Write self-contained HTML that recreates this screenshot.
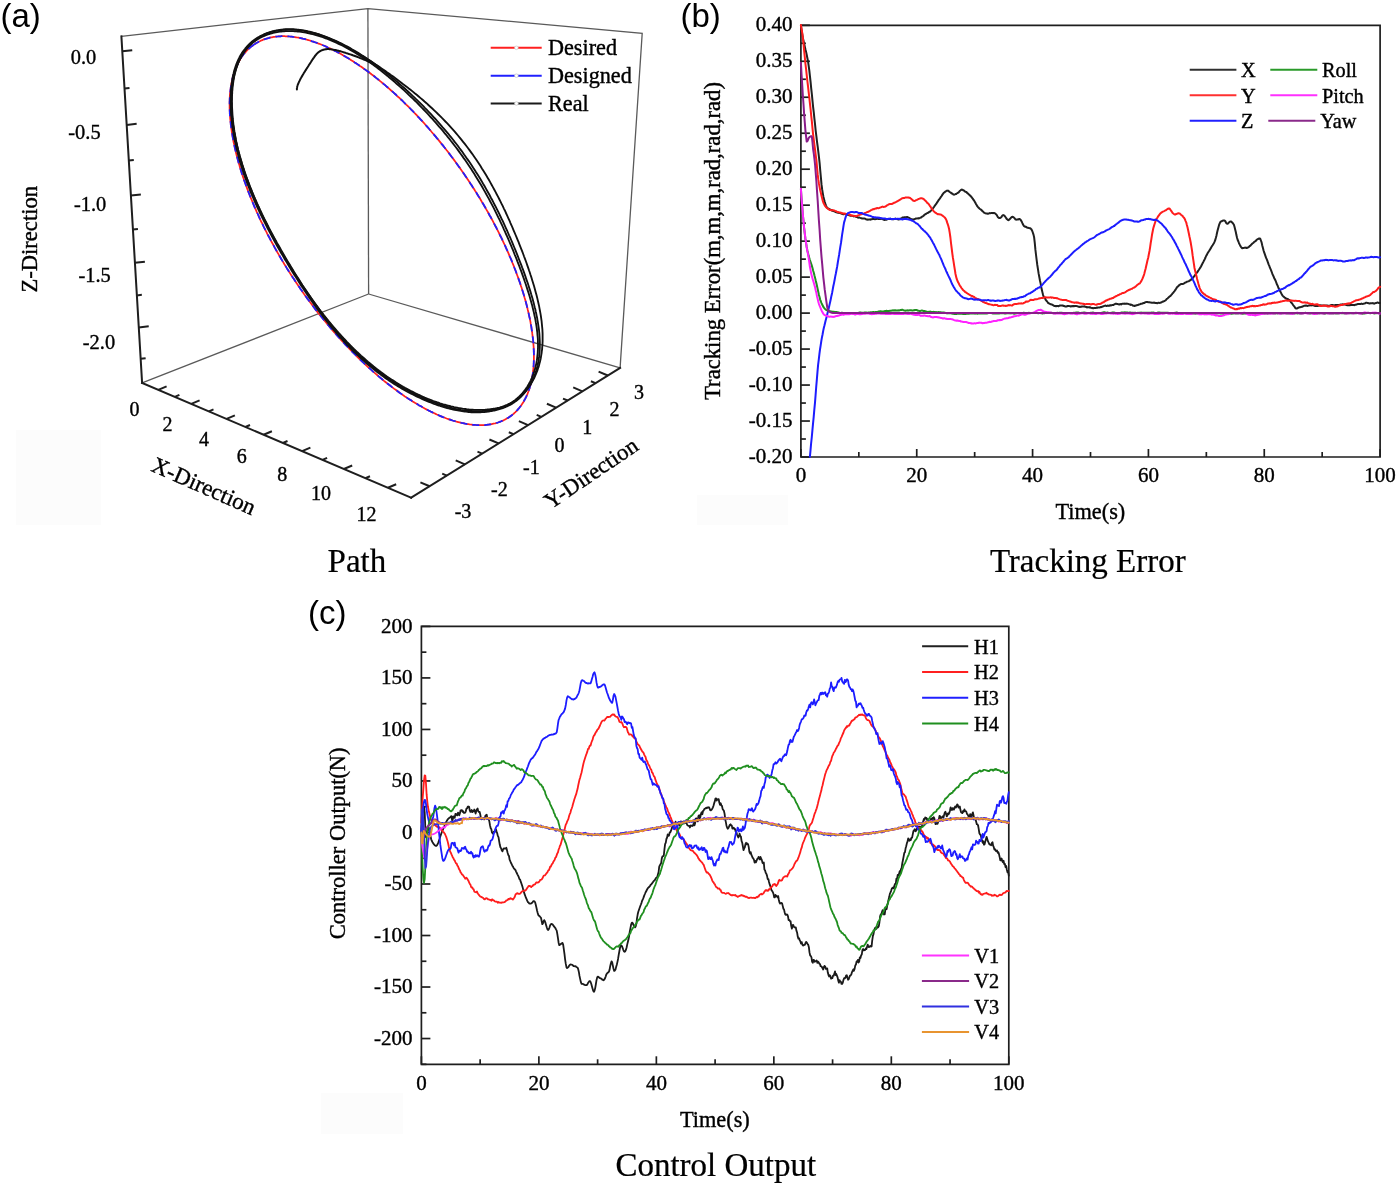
<!DOCTYPE html>
<html><head><meta charset="utf-8"><title>Figure</title>
<style>html,body{margin:0;padding:0;background:#fff;} svg{display:block;}</style></head>
<body><svg width="1400" height="1186" viewBox="0 0 1400 1186">
<rect width="1400" height="1186" fill="#fff"/>
<rect x="16" y="430" width="85" height="95" fill="#fcfcfc"/>
<rect x="697" y="495" width="91" height="30" fill="#fcfcfc"/>
<rect x="321" y="1093" width="82" height="41" fill="#fcfcfc"/>
<path d="M800.9,457.0 L800.9,25.3 L1380.1,25.3 L1380.1,457.0 Z" fill="none" stroke="#1e1e1e" stroke-width="1.7"/>
<line x1="800.90" y1="25.30" x2="809.90" y2="25.30" stroke="#1e1e1e" stroke-width="1.7" />
<text x="792.4" y="31.4" font-family="'Liberation Serif',serif" font-size="21" text-anchor="end" stroke="#000" stroke-width="0.38" >0.40</text>
<line x1="800.90" y1="43.29" x2="805.90" y2="43.29" stroke="#1e1e1e" stroke-width="1.7" />
<line x1="800.90" y1="61.27" x2="809.90" y2="61.27" stroke="#1e1e1e" stroke-width="1.7" />
<text x="792.4" y="67.4" font-family="'Liberation Serif',serif" font-size="21" text-anchor="end" stroke="#000" stroke-width="0.38" >0.35</text>
<line x1="800.90" y1="79.26" x2="805.90" y2="79.26" stroke="#1e1e1e" stroke-width="1.7" />
<line x1="800.90" y1="97.25" x2="809.90" y2="97.25" stroke="#1e1e1e" stroke-width="1.7" />
<text x="792.4" y="103.3" font-family="'Liberation Serif',serif" font-size="21" text-anchor="end" stroke="#000" stroke-width="0.38" >0.30</text>
<line x1="800.90" y1="115.24" x2="805.90" y2="115.24" stroke="#1e1e1e" stroke-width="1.7" />
<line x1="800.90" y1="133.23" x2="809.90" y2="133.23" stroke="#1e1e1e" stroke-width="1.7" />
<text x="792.4" y="139.3" font-family="'Liberation Serif',serif" font-size="21" text-anchor="end" stroke="#000" stroke-width="0.38" >0.25</text>
<line x1="800.90" y1="151.21" x2="805.90" y2="151.21" stroke="#1e1e1e" stroke-width="1.7" />
<line x1="800.90" y1="169.20" x2="809.90" y2="169.20" stroke="#1e1e1e" stroke-width="1.7" />
<text x="792.4" y="175.3" font-family="'Liberation Serif',serif" font-size="21" text-anchor="end" stroke="#000" stroke-width="0.38" >0.20</text>
<line x1="800.90" y1="187.19" x2="805.90" y2="187.19" stroke="#1e1e1e" stroke-width="1.7" />
<line x1="800.90" y1="205.18" x2="809.90" y2="205.18" stroke="#1e1e1e" stroke-width="1.7" />
<text x="792.4" y="211.3" font-family="'Liberation Serif',serif" font-size="21" text-anchor="end" stroke="#000" stroke-width="0.38" >0.15</text>
<line x1="800.90" y1="223.16" x2="805.90" y2="223.16" stroke="#1e1e1e" stroke-width="1.7" />
<line x1="800.90" y1="241.15" x2="809.90" y2="241.15" stroke="#1e1e1e" stroke-width="1.7" />
<text x="792.4" y="247.3" font-family="'Liberation Serif',serif" font-size="21" text-anchor="end" stroke="#000" stroke-width="0.38" >0.10</text>
<line x1="800.90" y1="259.14" x2="805.90" y2="259.14" stroke="#1e1e1e" stroke-width="1.7" />
<line x1="800.90" y1="277.12" x2="809.90" y2="277.12" stroke="#1e1e1e" stroke-width="1.7" />
<text x="792.4" y="283.2" font-family="'Liberation Serif',serif" font-size="21" text-anchor="end" stroke="#000" stroke-width="0.38" >0.05</text>
<line x1="800.90" y1="295.11" x2="805.90" y2="295.11" stroke="#1e1e1e" stroke-width="1.7" />
<line x1="800.90" y1="313.10" x2="809.90" y2="313.10" stroke="#1e1e1e" stroke-width="1.7" />
<text x="792.4" y="319.2" font-family="'Liberation Serif',serif" font-size="21" text-anchor="end" stroke="#000" stroke-width="0.38" >0.00</text>
<line x1="800.90" y1="331.09" x2="805.90" y2="331.09" stroke="#1e1e1e" stroke-width="1.7" />
<line x1="800.90" y1="349.07" x2="809.90" y2="349.07" stroke="#1e1e1e" stroke-width="1.7" />
<text x="792.4" y="355.2" font-family="'Liberation Serif',serif" font-size="21" text-anchor="end" stroke="#000" stroke-width="0.38" >-0.05</text>
<line x1="800.90" y1="367.06" x2="805.90" y2="367.06" stroke="#1e1e1e" stroke-width="1.7" />
<line x1="800.90" y1="385.05" x2="809.90" y2="385.05" stroke="#1e1e1e" stroke-width="1.7" />
<text x="792.4" y="391.2" font-family="'Liberation Serif',serif" font-size="21" text-anchor="end" stroke="#000" stroke-width="0.38" >-0.10</text>
<line x1="800.90" y1="403.04" x2="805.90" y2="403.04" stroke="#1e1e1e" stroke-width="1.7" />
<line x1="800.90" y1="421.03" x2="809.90" y2="421.03" stroke="#1e1e1e" stroke-width="1.7" />
<text x="792.4" y="427.1" font-family="'Liberation Serif',serif" font-size="21" text-anchor="end" stroke="#000" stroke-width="0.38" >-0.15</text>
<line x1="800.90" y1="439.01" x2="805.90" y2="439.01" stroke="#1e1e1e" stroke-width="1.7" />
<line x1="800.90" y1="457.00" x2="809.90" y2="457.00" stroke="#1e1e1e" stroke-width="1.7" />
<text x="792.4" y="463.1" font-family="'Liberation Serif',serif" font-size="21" text-anchor="end" stroke="#000" stroke-width="0.38" >-0.20</text>
<line x1="800.90" y1="457.00" x2="800.90" y2="449.00" stroke="#1e1e1e" stroke-width="1.7" />
<text x="800.9" y="481.8" font-family="'Liberation Serif',serif" font-size="21" text-anchor="middle" stroke="#000" stroke-width="0.38" >0</text>
<line x1="858.82" y1="457.00" x2="858.82" y2="452.00" stroke="#1e1e1e" stroke-width="1.7" />
<line x1="916.74" y1="457.00" x2="916.74" y2="449.00" stroke="#1e1e1e" stroke-width="1.7" />
<text x="916.7" y="481.8" font-family="'Liberation Serif',serif" font-size="21" text-anchor="middle" stroke="#000" stroke-width="0.38" >20</text>
<line x1="974.66" y1="457.00" x2="974.66" y2="452.00" stroke="#1e1e1e" stroke-width="1.7" />
<line x1="1032.58" y1="457.00" x2="1032.58" y2="449.00" stroke="#1e1e1e" stroke-width="1.7" />
<text x="1032.6" y="481.8" font-family="'Liberation Serif',serif" font-size="21" text-anchor="middle" stroke="#000" stroke-width="0.38" >40</text>
<line x1="1090.50" y1="457.00" x2="1090.50" y2="452.00" stroke="#1e1e1e" stroke-width="1.7" />
<line x1="1148.42" y1="457.00" x2="1148.42" y2="449.00" stroke="#1e1e1e" stroke-width="1.7" />
<text x="1148.4" y="481.8" font-family="'Liberation Serif',serif" font-size="21" text-anchor="middle" stroke="#000" stroke-width="0.38" >60</text>
<line x1="1206.34" y1="457.00" x2="1206.34" y2="452.00" stroke="#1e1e1e" stroke-width="1.7" />
<line x1="1264.26" y1="457.00" x2="1264.26" y2="449.00" stroke="#1e1e1e" stroke-width="1.7" />
<text x="1264.3" y="481.8" font-family="'Liberation Serif',serif" font-size="21" text-anchor="middle" stroke="#000" stroke-width="0.38" >80</text>
<line x1="1322.18" y1="457.00" x2="1322.18" y2="452.00" stroke="#1e1e1e" stroke-width="1.7" />
<line x1="1380.10" y1="457.00" x2="1380.10" y2="449.00" stroke="#1e1e1e" stroke-width="1.7" />
<text x="1380.1" y="481.8" font-family="'Liberation Serif',serif" font-size="21" text-anchor="middle" stroke="#000" stroke-width="0.38" >100</text>
<text x="1090.4" y="519.2" font-family="'Liberation Serif',serif" font-size="22.3" text-anchor="middle" stroke="#000" stroke-width="0.38" >Time(s)</text>
<text x="719.8" y="241.0" font-family="'Liberation Serif',serif" font-size="22.7" text-anchor="middle" stroke="#000" stroke-width="0.38" transform="rotate(-90 719.8 241.0)">Tracking Error(m,m,m,rad,rad,rad)</text>
<line x1="1189.70" y1="69.70" x2="1236.40" y2="69.70" stroke="#303030" stroke-width="2" />
<text x="1241.0" y="77.1" font-family="'Liberation Serif',serif" font-size="20.3" text-anchor="start" stroke="#000" stroke-width="0.38" >X</text>
<line x1="1189.70" y1="95.20" x2="1236.40" y2="95.20" stroke="#ff3030" stroke-width="2" />
<text x="1241.0" y="102.6" font-family="'Liberation Serif',serif" font-size="20.3" text-anchor="start" stroke="#000" stroke-width="0.38" >Y</text>
<line x1="1189.70" y1="120.70" x2="1236.40" y2="120.70" stroke="#2020ff" stroke-width="2" />
<text x="1241.0" y="128.1" font-family="'Liberation Serif',serif" font-size="20.3" text-anchor="start" stroke="#000" stroke-width="0.38" >Z</text>
<line x1="1270.30" y1="69.70" x2="1317.30" y2="69.70" stroke="#2a9a2a" stroke-width="2" />
<text x="1322.0" y="77.1" font-family="'Liberation Serif',serif" font-size="20.3" text-anchor="start" stroke="#000" stroke-width="0.38" >Roll</text>
<line x1="1270.30" y1="95.20" x2="1317.30" y2="95.20" stroke="#ff30ff" stroke-width="2" />
<text x="1322.0" y="102.6" font-family="'Liberation Serif',serif" font-size="20.3" text-anchor="start" stroke="#000" stroke-width="0.38" >Pitch</text>
<line x1="1268.30" y1="120.70" x2="1315.30" y2="120.70" stroke="#8a2a8a" stroke-width="2" />
<text x="1320.2" y="128.1" font-family="'Liberation Serif',serif" font-size="20.3" text-anchor="start" stroke="#000" stroke-width="0.38" >Yaw</text>
<text x="680.5" y="27.0" font-family="'Liberation Sans',sans-serif" font-size="33" text-anchor="start" >(b)</text>
<text x="1087.8" y="572.3" font-family="'Liberation Serif',serif" font-size="33" text-anchor="middle" stroke="#000" stroke-width="0.22" >Tracking Error</text>
<path d="M800.9,25.7 L801.5,29.8 L802.2,33.8 L802.8,37.4 L803.5,40.7 L804.1,43.8 L804.8,46.6 L805.4,49.3 L806.1,51.9 L806.7,54.6 L807.3,57.7 L808.0,61.1 L808.6,65.3 L809.3,70.3 L809.9,75.8 L810.6,82.1 L811.2,88.4 L811.9,94.6 L812.5,100.8 L813.1,106.9 L813.8,112.7 L814.4,118.7 L815.1,124.8 L815.7,130.8 L816.4,136.4 L817.0,141.6 L817.7,146.6 L818.3,151.6 L818.9,156.7 L819.6,162.9 L820.2,170.0 L820.9,177.5 L821.5,184.4 L822.2,189.7 L822.8,193.3 L823.4,196.7 L824.1,199.4 L824.7,201.7 L825.4,203.9 L826.0,205.6 L826.7,206.9 L827.3,207.9 L828.0,208.5 L828.6,208.7 L829.2,208.9 L829.9,209.5 L830.5,209.8 L831.2,210.0 L831.8,210.6 L832.5,210.8 L833.1,210.9 L833.8,211.2 L834.4,211.3 L835.0,211.7 L835.7,212.1 L836.3,212.3 L837.0,212.4 L837.6,212.7 L838.3,212.7 L838.9,212.9 L839.6,213.0 L840.2,213.1 L840.8,213.4 L841.5,213.7 L842.1,213.8 L842.8,214.0 L843.4,214.3 L844.1,214.2 L844.7,213.9 L845.4,214.1 L846.0,214.3 L846.6,214.2 L847.3,214.5 L847.9,215.0 L848.6,215.1 L849.2,215.3 L849.9,215.5 L850.5,215.7 L851.2,215.7 L851.8,215.8 L852.4,215.8 L853.1,216.1 L853.7,216.4 L854.4,216.2 L855.0,216.3 L855.7,216.7 L856.3,216.9 L857.0,216.8 L857.6,217.3 L858.2,217.7 L858.9,217.6 L859.5,217.6 L860.2,217.9 L860.8,218.1 L861.5,218.3 L862.1,218.5 L862.8,218.5 L863.4,218.5 L864.0,218.6 L864.7,218.6 L865.3,218.8 L866.0,219.3 L866.6,219.6 L867.3,219.5 L867.9,219.7 L868.5,219.6 L869.2,219.4 L869.8,219.4 L870.5,219.7 L871.1,219.3 L871.8,219.3 L872.4,219.1 L873.1,219.1 L873.7,219.1 L874.3,219.1 L875.0,219.3 L875.6,219.1 L876.3,219.0 L876.9,218.5 L877.6,218.8 L878.2,218.9 L878.9,219.0 L879.5,218.9 L880.1,219.1 L880.8,218.9 L881.4,218.7 L882.1,219.0 L882.7,219.2 L883.4,219.4 L884.0,219.8 L884.7,219.9 L885.3,219.8 L885.9,219.7 L886.6,219.7 L887.2,219.4 L887.9,219.1 L888.5,219.0 L889.2,218.9 L889.8,218.9 L890.5,218.8 L891.1,218.9 L891.7,218.9 L892.4,219.2 L893.0,219.1 L893.7,219.2 L894.3,219.1 L895.0,219.0 L895.6,218.6 L896.3,218.9 L896.9,219.0 L897.5,219.2 L898.2,219.2 L898.8,219.6 L899.5,219.2 L900.1,218.9 L900.8,218.6 L901.4,218.2 L902.1,217.8 L902.7,217.4 L903.3,217.7 L904.0,217.4 L904.6,217.2 L905.3,217.2 L905.9,217.3 L906.6,217.1 L907.2,217.0 L907.8,217.3 L908.5,217.4 L909.1,217.9 L909.8,218.3 L910.4,218.8 L911.1,219.0 L911.7,219.5 L912.4,219.4 L913.0,219.3 L913.6,219.4 L914.3,219.3 L914.9,219.0 L915.6,218.6 L916.2,218.6 L916.9,218.4 L917.5,218.4 L918.2,218.2 L918.8,218.5 L919.4,218.1 L920.1,217.9 L920.7,217.5 L921.4,217.4 L922.0,216.7 L922.7,216.3 L923.3,215.9 L924.0,215.4 L924.6,214.7 L925.2,214.3 L925.9,214.0 L926.5,213.5 L927.2,213.1 L927.8,212.8 L928.5,212.7 L929.1,212.0 L929.8,211.8 L930.4,211.2 L931.0,210.6 L931.7,209.8 L932.3,209.3 L933.0,208.3 L933.6,207.4 L934.3,206.6 L934.9,205.6 L935.6,204.7 L936.2,203.9 L936.8,202.9 L937.5,201.9 L938.1,200.9 L938.8,199.9 L939.4,199.1 L940.1,198.1 L940.7,197.2 L941.4,196.3 L942.0,195.4 L942.6,194.3 L943.3,193.5 L943.9,192.7 L944.6,192.3 L945.2,191.7 L945.9,191.3 L946.5,190.8 L947.1,190.8 L947.8,190.6 L948.4,190.8 L949.1,191.5 L949.7,192.0 L950.4,192.4 L951.0,192.8 L951.7,193.5 L952.3,193.6 L952.9,194.1 L953.6,194.6 L954.2,194.7 L954.9,194.4 L955.5,194.1 L956.2,194.0 L956.8,193.4 L957.5,193.1 L958.1,192.7 L958.7,192.3 L959.4,191.4 L960.0,190.8 L960.7,190.3 L961.3,189.7 L962.0,189.6 L962.6,189.9 L963.3,190.3 L963.9,190.5 L964.5,191.1 L965.2,191.6 L965.8,191.9 L966.5,192.0 L967.1,192.9 L967.8,193.4 L968.4,194.0 L969.1,194.6 L969.7,195.3 L970.3,195.7 L971.0,196.5 L971.6,197.2 L972.3,198.1 L972.9,198.9 L973.6,200.0 L974.2,200.7 L974.9,201.9 L975.5,203.0 L976.1,204.2 L976.8,205.3 L977.4,206.4 L978.1,207.2 L978.7,207.8 L979.4,208.5 L980.0,209.0 L980.7,209.5 L981.3,209.8 L981.9,210.5 L982.6,211.3 L983.2,211.8 L983.9,212.4 L984.5,212.9 L985.2,213.2 L985.8,213.4 L986.5,213.4 L987.1,213.5 L987.7,213.7 L988.4,213.7 L989.0,213.4 L989.7,213.1 L990.3,213.2 L991.0,213.1 L991.6,213.0 L992.2,212.9 L992.9,213.2 L993.5,213.1 L994.2,213.1 L994.8,213.2 L995.5,213.8 L996.1,214.4 L996.8,215.1 L997.4,216.2 L998.0,217.2 L998.7,217.8 L999.3,218.1 L1000.0,218.0 L1000.6,217.7 L1001.3,217.2 L1001.9,216.2 L1002.6,215.4 L1003.2,215.1 L1003.8,215.3 L1004.5,215.8 L1005.1,216.5 L1005.8,217.5 L1006.4,218.5 L1007.1,219.3 L1007.7,219.8 L1008.4,220.2 L1009.0,219.8 L1009.6,219.2 L1010.3,218.5 L1010.9,217.8 L1011.6,217.2 L1012.2,216.8 L1012.9,217.0 L1013.5,217.2 L1014.2,217.9 L1014.8,218.5 L1015.4,219.3 L1016.1,219.7 L1016.7,219.6 L1017.4,219.4 L1018.0,219.6 L1018.7,219.2 L1019.3,219.0 L1020.0,219.2 L1020.6,219.7 L1021.2,220.7 L1021.9,222.0 L1022.5,223.5 L1023.2,224.7 L1023.8,225.9 L1024.5,226.3 L1025.1,226.8 L1025.8,226.6 L1026.4,227.2 L1027.0,227.5 L1027.7,227.8 L1028.3,227.8 L1029.0,228.1 L1029.6,228.2 L1030.3,228.3 L1030.9,228.8 L1031.5,229.5 L1032.2,230.9 L1032.8,232.5 L1033.5,234.6 L1034.1,237.2 L1034.8,243.1 L1035.4,249.7 L1036.1,255.5 L1036.7,260.3 L1037.3,265.0 L1038.0,269.3 L1038.6,273.4 L1039.3,277.0 L1039.9,280.2 L1040.6,283.4 L1041.2,286.9 L1041.9,290.0 L1042.5,292.6 L1043.1,295.1 L1043.8,297.0 L1044.4,297.6 L1045.1,298.5 L1045.7,299.8 L1046.4,300.7 L1047.0,301.3 L1047.7,302.3 L1048.3,303.0 L1048.9,303.3 L1049.6,303.7 L1050.2,304.0 L1050.9,304.3 L1051.5,304.4 L1052.2,304.7 L1052.8,305.0 L1053.5,305.6 L1054.1,305.8 L1054.7,306.1 L1055.4,305.9 L1056.0,306.3 L1056.7,306.0 L1057.3,306.1 L1058.0,306.0 L1058.6,306.3 L1059.3,305.8 L1059.9,305.5 L1060.5,305.4 L1061.2,305.6 L1061.8,305.4 L1062.5,305.4 L1063.1,305.8 L1063.8,306.0 L1064.4,306.1 L1065.1,306.5 L1065.7,306.6 L1066.3,306.5 L1067.0,306.3 L1067.6,306.0 L1068.3,305.9 L1068.9,305.9 L1069.6,306.1 L1070.2,306.3 L1070.8,306.5 L1071.5,306.2 L1072.1,306.1 L1072.8,306.2 L1073.4,306.0 L1074.1,306.2 L1074.7,306.1 L1075.4,306.0 L1076.0,306.0 L1076.6,306.1 L1077.3,306.2 L1077.9,306.4 L1078.6,306.8 L1079.2,306.8 L1079.9,307.0 L1080.5,306.7 L1081.2,306.7 L1081.8,306.5 L1082.4,306.5 L1083.1,306.4 L1083.7,306.4 L1084.4,306.3 L1085.0,306.7 L1085.7,306.9 L1086.3,306.9 L1087.0,307.4 L1087.6,307.3 L1088.2,307.3 L1088.9,307.2 L1089.5,307.5 L1090.2,307.2 L1090.8,307.7 L1091.5,307.9 L1092.1,308.2 L1092.8,307.9 L1093.4,308.3 L1094.0,308.1 L1094.7,308.1 L1095.3,308.0 L1096.0,308.0 L1096.6,307.6 L1097.3,307.8 L1097.9,307.4 L1098.6,307.6 L1099.2,307.4 L1099.8,307.4 L1100.5,307.1 L1101.1,307.2 L1101.8,306.8 L1102.4,306.7 L1103.1,306.3 L1103.7,306.2 L1104.4,305.9 L1105.0,305.7 L1105.6,305.6 L1106.3,306.0 L1106.9,305.9 L1107.6,305.6 L1108.2,305.7 L1108.9,305.9 L1109.5,305.5 L1110.2,305.3 L1110.8,305.5 L1111.4,305.3 L1112.1,305.1 L1112.7,305.0 L1113.4,304.9 L1114.0,304.4 L1114.7,304.3 L1115.3,303.8 L1115.9,303.7 L1116.6,303.8 L1117.2,304.1 L1117.9,304.0 L1118.5,304.4 L1119.2,304.6 L1119.8,304.2 L1120.5,304.1 L1121.1,304.4 L1121.7,303.9 L1122.4,303.8 L1123.0,303.8 L1123.7,303.7 L1124.3,303.6 L1125.0,303.9 L1125.6,303.7 L1126.3,303.6 L1126.9,303.8 L1127.5,303.7 L1128.2,303.9 L1128.8,304.1 L1129.5,304.4 L1130.1,304.4 L1130.8,304.9 L1131.4,304.7 L1132.1,304.9 L1132.7,305.4 L1133.3,305.8 L1134.0,305.7 L1134.6,306.0 L1135.3,305.7 L1135.9,305.6 L1136.6,305.2 L1137.2,305.2 L1137.9,304.9 L1138.5,304.8 L1139.1,304.4 L1139.8,304.2 L1140.4,304.0 L1141.1,303.7 L1141.7,303.7 L1142.4,303.6 L1143.0,303.2 L1143.7,303.0 L1144.3,303.0 L1144.9,302.5 L1145.6,302.2 L1146.2,302.1 L1146.9,302.0 L1147.5,302.0 L1148.2,302.2 L1148.8,302.2 L1149.5,302.3 L1150.1,302.4 L1150.7,302.4 L1151.4,302.7 L1152.0,302.7 L1152.7,302.8 L1153.3,302.7 L1154.0,302.6 L1154.6,302.7 L1155.2,303.0 L1155.9,303.0 L1156.5,303.0 L1157.2,303.2 L1157.8,303.0 L1158.5,302.7 L1159.1,302.8 L1159.8,302.9 L1160.4,302.7 L1161.0,302.5 L1161.7,302.3 L1162.3,301.8 L1163.0,301.5 L1163.6,301.5 L1164.3,301.0 L1164.9,300.7 L1165.6,300.3 L1166.2,299.8 L1166.8,298.9 L1167.5,298.5 L1168.1,297.9 L1168.8,297.2 L1169.4,296.6 L1170.1,296.2 L1170.7,295.7 L1171.4,294.7 L1172.0,294.2 L1172.6,293.3 L1173.3,292.7 L1173.9,291.8 L1174.6,291.1 L1175.2,290.1 L1175.9,289.1 L1176.5,288.1 L1177.2,287.0 L1177.8,286.7 L1178.4,286.0 L1179.1,285.3 L1179.7,284.7 L1180.4,284.5 L1181.0,284.0 L1181.7,283.9 L1182.3,283.9 L1183.0,283.9 L1183.6,283.7 L1184.2,283.2 L1184.9,282.7 L1185.5,282.5 L1186.2,282.3 L1186.8,281.8 L1187.5,281.6 L1188.1,281.4 L1188.8,281.2 L1189.4,280.7 L1190.0,280.3 L1190.7,280.2 L1191.3,279.3 L1192.0,278.6 L1192.6,278.0 L1193.3,277.4 L1193.9,276.5 L1194.5,275.8 L1195.2,274.9 L1195.8,274.3 L1196.5,273.3 L1197.1,272.3 L1197.8,271.5 L1198.4,270.5 L1199.1,269.5 L1199.7,268.5 L1200.3,267.6 L1201.0,266.5 L1201.6,265.3 L1202.3,263.8 L1202.9,262.7 L1203.6,261.4 L1204.2,260.2 L1204.9,258.9 L1205.5,257.5 L1206.1,256.0 L1206.8,254.9 L1207.4,253.6 L1208.1,252.4 L1208.7,251.4 L1209.4,250.6 L1210.0,249.5 L1210.7,248.4 L1211.3,247.3 L1211.9,246.3 L1212.6,245.2 L1213.2,244.2 L1213.9,243.2 L1214.5,241.9 L1215.2,240.2 L1215.8,238.1 L1216.5,235.4 L1217.1,232.5 L1217.7,230.0 L1218.4,227.4 L1219.0,225.2 L1219.7,223.4 L1220.3,222.1 L1221.0,221.5 L1221.6,221.3 L1222.3,220.9 L1222.9,220.6 L1223.5,220.5 L1224.2,220.5 L1224.8,220.7 L1225.5,221.5 L1226.1,222.8 L1226.8,223.6 L1227.4,223.7 L1228.1,223.5 L1228.7,222.7 L1229.3,222.1 L1230.0,221.7 L1230.6,221.6 L1231.3,221.5 L1231.9,222.3 L1232.6,222.9 L1233.2,223.7 L1233.9,224.8 L1234.5,226.8 L1235.1,229.3 L1235.8,232.0 L1236.4,235.1 L1237.1,237.9 L1237.7,240.0 L1238.4,241.5 L1239.0,243.2 L1239.6,244.4 L1240.3,245.7 L1240.9,246.9 L1241.6,247.7 L1242.2,248.2 L1242.9,248.0 L1243.5,247.9 L1244.2,247.8 L1244.8,247.7 L1245.4,247.6 L1246.1,247.8 L1246.7,248.0 L1247.4,247.7 L1248.0,247.5 L1248.7,247.1 L1249.3,246.5 L1250.0,245.8 L1250.6,245.5 L1251.2,244.7 L1251.9,244.1 L1252.5,243.4 L1253.2,243.0 L1253.8,242.3 L1254.5,241.7 L1255.1,241.4 L1255.8,240.9 L1256.4,240.0 L1257.0,239.6 L1257.7,239.2 L1258.3,238.8 L1259.0,238.5 L1259.6,238.4 L1260.3,238.9 L1260.9,240.5 L1261.6,242.4 L1262.2,245.2 L1262.8,247.6 L1263.5,250.2 L1264.1,252.2 L1264.8,254.2 L1265.4,255.9 L1266.1,257.9 L1266.7,259.1 L1267.4,260.9 L1268.0,262.7 L1268.6,264.3 L1269.3,265.8 L1269.9,267.7 L1270.6,269.2 L1271.2,270.6 L1271.9,272.5 L1272.5,274.2 L1273.2,275.6 L1273.8,277.0 L1274.4,278.6 L1275.1,279.8 L1275.7,281.0 L1276.4,282.9 L1277.0,284.6 L1277.7,285.8 L1278.3,287.5 L1278.9,288.8 L1279.6,290.0 L1280.2,291.2 L1280.9,292.6 L1281.5,293.8 L1282.2,295.1 L1282.8,295.9 L1283.5,296.6 L1284.1,297.0 L1284.7,297.7 L1285.4,298.0 L1286.0,298.5 L1286.7,298.8 L1287.3,299.0 L1288.0,299.1 L1288.6,299.7 L1289.3,300.0 L1289.9,300.6 L1290.5,301.5 L1291.2,302.6 L1291.8,303.1 L1292.5,304.0 L1293.1,305.0 L1293.8,305.9 L1294.4,306.5 L1295.1,307.7 L1295.7,308.3 L1296.3,308.6 L1297.0,308.6 L1297.6,308.1 L1298.3,307.7 L1298.9,307.5 L1299.6,307.3 L1300.2,307.2 L1300.9,307.1 L1301.5,306.8 L1302.1,306.7 L1302.8,306.5 L1303.4,306.1 L1304.1,305.8 L1304.7,305.7 L1305.4,305.6 L1306.0,305.7 L1306.7,305.6 L1307.3,305.9 L1307.9,305.8 L1308.6,305.6 L1309.2,305.5 L1309.9,305.3 L1310.5,305.3 L1311.2,305.5 L1311.8,305.1 L1312.5,305.1 L1313.1,305.3 L1313.7,305.5 L1314.4,305.4 L1315.0,306.0 L1315.7,305.8 L1316.3,306.1 L1317.0,305.8 L1317.6,306.0 L1318.2,305.7 L1318.9,305.7 L1319.5,305.3 L1320.2,305.4 L1320.8,305.3 L1321.5,305.4 L1322.1,305.5 L1322.8,305.6 L1323.4,305.5 L1324.0,305.4 L1324.7,305.4 L1325.3,305.4 L1326.0,305.4 L1326.6,305.5 L1327.3,305.7 L1327.9,305.6 L1328.6,305.9 L1329.2,305.8 L1329.8,305.7 L1330.5,305.3 L1331.1,305.2 L1331.8,304.9 L1332.4,305.0 L1333.1,305.2 L1333.7,305.4 L1334.4,305.2 L1335.0,305.2 L1335.6,305.1 L1336.3,305.0 L1336.9,305.0 L1337.6,305.0 L1338.2,305.0 L1338.9,305.1 L1339.5,304.9 L1340.2,304.6 L1340.8,304.7 L1341.4,304.6 L1342.1,304.3 L1342.7,304.5 L1343.4,304.6 L1344.0,304.5 L1344.7,304.4 L1345.3,304.6 L1346.0,304.9 L1346.6,304.7 L1347.2,305.2 L1347.9,305.3 L1348.5,305.3 L1349.2,305.1 L1349.8,305.3 L1350.5,304.9 L1351.1,304.8 L1351.8,305.0 L1352.4,304.9 L1353.0,305.0 L1353.7,305.1 L1354.3,305.2 L1355.0,304.8 L1355.6,304.8 L1356.3,304.5 L1356.9,304.4 L1357.6,304.0 L1358.2,304.1 L1358.8,303.9 L1359.5,304.0 L1360.1,304.0 L1360.8,304.0 L1361.4,303.6 L1362.1,303.8 L1362.7,303.9 L1363.3,303.8 L1364.0,303.6 L1364.6,303.5 L1365.3,303.3 L1365.9,302.8 L1366.6,302.7 L1367.2,302.9 L1367.9,303.0 L1368.5,303.2 L1369.1,303.4 L1369.8,303.5 L1370.4,303.2 L1371.1,303.3 L1371.7,303.2 L1372.4,303.2 L1373.0,303.1 L1373.7,303.5 L1374.3,303.7 L1374.9,303.4 L1375.6,303.1 L1376.2,303.0 L1376.9,302.7 L1377.5,302.4 L1378.2,302.8 L1378.8,302.9 L1379.5,302.9 L1380.1,302.9" fill="none" stroke="#202020" stroke-width="2.0" stroke-linejoin="round" stroke-linecap="round" />
<path d="M800.9,25.0 L801.5,28.5 L802.2,32.6 L802.8,37.5 L803.5,43.5 L804.1,50.4 L804.8,57.1 L805.4,63.5 L806.1,69.1 L806.7,74.9 L807.3,80.5 L808.0,86.2 L808.6,91.6 L809.3,97.5 L809.9,103.2 L810.6,109.4 L811.2,115.7 L811.9,121.9 L812.5,128.3 L813.1,134.5 L813.8,139.9 L814.4,144.9 L815.1,150.0 L815.7,155.0 L816.4,160.3 L817.0,167.2 L817.7,174.4 L818.3,179.4 L818.9,183.4 L819.6,187.1 L820.2,190.3 L820.9,193.0 L821.5,195.7 L822.2,198.6 L822.8,200.9 L823.4,202.7 L824.1,204.1 L824.7,205.4 L825.4,206.3 L826.0,207.2 L826.7,207.8 L827.3,208.3 L828.0,208.7 L828.6,209.1 L829.2,209.7 L829.9,210.1 L830.5,210.1 L831.2,210.3 L831.8,210.2 L832.5,210.1 L833.1,210.2 L833.8,210.4 L834.4,210.4 L835.0,210.9 L835.7,211.1 L836.3,211.3 L837.0,211.8 L837.6,212.1 L838.3,212.1 L838.9,212.3 L839.6,212.6 L840.2,212.6 L840.8,212.7 L841.5,213.0 L842.1,213.2 L842.8,213.3 L843.4,213.4 L844.1,213.7 L844.7,213.6 L845.4,213.7 L846.0,213.9 L846.6,214.0 L847.3,214.0 L847.9,214.1 L848.6,214.5 L849.2,214.5 L849.9,214.7 L850.5,215.1 L851.2,215.6 L851.8,215.3 L852.4,215.7 L853.1,215.8 L853.7,215.7 L854.4,215.9 L855.0,216.1 L855.7,216.1 L856.3,216.2 L857.0,216.0 L857.6,215.4 L858.2,215.4 L858.9,215.1 L859.5,214.9 L860.2,214.6 L860.8,214.5 L861.5,214.2 L862.1,213.8 L862.8,213.7 L863.4,213.7 L864.0,213.6 L864.7,213.2 L865.3,212.9 L866.0,212.6 L866.6,212.3 L867.3,212.1 L867.9,212.0 L868.5,211.5 L869.2,211.3 L869.8,211.1 L870.5,210.5 L871.1,210.1 L871.8,209.8 L872.4,209.5 L873.1,209.1 L873.7,209.3 L874.3,208.9 L875.0,208.7 L875.6,208.6 L876.3,208.5 L876.9,208.0 L877.6,208.1 L878.2,208.3 L878.9,208.1 L879.5,207.8 L880.1,207.6 L880.8,207.3 L881.4,207.0 L882.1,206.8 L882.7,206.6 L883.4,206.9 L884.0,206.9 L884.7,206.7 L885.3,206.5 L885.9,206.3 L886.6,205.7 L887.2,205.1 L887.9,204.9 L888.5,204.4 L889.2,204.2 L889.8,204.1 L890.5,204.1 L891.1,204.0 L891.7,204.0 L892.4,203.8 L893.0,203.4 L893.7,203.0 L894.3,202.7 L895.0,202.5 L895.6,202.2 L896.3,201.9 L896.9,201.5 L897.5,201.2 L898.2,200.7 L898.8,200.5 L899.5,200.0 L900.1,199.7 L900.8,199.2 L901.4,198.6 L902.1,198.3 L902.7,198.2 L903.3,198.0 L904.0,197.9 L904.6,197.9 L905.3,197.5 L905.9,197.4 L906.6,197.5 L907.2,197.5 L907.8,197.6 L908.5,197.5 L909.1,197.7 L909.8,197.8 L910.4,198.2 L911.1,198.7 L911.7,199.3 L912.4,199.9 L913.0,200.5 L913.6,200.8 L914.3,200.9 L914.9,200.8 L915.6,200.6 L916.2,200.1 L916.9,199.9 L917.5,199.4 L918.2,199.2 L918.8,198.9 L919.4,198.7 L920.1,198.4 L920.7,198.3 L921.4,198.2 L922.0,198.3 L922.7,198.7 L923.3,198.8 L924.0,199.3 L924.6,200.0 L925.2,200.5 L925.9,201.2 L926.5,201.9 L927.2,202.8 L927.8,203.2 L928.5,203.9 L929.1,204.7 L929.8,205.8 L930.4,206.5 L931.0,207.5 L931.7,208.6 L932.3,209.2 L933.0,210.2 L933.6,211.1 L934.3,211.8 L934.9,212.3 L935.6,212.9 L936.2,213.2 L936.8,213.6 L937.5,214.0 L938.1,214.3 L938.8,214.1 L939.4,214.3 L940.1,214.5 L940.7,214.5 L941.4,214.8 L942.0,215.3 L942.6,215.7 L943.3,216.3 L943.9,216.8 L944.6,217.3 L945.2,218.0 L945.9,219.1 L946.5,220.4 L947.1,222.4 L947.8,224.3 L948.4,226.3 L949.1,229.0 L949.7,232.7 L950.4,237.5 L951.0,243.0 L951.7,248.5 L952.3,253.3 L952.9,257.7 L953.6,261.9 L954.2,265.9 L954.9,270.1 L955.5,274.0 L956.2,276.9 L956.8,279.2 L957.5,281.0 L958.1,282.3 L958.7,283.3 L959.4,284.7 L960.0,285.8 L960.7,286.7 L961.3,287.7 L962.0,288.7 L962.6,289.5 L963.3,290.2 L963.9,290.7 L964.5,291.2 L965.2,292.0 L965.8,292.3 L966.5,292.7 L967.1,293.3 L967.8,293.8 L968.4,293.9 L969.1,294.5 L969.7,294.9 L970.3,295.2 L971.0,295.6 L971.6,295.9 L972.3,296.0 L972.9,296.5 L973.6,296.8 L974.2,297.0 L974.9,297.7 L975.5,298.2 L976.1,298.3 L976.8,298.7 L977.4,299.0 L978.1,299.1 L978.7,299.3 L979.4,299.8 L980.0,300.1 L980.7,300.4 L981.3,300.8 L981.9,301.1 L982.6,301.5 L983.2,302.1 L983.9,302.2 L984.5,302.5 L985.2,302.9 L985.8,302.9 L986.5,303.1 L987.1,303.5 L987.7,303.8 L988.4,303.9 L989.0,304.3 L989.7,304.2 L990.3,304.4 L991.0,304.6 L991.6,304.8 L992.2,304.8 L992.9,305.1 L993.5,305.3 L994.2,305.1 L994.8,304.8 L995.5,305.0 L996.1,305.0 L996.8,305.0 L997.4,305.1 L998.0,305.9 L998.7,306.0 L999.3,306.0 L1000.0,306.1 L1000.6,305.9 L1001.3,305.8 L1001.9,305.7 L1002.6,305.4 L1003.2,305.5 L1003.8,305.8 L1004.5,305.7 L1005.1,305.7 L1005.8,306.0 L1006.4,305.8 L1007.1,305.7 L1007.7,305.6 L1008.4,305.2 L1009.0,305.1 L1009.6,305.4 L1010.3,305.2 L1010.9,305.3 L1011.6,305.4 L1012.2,305.5 L1012.9,304.8 L1013.5,304.5 L1014.2,304.2 L1014.8,304.1 L1015.4,304.0 L1016.1,304.0 L1016.7,303.9 L1017.4,303.8 L1018.0,303.7 L1018.7,303.5 L1019.3,303.4 L1020.0,303.4 L1020.6,303.4 L1021.2,303.3 L1021.9,303.4 L1022.5,303.6 L1023.2,303.3 L1023.8,302.9 L1024.5,302.7 L1025.1,302.3 L1025.8,301.6 L1026.4,301.5 L1027.0,301.7 L1027.7,301.5 L1028.3,301.4 L1029.0,301.0 L1029.6,300.6 L1030.3,299.9 L1030.9,299.8 L1031.5,300.0 L1032.2,300.0 L1032.8,300.0 L1033.5,300.0 L1034.1,299.7 L1034.8,299.2 L1035.4,299.4 L1036.1,299.2 L1036.7,299.3 L1037.3,299.1 L1038.0,298.9 L1038.6,298.6 L1039.3,298.5 L1039.9,298.3 L1040.6,298.2 L1041.2,298.1 L1041.9,298.0 L1042.5,298.0 L1043.1,297.7 L1043.8,297.7 L1044.4,297.5 L1045.1,297.3 L1045.7,297.3 L1046.4,297.5 L1047.0,297.4 L1047.7,297.5 L1048.3,297.4 L1048.9,297.4 L1049.6,297.4 L1050.2,297.4 L1050.9,297.2 L1051.5,297.7 L1052.2,297.5 L1052.8,297.6 L1053.5,297.7 L1054.1,298.1 L1054.7,297.9 L1055.4,297.9 L1056.0,298.0 L1056.7,298.2 L1057.3,298.2 L1058.0,298.6 L1058.6,298.9 L1059.3,299.1 L1059.9,299.4 L1060.5,299.6 L1061.2,299.7 L1061.8,299.8 L1062.5,299.9 L1063.1,300.0 L1063.8,299.9 L1064.4,299.9 L1065.1,300.0 L1065.7,300.0 L1066.3,300.1 L1067.0,300.5 L1067.6,300.7 L1068.3,300.9 L1068.9,301.1 L1069.6,301.4 L1070.2,301.5 L1070.8,301.7 L1071.5,302.0 L1072.1,302.2 L1072.8,302.3 L1073.4,302.4 L1074.1,302.4 L1074.7,302.8 L1075.4,302.6 L1076.0,302.3 L1076.6,302.7 L1077.3,302.5 L1077.9,302.5 L1078.6,302.8 L1079.2,303.2 L1079.9,303.3 L1080.5,303.5 L1081.2,303.4 L1081.8,303.6 L1082.4,303.7 L1083.1,303.7 L1083.7,304.0 L1084.4,304.0 L1085.0,304.2 L1085.7,304.3 L1086.3,304.1 L1087.0,304.0 L1087.6,304.0 L1088.2,303.9 L1088.9,304.0 L1089.5,304.0 L1090.2,304.2 L1090.8,304.4 L1091.5,304.3 L1092.1,304.0 L1092.8,304.1 L1093.4,304.1 L1094.0,304.0 L1094.7,304.4 L1095.3,304.6 L1096.0,304.8 L1096.6,304.5 L1097.3,304.4 L1097.9,304.1 L1098.6,304.0 L1099.2,304.1 L1099.8,304.1 L1100.5,303.7 L1101.1,303.6 L1101.8,303.2 L1102.4,302.5 L1103.1,302.4 L1103.7,302.2 L1104.4,301.5 L1105.0,301.2 L1105.6,301.0 L1106.3,300.3 L1106.9,300.3 L1107.6,300.1 L1108.2,299.6 L1108.9,299.5 L1109.5,299.1 L1110.2,298.7 L1110.8,298.7 L1111.4,298.6 L1112.1,298.2 L1112.7,298.0 L1113.4,297.9 L1114.0,297.2 L1114.7,297.0 L1115.3,296.5 L1115.9,296.3 L1116.6,295.9 L1117.2,295.6 L1117.9,295.2 L1118.5,295.0 L1119.2,294.8 L1119.8,294.3 L1120.5,294.1 L1121.1,293.8 L1121.7,293.4 L1122.4,293.1 L1123.0,293.1 L1123.7,293.0 L1124.3,292.6 L1125.0,292.3 L1125.6,292.0 L1126.3,291.5 L1126.9,291.0 L1127.5,290.7 L1128.2,290.3 L1128.8,290.0 L1129.5,289.8 L1130.1,289.5 L1130.8,289.2 L1131.4,288.9 L1132.1,288.7 L1132.7,288.1 L1133.3,287.9 L1134.0,287.5 L1134.6,287.4 L1135.3,286.7 L1135.9,286.3 L1136.6,285.6 L1137.2,285.0 L1137.9,284.5 L1138.5,284.1 L1139.1,283.7 L1139.8,283.3 L1140.4,282.5 L1141.1,281.4 L1141.7,280.3 L1142.4,278.9 L1143.0,277.3 L1143.7,275.7 L1144.3,273.7 L1144.9,271.3 L1145.6,268.8 L1146.2,266.0 L1146.9,263.0 L1147.5,260.3 L1148.2,257.7 L1148.8,254.5 L1149.5,251.0 L1150.1,247.3 L1150.7,243.0 L1151.4,238.8 L1152.0,234.8 L1152.7,231.2 L1153.3,228.3 L1154.0,225.9 L1154.6,224.0 L1155.2,222.2 L1155.9,220.4 L1156.5,218.9 L1157.2,218.0 L1157.8,216.9 L1158.5,215.9 L1159.1,215.1 L1159.8,214.2 L1160.4,213.3 L1161.0,212.9 L1161.7,212.4 L1162.3,211.9 L1163.0,211.6 L1163.6,211.4 L1164.3,211.0 L1164.9,210.6 L1165.6,210.3 L1166.2,210.0 L1166.8,209.5 L1167.5,209.0 L1168.1,208.7 L1168.8,208.5 L1169.4,208.5 L1170.1,209.2 L1170.7,210.1 L1171.4,211.1 L1172.0,212.0 L1172.6,213.0 L1173.3,213.5 L1173.9,214.0 L1174.6,214.5 L1175.2,214.6 L1175.9,214.1 L1176.5,214.1 L1177.2,213.7 L1177.8,213.4 L1178.4,213.2 L1179.1,213.5 L1179.7,213.4 L1180.4,214.1 L1181.0,214.7 L1181.7,215.3 L1182.3,215.6 L1183.0,216.6 L1183.6,217.3 L1184.2,218.0 L1184.9,219.2 L1185.5,220.8 L1186.2,222.3 L1186.8,224.8 L1187.5,227.3 L1188.1,230.0 L1188.8,233.2 L1189.4,236.3 L1190.0,238.9 L1190.7,242.5 L1191.3,246.2 L1192.0,250.4 L1192.6,255.2 L1193.3,259.8 L1193.9,263.9 L1194.5,268.0 L1195.2,271.0 L1195.8,273.5 L1196.5,276.2 L1197.1,278.9 L1197.8,281.5 L1198.4,283.8 L1199.1,286.1 L1199.7,288.0 L1200.3,289.5 L1201.0,290.6 L1201.6,291.9 L1202.3,292.3 L1202.9,293.1 L1203.6,293.6 L1204.2,294.2 L1204.9,294.4 L1205.5,295.3 L1206.1,295.6 L1206.8,296.0 L1207.4,296.3 L1208.1,296.8 L1208.7,297.0 L1209.4,297.3 L1210.0,297.6 L1210.7,297.9 L1211.3,298.3 L1211.9,298.7 L1212.6,299.0 L1213.2,299.2 L1213.9,299.3 L1214.5,299.6 L1215.2,299.7 L1215.8,299.8 L1216.5,300.4 L1217.1,301.1 L1217.7,301.4 L1218.4,301.7 L1219.0,301.8 L1219.7,301.7 L1220.3,301.6 L1221.0,301.7 L1221.6,302.2 L1222.3,303.1 L1222.9,303.3 L1223.5,303.7 L1224.2,304.1 L1224.8,304.0 L1225.5,304.3 L1226.1,304.6 L1226.8,304.8 L1227.4,305.1 L1228.1,305.8 L1228.7,305.9 L1229.3,306.6 L1230.0,307.0 L1230.6,307.4 L1231.3,307.5 L1231.9,307.9 L1232.6,308.1 L1233.2,308.5 L1233.9,308.5 L1234.5,309.0 L1235.1,309.2 L1235.8,309.2 L1236.4,309.0 L1237.1,309.2 L1237.7,308.7 L1238.4,308.6 L1239.0,308.7 L1239.6,308.5 L1240.3,308.0 L1240.9,308.2 L1241.6,308.2 L1242.2,307.9 L1242.9,308.1 L1243.5,308.2 L1244.2,307.9 L1244.8,307.6 L1245.4,307.5 L1246.1,307.2 L1246.7,307.0 L1247.4,307.0 L1248.0,306.8 L1248.7,306.8 L1249.3,306.7 L1250.0,306.3 L1250.6,306.2 L1251.2,306.3 L1251.9,305.9 L1252.5,305.8 L1253.2,306.2 L1253.8,306.0 L1254.5,306.0 L1255.1,306.3 L1255.8,306.2 L1256.4,305.9 L1257.0,306.0 L1257.7,305.9 L1258.3,305.8 L1259.0,305.6 L1259.6,305.6 L1260.3,305.5 L1260.9,305.1 L1261.6,305.0 L1262.2,304.9 L1262.8,304.5 L1263.5,304.3 L1264.1,304.7 L1264.8,304.5 L1265.4,304.5 L1266.1,304.4 L1266.7,304.2 L1267.4,303.8 L1268.0,303.5 L1268.6,303.6 L1269.3,303.4 L1269.9,303.3 L1270.6,303.4 L1271.2,303.4 L1271.9,302.9 L1272.5,302.8 L1273.2,302.9 L1273.8,302.7 L1274.4,302.6 L1275.1,302.7 L1275.7,302.8 L1276.4,302.6 L1277.0,302.4 L1277.7,302.4 L1278.3,302.2 L1278.9,302.1 L1279.6,301.9 L1280.2,301.8 L1280.9,301.4 L1281.5,301.4 L1282.2,301.3 L1282.8,301.1 L1283.5,301.0 L1284.1,300.9 L1284.7,300.7 L1285.4,300.5 L1286.0,300.5 L1286.7,300.5 L1287.3,300.8 L1288.0,300.6 L1288.6,300.7 L1289.3,300.7 L1289.9,300.6 L1290.5,300.3 L1291.2,300.5 L1291.8,300.5 L1292.5,300.7 L1293.1,300.8 L1293.8,300.8 L1294.4,300.9 L1295.1,300.7 L1295.7,300.7 L1296.3,300.8 L1297.0,300.9 L1297.6,300.9 L1298.3,301.0 L1298.9,301.0 L1299.6,301.1 L1300.2,301.5 L1300.9,301.8 L1301.5,302.2 L1302.1,302.4 L1302.8,302.4 L1303.4,302.4 L1304.1,302.6 L1304.7,302.3 L1305.4,302.4 L1306.0,302.8 L1306.7,302.7 L1307.3,302.5 L1307.9,303.1 L1308.6,303.3 L1309.2,303.4 L1309.9,303.5 L1310.5,303.9 L1311.2,304.0 L1311.8,303.9 L1312.5,303.8 L1313.1,304.2 L1313.7,304.4 L1314.4,304.6 L1315.0,304.5 L1315.7,304.5 L1316.3,304.3 L1317.0,304.4 L1317.6,304.2 L1318.2,304.9 L1318.9,305.2 L1319.5,305.6 L1320.2,305.8 L1320.8,306.0 L1321.5,305.9 L1322.1,305.9 L1322.8,305.7 L1323.4,305.6 L1324.0,305.7 L1324.7,305.6 L1325.3,305.8 L1326.0,305.8 L1326.6,306.0 L1327.3,306.3 L1327.9,306.5 L1328.6,306.3 L1329.2,306.4 L1329.8,306.3 L1330.5,305.9 L1331.1,305.8 L1331.8,306.1 L1332.4,306.2 L1333.1,306.2 L1333.7,306.3 L1334.4,306.5 L1335.0,306.7 L1335.6,306.7 L1336.3,306.5 L1336.9,306.5 L1337.6,306.3 L1338.2,306.0 L1338.9,305.6 L1339.5,305.5 L1340.2,305.3 L1340.8,305.0 L1341.4,304.9 L1342.1,305.0 L1342.7,304.7 L1343.4,304.4 L1344.0,304.4 L1344.7,304.1 L1345.3,303.9 L1346.0,304.0 L1346.6,303.8 L1347.2,303.6 L1347.9,303.7 L1348.5,303.5 L1349.2,303.3 L1349.8,303.4 L1350.5,303.1 L1351.1,302.8 L1351.8,302.5 L1352.4,302.2 L1353.0,301.9 L1353.7,301.6 L1354.3,301.1 L1355.0,300.9 L1355.6,300.5 L1356.3,300.3 L1356.9,300.2 L1357.6,300.1 L1358.2,300.0 L1358.8,299.8 L1359.5,299.6 L1360.1,299.3 L1360.8,299.3 L1361.4,298.7 L1362.1,298.6 L1362.7,298.3 L1363.3,298.0 L1364.0,297.6 L1364.6,297.5 L1365.3,297.1 L1365.9,296.7 L1366.6,296.6 L1367.2,296.3 L1367.9,296.1 L1368.5,295.8 L1369.1,295.7 L1369.8,295.2 L1370.4,294.8 L1371.1,294.1 L1371.7,293.6 L1372.4,293.0 L1373.0,292.2 L1373.7,291.9 L1374.3,291.9 L1374.9,291.5 L1375.6,291.1 L1376.2,290.7 L1376.9,289.8 L1377.5,289.1 L1378.2,288.2 L1378.8,287.5 L1379.5,287.1 L1380.1,286.8" fill="none" stroke="#ff1c1c" stroke-width="2.0" stroke-linejoin="round" stroke-linecap="round" />
<path d="M809.9,456.8 L810.5,450.3 L811.1,443.5 L811.8,437.0 L812.4,430.4 L813.0,423.8 L813.7,416.9 L814.3,409.9 L815.0,402.7 L815.6,395.0 L816.2,387.0 L816.9,378.9 L817.5,371.6 L818.1,364.9 L818.8,359.4 L819.4,354.1 L820.0,349.5 L820.7,345.1 L821.3,341.2 L821.9,337.6 L822.6,334.2 L823.2,330.9 L823.8,328.0 L824.5,325.3 L825.1,322.7 L825.7,320.3 L826.4,317.8 L827.0,315.5 L827.6,312.8 L828.3,310.3 L828.9,307.5 L829.5,304.9 L830.2,301.8 L830.8,299.0 L831.4,295.9 L832.1,292.9 L832.7,289.6 L833.3,286.3 L834.0,283.1 L834.6,280.0 L835.2,276.6 L835.9,273.3 L836.5,270.0 L837.2,266.4 L837.8,262.5 L838.4,258.9 L839.1,254.9 L839.7,250.8 L840.3,246.9 L841.0,242.9 L841.6,238.5 L842.2,234.2 L842.9,229.9 L843.5,225.8 L844.1,222.4 L844.8,220.1 L845.4,217.9 L846.0,216.1 L846.7,214.9 L847.3,213.9 L847.9,213.2 L848.6,212.8 L849.2,212.8 L849.8,212.4 L850.5,212.1 L851.1,211.9 L851.7,212.0 L852.4,212.1 L853.0,212.1 L853.6,212.2 L854.3,212.4 L854.9,212.2 L855.5,212.0 L856.2,212.0 L856.8,212.1 L857.4,212.3 L858.1,212.7 L858.7,213.0 L859.4,213.0 L860.0,213.2 L860.6,213.1 L861.3,213.0 L861.9,213.1 L862.5,213.6 L863.2,213.9 L863.8,214.1 L864.4,214.3 L865.1,214.7 L865.7,214.6 L866.3,214.8 L867.0,215.0 L867.6,215.3 L868.2,215.2 L868.9,215.7 L869.5,215.7 L870.1,215.8 L870.8,216.1 L871.4,216.4 L872.0,216.7 L872.7,217.0 L873.3,217.1 L873.9,217.2 L874.6,217.4 L875.2,217.3 L875.8,217.4 L876.5,217.4 L877.1,217.5 L877.7,217.6 L878.4,217.7 L879.0,217.6 L879.6,217.9 L880.3,217.9 L880.9,218.2 L881.6,218.2 L882.2,218.5 L882.8,218.4 L883.5,218.5 L884.1,218.5 L884.7,218.6 L885.4,218.6 L886.0,218.9 L886.6,219.0 L887.3,218.9 L887.9,219.0 L888.5,218.8 L889.2,218.8 L889.8,218.6 L890.4,218.7 L891.1,218.9 L891.7,219.3 L892.3,219.0 L893.0,219.0 L893.6,219.0 L894.2,219.0 L894.9,218.8 L895.5,218.9 L896.1,218.9 L896.8,218.9 L897.4,218.7 L898.0,218.7 L898.7,218.9 L899.3,218.8 L899.9,219.0 L900.6,219.2 L901.2,219.3 L901.8,219.3 L902.5,219.5 L903.1,219.2 L903.8,219.0 L904.4,219.0 L905.0,219.0 L905.7,218.8 L906.3,218.8 L906.9,219.2 L907.6,219.3 L908.2,219.2 L908.8,219.5 L909.5,219.7 L910.1,219.7 L910.7,219.9 L911.4,220.4 L912.0,220.5 L912.6,220.8 L913.3,221.1 L913.9,221.6 L914.5,222.0 L915.2,222.4 L915.8,222.9 L916.4,223.4 L917.1,223.7 L917.7,224.1 L918.3,224.6 L919.0,225.4 L919.6,226.0 L920.2,226.7 L920.9,227.7 L921.5,228.5 L922.1,228.8 L922.8,229.5 L923.4,230.3 L924.0,230.8 L924.7,231.1 L925.3,232.0 L926.0,232.6 L926.6,233.1 L927.2,233.8 L927.9,234.7 L928.5,235.4 L929.1,236.4 L929.8,237.2 L930.4,238.0 L931.0,239.2 L931.7,240.3 L932.3,241.4 L932.9,242.7 L933.6,243.8 L934.2,244.9 L934.8,246.2 L935.5,247.6 L936.1,248.9 L936.7,250.1 L937.4,251.5 L938.0,252.6 L938.6,253.7 L939.3,254.8 L939.9,256.3 L940.5,257.7 L941.2,259.2 L941.8,260.6 L942.4,262.2 L943.1,263.8 L943.7,265.3 L944.3,266.7 L945.0,268.1 L945.6,269.5 L946.2,271.1 L946.9,272.5 L947.5,273.9 L948.2,275.4 L948.8,276.6 L949.4,277.8 L950.1,279.2 L950.7,280.7 L951.3,282.2 L952.0,283.8 L952.6,284.9 L953.2,286.1 L953.9,287.3 L954.5,288.1 L955.1,289.3 L955.8,290.3 L956.4,291.0 L957.0,291.5 L957.7,292.4 L958.3,292.9 L958.9,293.6 L959.6,294.2 L960.2,295.1 L960.8,295.7 L961.5,296.2 L962.1,296.7 L962.7,297.4 L963.4,297.6 L964.0,297.9 L964.6,298.2 L965.3,298.2 L965.9,298.3 L966.5,298.6 L967.2,298.7 L967.8,299.0 L968.4,299.2 L969.1,299.1 L969.7,298.9 L970.4,298.7 L971.0,298.5 L971.6,298.6 L972.3,299.0 L972.9,299.0 L973.5,299.5 L974.2,299.6 L974.8,299.7 L975.4,299.5 L976.1,299.5 L976.7,299.6 L977.3,299.7 L978.0,299.6 L978.6,299.6 L979.2,299.8 L979.9,299.7 L980.5,299.8 L981.1,300.1 L981.8,300.5 L982.4,300.5 L983.0,300.2 L983.7,300.3 L984.3,300.3 L984.9,300.3 L985.6,300.2 L986.2,300.4 L986.8,300.3 L987.5,300.1 L988.1,300.1 L988.7,300.1 L989.4,300.4 L990.0,300.7 L990.6,300.6 L991.3,300.7 L991.9,300.6 L992.6,300.6 L993.2,300.4 L993.8,300.7 L994.5,300.8 L995.1,301.0 L995.7,300.9 L996.4,300.8 L997.0,300.8 L997.6,300.5 L998.3,300.5 L998.9,300.5 L999.5,300.8 L1000.2,300.9 L1000.8,300.8 L1001.4,300.8 L1002.1,300.7 L1002.7,300.5 L1003.3,300.4 L1004.0,300.3 L1004.6,300.2 L1005.2,300.1 L1005.9,299.9 L1006.5,299.8 L1007.1,300.2 L1007.8,300.2 L1008.4,300.4 L1009.0,300.7 L1009.7,300.4 L1010.3,299.9 L1010.9,299.8 L1011.6,299.5 L1012.2,299.1 L1012.8,299.1 L1013.5,299.1 L1014.1,299.0 L1014.8,298.8 L1015.4,299.0 L1016.0,298.8 L1016.7,298.8 L1017.3,298.5 L1017.9,298.3 L1018.6,297.9 L1019.2,297.8 L1019.8,297.4 L1020.5,297.3 L1021.1,297.3 L1021.7,296.9 L1022.4,297.0 L1023.0,296.9 L1023.6,296.5 L1024.3,296.2 L1024.9,296.2 L1025.5,295.7 L1026.2,295.1 L1026.8,294.7 L1027.4,294.4 L1028.1,294.0 L1028.7,293.6 L1029.3,293.4 L1030.0,293.3 L1030.6,293.0 L1031.2,292.4 L1031.9,292.0 L1032.5,291.9 L1033.1,291.3 L1033.8,290.8 L1034.4,290.4 L1035.0,290.1 L1035.7,289.3 L1036.3,288.8 L1037.0,288.7 L1037.6,288.3 L1038.2,287.8 L1038.9,287.6 L1039.5,287.6 L1040.1,286.7 L1040.8,286.5 L1041.4,285.9 L1042.0,285.1 L1042.7,284.3 L1043.3,283.6 L1043.9,282.8 L1044.6,282.2 L1045.2,281.5 L1045.8,280.8 L1046.5,280.1 L1047.1,279.4 L1047.7,278.9 L1048.4,278.4 L1049.0,277.7 L1049.6,277.2 L1050.3,276.7 L1050.9,275.9 L1051.5,275.2 L1052.2,274.5 L1052.8,273.6 L1053.4,272.8 L1054.1,272.1 L1054.7,271.5 L1055.3,270.9 L1056.0,270.4 L1056.6,269.9 L1057.2,269.1 L1057.9,268.2 L1058.5,267.3 L1059.2,266.7 L1059.8,265.8 L1060.4,264.9 L1061.1,264.3 L1061.7,263.7 L1062.3,262.9 L1063.0,262.1 L1063.6,261.5 L1064.2,260.6 L1064.9,259.9 L1065.5,259.2 L1066.1,258.8 L1066.8,258.4 L1067.4,258.1 L1068.0,257.6 L1068.7,257.2 L1069.3,256.3 L1069.9,255.8 L1070.6,255.1 L1071.2,254.6 L1071.8,253.8 L1072.5,253.1 L1073.1,252.5 L1073.7,251.9 L1074.4,251.2 L1075.0,250.7 L1075.6,250.2 L1076.3,249.7 L1076.9,249.2 L1077.5,248.7 L1078.2,248.3 L1078.8,247.9 L1079.4,247.2 L1080.1,246.7 L1080.7,246.1 L1081.4,245.4 L1082.0,244.9 L1082.6,244.4 L1083.3,243.9 L1083.9,243.4 L1084.5,242.9 L1085.2,242.4 L1085.8,242.1 L1086.4,241.7 L1087.1,241.1 L1087.7,240.9 L1088.3,240.5 L1089.0,239.9 L1089.6,239.4 L1090.2,239.2 L1090.9,238.9 L1091.5,238.6 L1092.1,238.4 L1092.8,238.1 L1093.4,237.9 L1094.0,237.5 L1094.7,237.0 L1095.3,236.5 L1095.9,235.9 L1096.6,235.3 L1097.2,234.9 L1097.8,234.6 L1098.5,234.3 L1099.1,234.0 L1099.7,233.6 L1100.4,233.3 L1101.0,232.8 L1101.6,232.5 L1102.3,232.4 L1102.9,232.3 L1103.6,231.9 L1104.2,231.7 L1104.8,231.4 L1105.5,230.9 L1106.1,230.5 L1106.7,230.2 L1107.4,229.9 L1108.0,229.6 L1108.6,229.4 L1109.3,229.0 L1109.9,228.6 L1110.5,228.2 L1111.2,227.6 L1111.8,227.2 L1112.4,226.9 L1113.1,226.6 L1113.7,226.1 L1114.3,226.0 L1115.0,225.3 L1115.6,224.7 L1116.2,224.2 L1116.9,223.7 L1117.5,223.2 L1118.1,222.9 L1118.8,222.4 L1119.4,221.8 L1120.0,221.2 L1120.7,220.7 L1121.3,220.5 L1121.9,220.2 L1122.6,220.1 L1123.2,219.7 L1123.8,219.6 L1124.5,219.4 L1125.1,219.5 L1125.8,219.6 L1126.4,219.6 L1127.0,219.7 L1127.7,219.7 L1128.3,219.8 L1128.9,219.9 L1129.6,220.1 L1130.2,220.3 L1130.8,220.3 L1131.5,220.5 L1132.1,220.6 L1132.7,220.8 L1133.4,221.0 L1134.0,221.4 L1134.6,221.4 L1135.3,221.5 L1135.9,221.4 L1136.5,221.4 L1137.2,221.5 L1137.8,221.8 L1138.4,221.7 L1139.1,221.5 L1139.7,221.3 L1140.3,220.9 L1141.0,220.4 L1141.6,220.3 L1142.2,220.2 L1142.9,220.1 L1143.5,220.0 L1144.1,219.7 L1144.8,219.4 L1145.4,219.4 L1146.0,219.0 L1146.7,218.9 L1147.3,219.0 L1148.0,219.0 L1148.6,218.8 L1149.2,219.1 L1149.9,219.2 L1150.5,219.1 L1151.1,219.3 L1151.8,219.5 L1152.4,219.8 L1153.0,219.8 L1153.7,220.0 L1154.3,220.0 L1154.9,219.8 L1155.6,219.6 L1156.2,219.8 L1156.8,220.1 L1157.5,220.4 L1158.1,221.0 L1158.7,221.5 L1159.4,222.1 L1160.0,222.6 L1160.6,223.0 L1161.3,223.6 L1161.9,224.1 L1162.5,224.9 L1163.2,225.5 L1163.8,226.4 L1164.4,226.9 L1165.1,227.7 L1165.7,228.3 L1166.3,229.4 L1167.0,230.2 L1167.6,231.2 L1168.2,232.1 L1168.9,232.9 L1169.5,233.6 L1170.2,234.4 L1170.8,235.4 L1171.4,236.3 L1172.1,237.3 L1172.7,238.4 L1173.3,239.4 L1174.0,240.5 L1174.6,241.7 L1175.2,242.9 L1175.9,244.0 L1176.5,245.4 L1177.1,246.6 L1177.8,247.8 L1178.4,249.1 L1179.0,250.3 L1179.7,251.7 L1180.3,253.1 L1180.9,254.2 L1181.6,255.7 L1182.2,257.1 L1182.8,258.4 L1183.5,259.7 L1184.1,261.1 L1184.7,262.5 L1185.4,263.7 L1186.0,265.0 L1186.6,266.3 L1187.3,267.8 L1187.9,269.2 L1188.5,270.8 L1189.2,272.2 L1189.8,273.5 L1190.4,274.9 L1191.1,276.0 L1191.7,277.1 L1192.4,278.3 L1193.0,279.9 L1193.6,281.2 L1194.3,282.6 L1194.9,284.2 L1195.5,285.7 L1196.2,287.0 L1196.8,288.5 L1197.4,289.7 L1198.1,290.6 L1198.7,291.9 L1199.3,292.9 L1200.0,293.6 L1200.6,294.5 L1201.2,295.4 L1201.9,295.7 L1202.5,296.1 L1203.1,296.8 L1203.8,297.2 L1204.4,297.9 L1205.0,298.2 L1205.7,298.7 L1206.3,299.1 L1206.9,299.5 L1207.6,299.5 L1208.2,299.9 L1208.8,300.4 L1209.5,300.7 L1210.1,300.8 L1210.7,300.8 L1211.4,300.9 L1212.0,300.9 L1212.6,300.7 L1213.3,300.9 L1213.9,301.2 L1214.6,301.2 L1215.2,301.5 L1215.8,301.3 L1216.5,301.1 L1217.1,301.1 L1217.7,301.0 L1218.4,301.0 L1219.0,301.4 L1219.6,301.7 L1220.3,301.9 L1220.9,302.3 L1221.5,302.3 L1222.2,302.6 L1222.8,302.6 L1223.4,302.4 L1224.1,302.3 L1224.7,302.4 L1225.3,302.4 L1226.0,302.8 L1226.6,302.9 L1227.2,302.9 L1227.9,303.1 L1228.5,303.1 L1229.1,303.2 L1229.8,303.3 L1230.4,303.7 L1231.0,303.9 L1231.7,304.1 L1232.3,304.3 L1232.9,304.7 L1233.6,304.7 L1234.2,304.6 L1234.8,304.4 L1235.5,304.2 L1236.1,304.3 L1236.8,304.3 L1237.4,304.5 L1238.0,304.7 L1238.7,304.8 L1239.3,304.5 L1239.9,304.6 L1240.6,304.5 L1241.2,304.3 L1241.8,304.0 L1242.5,303.8 L1243.1,303.3 L1243.7,303.0 L1244.4,302.9 L1245.0,302.7 L1245.6,302.4 L1246.3,302.2 L1246.9,301.8 L1247.5,301.3 L1248.2,301.1 L1248.8,300.7 L1249.4,300.2 L1250.1,300.1 L1250.7,300.0 L1251.3,299.7 L1252.0,299.8 L1252.6,299.9 L1253.2,299.7 L1253.9,299.5 L1254.5,299.2 L1255.1,298.9 L1255.8,298.4 L1256.4,298.2 L1257.0,297.9 L1257.7,297.9 L1258.3,297.7 L1259.0,297.7 L1259.6,297.6 L1260.2,297.8 L1260.9,297.5 L1261.5,297.5 L1262.1,297.0 L1262.8,296.9 L1263.4,296.6 L1264.0,296.4 L1264.7,296.0 L1265.3,296.0 L1265.9,295.8 L1266.6,295.5 L1267.2,295.0 L1267.8,294.6 L1268.5,294.5 L1269.1,294.2 L1269.7,294.0 L1270.4,294.1 L1271.0,293.9 L1271.6,293.7 L1272.3,293.5 L1272.9,293.3 L1273.5,293.0 L1274.2,292.8 L1274.8,292.1 L1275.4,291.9 L1276.1,291.7 L1276.7,291.2 L1277.3,291.0 L1278.0,290.7 L1278.6,290.3 L1279.2,289.7 L1279.9,289.6 L1280.5,289.5 L1281.2,289.4 L1281.8,289.1 L1282.4,289.0 L1283.1,288.8 L1283.7,288.3 L1284.3,288.0 L1285.0,287.8 L1285.6,287.4 L1286.2,286.6 L1286.9,286.2 L1287.5,285.8 L1288.1,285.6 L1288.8,285.1 L1289.4,285.2 L1290.0,284.7 L1290.7,284.3 L1291.3,283.9 L1291.9,283.6 L1292.6,283.1 L1293.2,282.7 L1293.8,282.5 L1294.5,281.9 L1295.1,281.5 L1295.7,281.0 L1296.4,280.9 L1297.0,280.3 L1297.6,279.7 L1298.3,279.2 L1298.9,279.0 L1299.5,278.3 L1300.2,277.8 L1300.8,277.6 L1301.4,277.2 L1302.1,276.3 L1302.7,275.7 L1303.4,274.9 L1304.0,274.1 L1304.6,273.4 L1305.3,272.9 L1305.9,272.0 L1306.5,271.5 L1307.2,270.7 L1307.8,269.9 L1308.4,269.0 L1309.1,268.4 L1309.7,267.6 L1310.3,267.1 L1311.0,266.5 L1311.6,266.2 L1312.2,265.9 L1312.9,265.4 L1313.5,264.9 L1314.1,264.4 L1314.8,263.7 L1315.4,263.3 L1316.0,262.9 L1316.7,262.5 L1317.3,262.2 L1317.9,262.0 L1318.6,261.6 L1319.2,261.4 L1319.8,261.1 L1320.5,260.7 L1321.1,260.4 L1321.7,260.5 L1322.4,260.4 L1323.0,260.3 L1323.6,260.2 L1324.3,260.3 L1324.9,260.0 L1325.6,260.0 L1326.2,259.8 L1326.8,260.1 L1327.5,260.1 L1328.1,260.2 L1328.7,260.2 L1329.4,260.1 L1330.0,260.0 L1330.6,260.0 L1331.3,260.0 L1331.9,260.0 L1332.5,260.1 L1333.2,260.3 L1333.8,260.4 L1334.4,260.2 L1335.1,260.2 L1335.7,260.4 L1336.3,260.3 L1337.0,260.4 L1337.6,260.8 L1338.2,260.8 L1338.9,260.9 L1339.5,260.7 L1340.1,260.7 L1340.8,260.7 L1341.4,260.9 L1342.0,261.0 L1342.7,261.5 L1343.3,261.6 L1343.9,261.5 L1344.6,261.4 L1345.2,261.4 L1345.8,261.1 L1346.5,261.0 L1347.1,261.0 L1347.8,261.0 L1348.4,260.7 L1349.0,260.6 L1349.7,260.6 L1350.3,260.4 L1350.9,260.3 L1351.6,260.4 L1352.2,260.3 L1352.8,260.1 L1353.5,260.2 L1354.1,260.2 L1354.7,259.7 L1355.4,259.5 L1356.0,259.2 L1356.6,258.8 L1357.3,258.3 L1357.9,258.4 L1358.5,258.3 L1359.2,258.4 L1359.8,258.1 L1360.4,257.9 L1361.1,257.8 L1361.7,257.7 L1362.3,257.8 L1363.0,257.8 L1363.6,257.9 L1364.2,257.9 L1364.9,257.8 L1365.5,257.5 L1366.1,257.5 L1366.8,257.5 L1367.4,257.7 L1368.0,257.6 L1368.7,257.4 L1369.3,257.4 L1370.0,257.2 L1370.6,256.9 L1371.2,256.8 L1371.9,257.0 L1372.5,256.9 L1373.1,257.2 L1373.8,257.2 L1374.4,257.1 L1375.0,257.0 L1375.7,257.1 L1376.3,256.9 L1376.9,257.1 L1377.6,257.2 L1378.2,257.4 L1378.8,257.4 L1379.5,257.4 L1380.1,257.3" fill="none" stroke="#1c1cff" stroke-width="2.0" stroke-linejoin="round" stroke-linecap="round" />
<path d="M800.9,188.7 L801.5,197.8 L802.2,206.2 L802.8,214.3 L803.5,221.2 L804.1,227.9 L804.8,233.8 L805.4,238.9 L806.1,243.2 L806.7,247.0 L807.3,250.3 L808.0,253.0 L808.6,255.6 L809.3,258.0 L809.9,260.0 L810.6,262.0 L811.2,263.8 L811.9,265.9 L812.5,268.1 L813.1,270.5 L813.8,272.7 L814.4,275.3 L815.1,277.9 L815.7,280.5 L816.4,283.2 L817.0,286.0 L817.7,289.1 L818.3,292.0 L818.9,294.8 L819.6,297.3 L820.2,299.8 L820.9,301.5 L821.5,303.1 L822.2,304.5 L822.8,305.8 L823.4,306.9 L824.1,307.9 L824.7,308.6 L825.4,309.3 L826.0,309.8 L826.7,310.2 L827.3,310.3 L828.0,310.6 L828.6,310.7 L829.2,310.9 L829.9,311.1 L830.5,311.3 L831.2,311.4 L831.8,311.6 L832.5,311.7 L833.1,311.8 L833.8,311.8 L834.4,312.0 L835.0,312.0 L835.7,312.1 L836.3,312.0 L837.0,312.2 L837.6,312.3 L838.3,312.5 L838.9,312.6 L839.6,312.8 L840.2,312.9 L840.8,312.9 L841.5,312.8 L842.1,312.8 L842.8,313.0 L843.4,313.1 L844.1,313.3 L844.7,313.5 L845.4,313.6 L846.0,313.2 L846.6,313.2 L847.3,313.2 L847.9,313.0 L848.6,313.0 L849.2,313.1 L849.9,313.1 L850.5,313.1 L851.2,313.1 L851.8,313.2 L852.4,313.4 L853.1,313.2 L853.7,313.1 L854.4,313.2 L855.0,313.1 L855.7,313.0 L856.3,313.1 L857.0,313.2 L857.6,313.0 L858.2,312.9 L858.9,312.7 L859.5,312.6 L860.2,312.6 L860.8,312.6 L861.5,312.7 L862.1,312.8 L862.8,312.7 L863.4,312.7 L864.0,312.7 L864.7,312.5 L865.3,312.5 L866.0,312.5 L866.6,312.6 L867.3,312.8 L867.9,312.6 L868.5,312.6 L869.2,312.5 L869.8,312.4 L870.5,312.3 L871.1,312.4 L871.8,312.2 L872.4,312.2 L873.1,312.0 L873.7,312.1 L874.3,312.2 L875.0,312.2 L875.6,312.0 L876.3,312.1 L876.9,312.1 L877.6,312.0 L878.2,311.6 L878.9,311.6 L879.5,311.5 L880.1,311.3 L880.8,311.2 L881.4,311.4 L882.1,311.4 L882.7,311.4 L883.4,311.6 L884.0,311.3 L884.7,311.1 L885.3,311.0 L885.9,311.0 L886.6,310.8 L887.2,310.9 L887.9,310.9 L888.5,310.9 L889.2,310.9 L889.8,310.8 L890.5,310.7 L891.1,310.7 L891.7,310.6 L892.4,310.4 L893.0,310.3 L893.7,310.4 L894.3,310.3 L895.0,310.4 L895.6,310.3 L896.3,310.4 L896.9,310.5 L897.5,310.4 L898.2,310.3 L898.8,310.4 L899.5,310.4 L900.1,310.1 L900.8,310.0 L901.4,310.0 L902.1,309.7 L902.7,309.7 L903.3,310.2 L904.0,310.4 L904.6,310.6 L905.3,310.7 L905.9,310.6 L906.6,310.6 L907.2,310.4 L907.8,310.3 L908.5,310.4 L909.1,310.4 L909.8,310.2 L910.4,310.3 L911.1,310.2 L911.7,310.4 L912.4,310.4 L913.0,310.4 L913.6,310.3 L914.3,310.2 L914.9,310.0 L915.6,310.0 L916.2,310.0 L916.9,310.1 L917.5,310.4 L918.2,310.8 L918.8,310.8 L919.4,310.9 L920.1,310.9 L920.7,310.8 L921.4,310.6 L922.0,310.6 L922.7,310.7 L923.3,310.9 L924.0,310.9 L924.6,310.9 L925.2,311.2 L925.9,311.5 L926.5,311.6 L927.2,311.8 L927.8,311.9 L928.5,311.8 L929.1,311.7 L929.8,311.7 L930.4,311.6 L931.0,311.8 L931.7,311.9 L932.3,311.9 L933.0,311.9 L933.6,311.8 L934.3,312.1 L934.9,312.1 L935.6,312.2 L936.2,312.1 L936.8,312.4 L937.5,312.2 L938.1,312.2 L938.8,312.1 L939.4,312.2 L940.1,312.3 L940.7,312.3 L941.4,312.5 L942.0,312.5 L942.6,312.5 L943.3,312.4 L943.9,312.4 L944.6,312.6 L945.2,312.8 L945.9,312.9 L946.5,313.2 L947.1,313.4 L947.8,313.2 L948.4,313.1 L949.1,313.3 L949.7,313.2 L950.4,313.2 L951.0,313.4 L951.7,313.6 L952.3,313.5 L952.9,313.7 L953.6,313.8 L954.2,313.9 L954.9,313.9 L955.5,313.9 L956.2,313.9 L956.8,313.9 L957.5,313.7 L958.1,313.8 L958.7,313.7 L959.4,313.7 L960.0,313.8 L960.7,313.8 L961.3,313.8 L962.0,313.7 L962.6,313.9 L963.3,313.9 L963.9,314.0 L964.5,314.1 L965.2,314.1 L965.8,313.9 L966.5,313.8 L967.1,313.6 L967.8,313.7 L968.4,313.8 L969.1,313.7 L969.7,313.6 L970.3,313.6 L971.0,313.5 L971.6,313.2 L972.3,313.5 L972.9,313.6 L973.6,313.6 L974.2,313.4 L974.9,313.7 L975.5,313.6 L976.1,313.5 L976.8,313.5 L977.4,313.7 L978.1,313.6 L978.7,313.5 L979.4,313.6 L980.0,313.6 L980.7,313.5 L981.3,313.5 L981.9,313.6 L982.6,313.5 L983.2,313.5 L983.9,313.5 L984.5,313.6 L985.2,313.6 L985.8,313.6 L986.5,313.5 L987.1,313.4 L987.7,313.3 L988.4,313.1 L989.0,313.1 L989.7,313.0 L990.3,313.0 L991.0,313.0 L991.6,313.1 L992.2,313.3 L992.9,313.5 L993.5,313.5 L994.2,313.5 L994.8,313.5 L995.5,313.3 L996.1,313.4 L996.8,313.4 L997.4,313.5 L998.0,313.5 L998.7,313.5 L999.3,313.4 L1000.0,313.3 L1000.6,313.1 L1001.3,313.2 L1001.9,313.1 L1002.6,313.2 L1003.2,313.3 L1003.8,313.3 L1004.5,313.4 L1005.1,313.5 L1005.8,313.5 L1006.4,313.3 L1007.1,313.3 L1007.7,313.2 L1008.4,313.1 L1009.0,313.3 L1009.6,313.3 L1010.3,313.4 L1010.9,313.2 L1011.6,313.4 L1012.2,313.2 L1012.9,313.3 L1013.5,313.5 L1014.2,313.7 L1014.8,313.5 L1015.4,313.4 L1016.1,313.4 L1016.7,313.2 L1017.4,313.1 L1018.0,313.1 L1018.7,313.2 L1019.3,313.3 L1020.0,313.3 L1020.6,313.3 L1021.2,313.1 L1021.9,313.1 L1022.5,312.9 L1023.2,312.8 L1023.8,312.7 L1024.5,313.0 L1025.1,313.0 L1025.8,313.2 L1026.4,313.1 L1027.0,313.2 L1027.7,313.1 L1028.3,313.0 L1029.0,312.8 L1029.6,312.9 L1030.3,313.0 L1030.9,313.0 L1031.5,313.0 L1032.2,312.9 L1032.8,313.0 L1033.5,312.9 L1034.1,313.0 L1034.8,312.9 L1035.4,312.9 L1036.1,312.9 L1036.7,313.0 L1037.3,313.1 L1038.0,313.2 L1038.6,313.2 L1039.3,313.1 L1039.9,313.1 L1040.6,313.0 L1041.2,313.2 L1041.9,313.3 L1042.5,313.5 L1043.1,313.2 L1043.8,313.3 L1044.4,313.2 L1045.1,313.1 L1045.7,313.0 L1046.4,312.9 L1047.0,312.9 L1047.7,312.9 L1048.3,312.9 L1048.9,312.9 L1049.6,313.1 L1050.2,312.8 L1050.9,312.9 L1051.5,312.8 L1052.2,313.0 L1052.8,313.1 L1053.5,313.2 L1054.1,313.3 L1054.7,313.1 L1055.4,313.0 L1056.0,313.0 L1056.7,313.0 L1057.3,312.8 L1058.0,313.0 L1058.6,313.0 L1059.3,312.8 L1059.9,312.7 L1060.5,312.8 L1061.2,312.7 L1061.8,312.8 L1062.5,313.0 L1063.1,313.1 L1063.8,313.2 L1064.4,313.2 L1065.1,313.1 L1065.7,313.1 L1066.3,312.9 L1067.0,313.0 L1067.6,313.0 L1068.3,313.0 L1068.9,313.0 L1069.6,313.1 L1070.2,313.2 L1070.8,313.1 L1071.5,313.1 L1072.1,313.1 L1072.8,313.1 L1073.4,312.8 L1074.1,312.9 L1074.7,312.8 L1075.4,312.7 L1076.0,312.6 L1076.6,312.6 L1077.3,312.6 L1077.9,312.5 L1078.6,312.6 L1079.2,312.8 L1079.9,312.9 L1080.5,312.9 L1081.2,312.9 L1081.8,312.8 L1082.4,312.8 L1083.1,312.6 L1083.7,312.7 L1084.4,312.6 L1085.0,312.7 L1085.7,312.7 L1086.3,312.9 L1087.0,312.9 L1087.6,313.0 L1088.2,312.9 L1088.9,313.0 L1089.5,313.0 L1090.2,313.0 L1090.8,312.8 L1091.5,312.7 L1092.1,312.7 L1092.8,312.6 L1093.4,312.6 L1094.0,312.8 L1094.7,313.0 L1095.3,312.9 L1096.0,313.0 L1096.6,313.1 L1097.3,313.1 L1097.9,313.0 L1098.6,313.1 L1099.2,313.0 L1099.8,313.0 L1100.5,313.1 L1101.1,313.2 L1101.8,312.7 L1102.4,312.6 L1103.1,312.4 L1103.7,312.3 L1104.4,312.2 L1105.0,312.5 L1105.6,312.6 L1106.3,312.7 L1106.9,312.7 L1107.6,312.5 L1108.2,312.8 L1108.9,312.9 L1109.5,312.9 L1110.2,312.9 L1110.8,313.1 L1111.4,312.7 L1112.1,312.6 L1112.7,312.5 L1113.4,312.5 L1114.0,312.5 L1114.7,312.7 L1115.3,312.9 L1115.9,313.1 L1116.6,313.1 L1117.2,313.1 L1117.9,313.1 L1118.5,312.9 L1119.2,312.9 L1119.8,312.9 L1120.5,312.9 L1121.1,312.6 L1121.7,312.6 L1122.4,312.5 L1123.0,312.5 L1123.7,312.5 L1124.3,312.5 L1125.0,312.3 L1125.6,312.4 L1126.3,312.4 L1126.9,312.6 L1127.5,312.5 L1128.2,312.8 L1128.8,312.7 L1129.5,312.6 L1130.1,312.4 L1130.8,312.7 L1131.4,312.7 L1132.1,312.8 L1132.7,312.8 L1133.3,312.8 L1134.0,312.9 L1134.6,312.8 L1135.3,312.8 L1135.9,313.0 L1136.6,313.1 L1137.2,312.9 L1137.9,312.8 L1138.5,312.9 L1139.1,312.8 L1139.8,312.7 L1140.4,312.7 L1141.1,312.6 L1141.7,312.7 L1142.4,312.7 L1143.0,312.7 L1143.7,312.8 L1144.3,312.8 L1144.9,312.8 L1145.6,312.7 L1146.2,312.8 L1146.9,312.8 L1147.5,312.8 L1148.2,312.7 L1148.8,312.8 L1149.5,312.8 L1150.1,312.8 L1150.7,312.8 L1151.4,312.6 L1152.0,312.6 L1152.7,312.7 L1153.3,312.6 L1154.0,312.7 L1154.6,313.1 L1155.2,313.2 L1155.9,313.1 L1156.5,313.1 L1157.2,312.9 L1157.8,312.6 L1158.5,312.5 L1159.1,312.5 L1159.8,312.6 L1160.4,312.7 L1161.0,312.7 L1161.7,312.8 L1162.3,312.8 L1163.0,312.7 L1163.6,312.7 L1164.3,312.8 L1164.9,312.8 L1165.6,312.7 L1166.2,312.8 L1166.8,312.8 L1167.5,312.8 L1168.1,312.8 L1168.8,312.9 L1169.4,313.1 L1170.1,313.2 L1170.7,313.1 L1171.4,313.1 L1172.0,313.1 L1172.6,313.0 L1173.3,313.1 L1173.9,313.1 L1174.6,313.0 L1175.2,312.8 L1175.9,312.7 L1176.5,312.6 L1177.2,312.6 L1177.8,312.9 L1178.4,313.1 L1179.1,313.2 L1179.7,313.2 L1180.4,313.2 L1181.0,313.2 L1181.7,313.1 L1182.3,312.9 L1183.0,313.0 L1183.6,312.9 L1184.2,312.9 L1184.9,312.9 L1185.5,313.2 L1186.2,313.2 L1186.8,313.3 L1187.5,313.3 L1188.1,313.2 L1188.8,313.1 L1189.4,313.2 L1190.0,313.2 L1190.7,313.3 L1191.3,313.5 L1192.0,313.4 L1192.6,313.4 L1193.3,313.6 L1193.9,313.5 L1194.5,313.6 L1195.2,313.7 L1195.8,313.6 L1196.5,313.6 L1197.1,313.6 L1197.8,313.2 L1198.4,313.1 L1199.1,313.0 L1199.7,313.0 L1200.3,313.0 L1201.0,313.2 L1201.6,313.4 L1202.3,313.5 L1202.9,313.5 L1203.6,313.5 L1204.2,313.4 L1204.9,313.5 L1205.5,313.4 L1206.1,313.4 L1206.8,313.3 L1207.4,313.5 L1208.1,313.4 L1208.7,313.3 L1209.4,313.3 L1210.0,313.3 L1210.7,313.2 L1211.3,313.2 L1211.9,313.6 L1212.6,313.6 L1213.2,313.5 L1213.9,313.4 L1214.5,313.4 L1215.2,313.4 L1215.8,313.3 L1216.5,313.4 L1217.1,313.4 L1217.7,313.3 L1218.4,313.2 L1219.0,313.3 L1219.7,313.3 L1220.3,313.4 L1221.0,313.5 L1221.6,313.6 L1222.3,313.6 L1222.9,313.7 L1223.5,313.7 L1224.2,313.7 L1224.8,313.7 L1225.5,313.8 L1226.1,313.8 L1226.8,313.6 L1227.4,313.5 L1228.1,313.5 L1228.7,313.4 L1229.3,313.4 L1230.0,313.4 L1230.6,313.7 L1231.3,313.6 L1231.9,313.7 L1232.6,313.6 L1233.2,313.5 L1233.9,313.3 L1234.5,313.3 L1235.1,313.4 L1235.8,313.4 L1236.4,313.5 L1237.1,313.6 L1237.7,313.5 L1238.4,313.4 L1239.0,313.3 L1239.6,313.2 L1240.3,313.3 L1240.9,313.4 L1241.6,313.7 L1242.2,313.7 L1242.9,313.8 L1243.5,313.6 L1244.2,313.5 L1244.8,313.4 L1245.4,313.3 L1246.1,313.4 L1246.7,313.3 L1247.4,313.2 L1248.0,313.4 L1248.7,313.4 L1249.3,313.2 L1250.0,313.4 L1250.6,313.5 L1251.2,313.4 L1251.9,313.5 L1252.5,313.6 L1253.2,313.6 L1253.8,313.7 L1254.5,313.7 L1255.1,313.7 L1255.8,313.8 L1256.4,313.8 L1257.0,313.7 L1257.7,313.7 L1258.3,313.5 L1259.0,313.5 L1259.6,313.4 L1260.3,313.4 L1260.9,313.3 L1261.6,313.4 L1262.2,313.5 L1262.8,313.6 L1263.5,313.6 L1264.1,313.6 L1264.8,313.7 L1265.4,313.6 L1266.1,313.6 L1266.7,313.6 L1267.4,313.7 L1268.0,313.5 L1268.6,313.5 L1269.3,313.4 L1269.9,313.2 L1270.6,313.2 L1271.2,313.2 L1271.9,313.3 L1272.5,313.3 L1273.2,313.6 L1273.8,313.6 L1274.4,313.5 L1275.1,313.5 L1275.7,313.5 L1276.4,313.2 L1277.0,313.3 L1277.7,313.4 L1278.3,313.3 L1278.9,313.2 L1279.6,313.4 L1280.2,313.3 L1280.9,313.4 L1281.5,313.5 L1282.2,313.4 L1282.8,313.2 L1283.5,313.2 L1284.1,313.0 L1284.7,313.1 L1285.4,313.2 L1286.0,313.3 L1286.7,313.5 L1287.3,313.5 L1288.0,313.4 L1288.6,313.4 L1289.3,313.4 L1289.9,313.3 L1290.5,313.4 L1291.2,313.5 L1291.8,313.6 L1292.5,313.7 L1293.1,313.6 L1293.8,313.4 L1294.4,313.3 L1295.1,313.4 L1295.7,313.2 L1296.3,313.2 L1297.0,313.4 L1297.6,313.4 L1298.3,313.1 L1298.9,313.3 L1299.6,313.5 L1300.2,313.4 L1300.9,313.7 L1301.5,313.6 L1302.1,313.5 L1302.8,313.3 L1303.4,313.3 L1304.1,312.9 L1304.7,312.9 L1305.4,312.8 L1306.0,312.9 L1306.7,312.9 L1307.3,313.0 L1307.9,313.2 L1308.6,313.3 L1309.2,313.5 L1309.9,313.6 L1310.5,313.4 L1311.2,313.3 L1311.8,313.3 L1312.5,313.2 L1313.1,313.3 L1313.7,313.6 L1314.4,313.7 L1315.0,313.7 L1315.7,313.6 L1316.3,313.5 L1317.0,313.6 L1317.6,313.4 L1318.2,313.3 L1318.9,313.3 L1319.5,313.4 L1320.2,313.2 L1320.8,313.2 L1321.5,313.2 L1322.1,313.3 L1322.8,313.3 L1323.4,313.6 L1324.0,313.7 L1324.7,313.7 L1325.3,313.5 L1326.0,313.3 L1326.6,313.1 L1327.3,313.2 L1327.9,313.2 L1328.6,313.3 L1329.2,313.4 L1329.8,313.6 L1330.5,313.4 L1331.1,313.6 L1331.8,313.6 L1332.4,313.6 L1333.1,313.4 L1333.7,313.5 L1334.4,313.3 L1335.0,313.3 L1335.6,313.4 L1336.3,313.4 L1336.9,313.5 L1337.6,313.6 L1338.2,313.5 L1338.9,313.3 L1339.5,313.3 L1340.2,313.0 L1340.8,313.1 L1341.4,313.2 L1342.1,313.2 L1342.7,313.3 L1343.4,313.3 L1344.0,313.3 L1344.7,313.4 L1345.3,313.4 L1346.0,313.4 L1346.6,313.5 L1347.2,313.3 L1347.9,313.2 L1348.5,313.3 L1349.2,313.2 L1349.8,313.2 L1350.5,313.2 L1351.1,313.3 L1351.8,313.2 L1352.4,313.3 L1353.0,313.3 L1353.7,313.2 L1354.3,313.1 L1355.0,313.3 L1355.6,313.1 L1356.3,313.2 L1356.9,313.1 L1357.6,313.1 L1358.2,313.1 L1358.8,313.2 L1359.5,313.2 L1360.1,313.3 L1360.8,313.4 L1361.4,313.5 L1362.1,313.7 L1362.7,313.7 L1363.3,313.6 L1364.0,313.5 L1364.6,313.4 L1365.3,313.3 L1365.9,313.3 L1366.6,313.1 L1367.2,312.9 L1367.9,312.8 L1368.5,312.9 L1369.1,312.9 L1369.8,313.2 L1370.4,313.3 L1371.1,313.1 L1371.7,313.0 L1372.4,313.1 L1373.0,313.1 L1373.7,313.3 L1374.3,313.4 L1374.9,313.3 L1375.6,313.1 L1376.2,313.2 L1376.9,313.1 L1377.5,313.0 L1378.2,313.2 L1378.8,313.3 L1379.5,313.2 L1380.1,313.1" fill="none" stroke="#1f8f1f" stroke-width="2.0" stroke-linejoin="round" stroke-linecap="round" />
<path d="M800.9,188.8 L801.5,198.0 L802.2,206.3 L802.8,214.0 L803.5,221.1 L804.1,227.5 L804.8,233.1 L805.4,238.6 L806.1,243.2 L806.7,247.3 L807.3,250.9 L808.0,254.1 L808.6,257.7 L809.3,262.3 L809.9,266.8 L810.6,270.2 L811.2,273.6 L811.9,276.2 L812.5,278.4 L813.1,280.5 L813.8,282.8 L814.4,284.9 L815.1,287.3 L815.7,290.3 L816.4,293.1 L817.0,296.2 L817.7,299.0 L818.3,301.7 L818.9,303.8 L819.6,305.7 L820.2,307.2 L820.9,308.8 L821.5,310.4 L822.2,311.7 L822.8,312.9 L823.4,313.8 L824.1,314.7 L824.7,315.0 L825.4,315.5 L826.0,315.6 L826.7,315.8 L827.3,316.0 L828.0,316.3 L828.6,316.5 L829.2,316.7 L829.9,316.8 L830.5,316.6 L831.2,316.6 L831.8,316.8 L832.5,316.8 L833.1,316.9 L833.8,316.8 L834.4,316.8 L835.0,316.4 L835.7,316.2 L836.3,316.1 L837.0,316.1 L837.6,315.7 L838.3,315.7 L838.9,315.6 L839.6,315.2 L840.2,314.9 L840.8,314.9 L841.5,314.7 L842.1,314.5 L842.8,314.6 L843.4,314.7 L844.1,314.5 L844.7,314.3 L845.4,314.3 L846.0,314.2 L846.6,314.1 L847.3,314.3 L847.9,314.3 L848.6,314.2 L849.2,314.2 L849.9,314.0 L850.5,313.9 L851.2,313.8 L851.8,313.7 L852.4,313.7 L853.1,314.0 L853.7,313.9 L854.4,314.2 L855.0,314.5 L855.7,314.4 L856.3,314.1 L857.0,314.0 L857.6,313.9 L858.2,313.9 L858.9,314.0 L859.5,314.3 L860.2,314.2 L860.8,314.3 L861.5,314.1 L862.1,314.0 L862.8,313.8 L863.4,313.8 L864.0,313.7 L864.7,313.7 L865.3,313.7 L866.0,313.6 L866.6,313.6 L867.3,313.6 L867.9,313.4 L868.5,313.5 L869.2,313.6 L869.8,313.9 L870.5,313.8 L871.1,314.1 L871.8,314.2 L872.4,314.0 L873.1,313.9 L873.7,314.1 L874.3,313.9 L875.0,313.8 L875.6,313.8 L876.3,313.8 L876.9,313.6 L877.6,313.6 L878.2,313.5 L878.9,313.4 L879.5,313.4 L880.1,313.5 L880.8,313.7 L881.4,313.6 L882.1,313.8 L882.7,313.8 L883.4,313.7 L884.0,313.6 L884.7,313.8 L885.3,313.9 L885.9,313.9 L886.6,313.8 L887.2,314.0 L887.9,314.0 L888.5,314.0 L889.2,314.0 L889.8,314.1 L890.5,313.9 L891.1,313.9 L891.7,313.6 L892.4,313.7 L893.0,313.7 L893.7,313.9 L894.3,314.0 L895.0,314.0 L895.6,313.8 L896.3,314.1 L896.9,313.8 L897.5,313.8 L898.2,314.0 L898.8,314.1 L899.5,313.9 L900.1,313.8 L900.8,313.9 L901.4,313.8 L902.1,313.9 L902.7,314.1 L903.3,314.1 L904.0,313.8 L904.6,313.8 L905.3,313.7 L905.9,313.6 L906.6,313.7 L907.2,314.0 L907.8,313.8 L908.5,314.0 L909.1,313.9 L909.8,313.9 L910.4,313.6 L911.1,314.0 L911.7,313.9 L912.4,314.3 L913.0,314.4 L913.6,314.7 L914.3,314.7 L914.9,314.9 L915.6,315.0 L916.2,315.1 L916.9,315.1 L917.5,314.9 L918.2,314.8 L918.8,314.8 L919.4,315.0 L920.1,315.4 L920.7,315.8 L921.4,315.8 L922.0,315.8 L922.7,315.8 L923.3,315.8 L924.0,315.5 L924.6,315.6 L925.2,315.7 L925.9,315.9 L926.5,316.0 L927.2,316.1 L927.8,316.2 L928.5,316.3 L929.1,316.1 L929.8,316.1 L930.4,316.4 L931.0,316.9 L931.7,317.0 L932.3,317.3 L933.0,317.4 L933.6,317.3 L934.3,317.0 L934.9,317.1 L935.6,317.1 L936.2,316.9 L936.8,317.0 L937.5,317.3 L938.1,317.3 L938.8,317.5 L939.4,317.5 L940.1,317.7 L940.7,317.9 L941.4,318.0 L942.0,318.1 L942.6,318.5 L943.3,318.5 L943.9,318.3 L944.6,318.3 L945.2,318.5 L945.9,318.7 L946.5,318.8 L947.1,319.0 L947.8,319.1 L948.4,319.0 L949.1,319.1 L949.7,319.0 L950.4,319.0 L951.0,319.1 L951.7,319.2 L952.3,319.3 L952.9,319.6 L953.6,319.8 L954.2,320.1 L954.9,320.4 L955.5,320.4 L956.2,320.5 L956.8,320.8 L957.5,320.5 L958.1,320.7 L958.7,320.9 L959.4,321.0 L960.0,320.9 L960.7,321.4 L961.3,321.4 L962.0,321.7 L962.6,321.8 L963.3,322.0 L963.9,322.0 L964.5,322.1 L965.2,321.9 L965.8,322.1 L966.5,322.1 L967.1,322.4 L967.8,322.5 L968.4,322.9 L969.1,322.9 L969.7,323.1 L970.3,323.1 L971.0,323.4 L971.6,323.3 L972.3,323.4 L972.9,323.4 L973.6,323.4 L974.2,323.3 L974.9,323.3 L975.5,323.4 L976.1,323.3 L976.8,323.1 L977.4,323.0 L978.1,323.0 L978.7,322.8 L979.4,322.6 L980.0,322.8 L980.7,322.8 L981.3,322.8 L981.9,323.0 L982.6,323.3 L983.2,323.0 L983.9,323.1 L984.5,323.0 L985.2,322.8 L985.8,322.7 L986.5,322.8 L987.1,322.6 L987.7,322.3 L988.4,322.3 L989.0,322.0 L989.7,321.8 L990.3,321.9 L991.0,321.9 L991.6,321.5 L992.2,321.4 L992.9,321.3 L993.5,320.9 L994.2,321.1 L994.8,321.1 L995.5,321.0 L996.1,321.0 L996.8,320.8 L997.4,320.5 L998.0,320.2 L998.7,320.2 L999.3,320.1 L1000.0,320.2 L1000.6,320.0 L1001.3,320.1 L1001.9,319.8 L1002.6,319.6 L1003.2,319.1 L1003.8,318.9 L1004.5,318.6 L1005.1,318.4 L1005.8,318.4 L1006.4,318.3 L1007.1,318.3 L1007.7,318.2 L1008.4,318.1 L1009.0,317.7 L1009.6,317.5 L1010.3,317.4 L1010.9,317.4 L1011.6,317.1 L1012.2,317.0 L1012.9,316.8 L1013.5,316.5 L1014.2,316.3 L1014.8,316.3 L1015.4,316.1 L1016.1,315.9 L1016.7,315.8 L1017.4,315.6 L1018.0,315.6 L1018.7,315.7 L1019.3,315.3 L1020.0,315.0 L1020.6,314.9 L1021.2,314.6 L1021.9,314.3 L1022.5,314.3 L1023.2,314.4 L1023.8,314.5 L1024.5,314.7 L1025.1,314.8 L1025.8,314.6 L1026.4,314.3 L1027.0,314.1 L1027.7,313.9 L1028.3,313.6 L1029.0,313.5 L1029.6,313.6 L1030.3,313.4 L1030.9,313.1 L1031.5,313.1 L1032.2,313.1 L1032.8,312.8 L1033.5,312.5 L1034.1,312.4 L1034.8,312.1 L1035.4,311.6 L1036.1,311.2 L1036.7,310.9 L1037.3,310.4 L1038.0,310.2 L1038.6,309.9 L1039.3,309.9 L1039.9,309.9 L1040.6,309.8 L1041.2,310.0 L1041.9,310.5 L1042.5,310.7 L1043.1,311.1 L1043.8,311.5 L1044.4,311.8 L1045.1,311.8 L1045.7,311.9 L1046.4,312.0 L1047.0,312.2 L1047.7,312.2 L1048.3,312.3 L1048.9,312.2 L1049.6,312.5 L1050.2,312.5 L1050.9,312.6 L1051.5,312.9 L1052.2,313.2 L1052.8,313.2 L1053.5,313.3 L1054.1,313.6 L1054.7,313.5 L1055.4,313.7 L1056.0,313.6 L1056.7,313.6 L1057.3,313.5 L1058.0,313.5 L1058.6,313.4 L1059.3,313.5 L1059.9,313.4 L1060.5,313.5 L1061.2,313.5 L1061.8,313.6 L1062.5,313.8 L1063.1,313.9 L1063.8,314.0 L1064.4,314.2 L1065.1,314.1 L1065.7,313.9 L1066.3,313.8 L1067.0,313.7 L1067.6,313.5 L1068.3,313.4 L1068.9,313.2 L1069.6,313.4 L1070.2,313.4 L1070.8,313.6 L1071.5,313.5 L1072.1,313.8 L1072.8,313.6 L1073.4,313.6 L1074.1,313.3 L1074.7,313.8 L1075.4,313.9 L1076.0,314.0 L1076.6,314.2 L1077.3,314.2 L1077.9,313.7 L1078.6,313.7 L1079.2,313.8 L1079.9,313.6 L1080.5,313.4 L1081.2,313.4 L1081.8,313.2 L1082.4,313.3 L1083.1,313.3 L1083.7,313.5 L1084.4,313.7 L1085.0,313.8 L1085.7,313.7 L1086.3,313.7 L1087.0,313.5 L1087.6,313.5 L1088.2,313.3 L1088.9,313.3 L1089.5,313.3 L1090.2,313.7 L1090.8,313.7 L1091.5,313.7 L1092.1,313.7 L1092.8,313.9 L1093.4,313.6 L1094.0,313.6 L1094.7,313.9 L1095.3,313.9 L1096.0,313.9 L1096.6,313.9 L1097.3,313.6 L1097.9,313.6 L1098.6,313.5 L1099.2,313.4 L1099.8,313.6 L1100.5,313.8 L1101.1,313.9 L1101.8,314.0 L1102.4,314.0 L1103.1,313.7 L1103.7,313.9 L1104.4,313.6 L1105.0,313.4 L1105.6,313.3 L1106.3,313.6 L1106.9,313.3 L1107.6,313.2 L1108.2,313.3 L1108.9,313.3 L1109.5,313.3 L1110.2,313.2 L1110.8,313.5 L1111.4,313.5 L1112.1,313.3 L1112.7,313.5 L1113.4,313.7 L1114.0,313.5 L1114.7,313.6 L1115.3,313.7 L1115.9,313.7 L1116.6,313.7 L1117.2,313.9 L1117.9,313.9 L1118.5,313.8 L1119.2,313.7 L1119.8,313.7 L1120.5,313.5 L1121.1,313.3 L1121.7,313.3 L1122.4,313.2 L1123.0,313.6 L1123.7,313.5 L1124.3,313.5 L1125.0,313.7 L1125.6,313.7 L1126.3,313.4 L1126.9,313.5 L1127.5,313.6 L1128.2,313.6 L1128.8,313.3 L1129.5,313.5 L1130.1,313.7 L1130.8,313.7 L1131.4,313.8 L1132.1,314.2 L1132.7,314.1 L1133.3,313.9 L1134.0,313.8 L1134.6,313.7 L1135.3,313.4 L1135.9,313.3 L1136.6,313.2 L1137.2,313.2 L1137.9,313.0 L1138.5,313.1 L1139.1,313.3 L1139.8,313.3 L1140.4,313.4 L1141.1,313.4 L1141.7,313.5 L1142.4,313.2 L1143.0,313.3 L1143.7,313.3 L1144.3,313.5 L1144.9,313.4 L1145.6,313.6 L1146.2,313.5 L1146.9,313.6 L1147.5,313.7 L1148.2,313.7 L1148.8,313.7 L1149.5,313.8 L1150.1,313.6 L1150.7,313.5 L1151.4,313.3 L1152.0,313.5 L1152.7,313.2 L1153.3,313.5 L1154.0,313.8 L1154.6,313.9 L1155.2,313.9 L1155.9,314.1 L1156.5,313.9 L1157.2,313.9 L1157.8,314.1 L1158.5,314.0 L1159.1,313.9 L1159.8,313.8 L1160.4,313.7 L1161.0,313.5 L1161.7,313.4 L1162.3,313.7 L1163.0,313.7 L1163.6,313.6 L1164.3,313.4 L1164.9,313.4 L1165.6,313.0 L1166.2,312.9 L1166.8,313.0 L1167.5,313.4 L1168.1,313.6 L1168.8,313.8 L1169.4,313.8 L1170.1,313.8 L1170.7,313.6 L1171.4,313.5 L1172.0,313.6 L1172.6,313.7 L1173.3,313.6 L1173.9,313.6 L1174.6,313.7 L1175.2,313.8 L1175.9,314.0 L1176.5,314.0 L1177.2,313.9 L1177.8,313.9 L1178.4,313.9 L1179.1,313.8 L1179.7,313.7 L1180.4,314.0 L1181.0,313.9 L1181.7,313.9 L1182.3,313.8 L1183.0,313.9 L1183.6,313.8 L1184.2,313.6 L1184.9,313.6 L1185.5,313.7 L1186.2,313.9 L1186.8,313.9 L1187.5,314.1 L1188.1,314.0 L1188.8,314.0 L1189.4,313.8 L1190.0,313.9 L1190.7,314.0 L1191.3,313.8 L1192.0,313.7 L1192.6,313.5 L1193.3,313.3 L1193.9,313.0 L1194.5,313.2 L1195.2,313.2 L1195.8,313.0 L1196.5,313.3 L1197.1,313.5 L1197.8,313.6 L1198.4,313.7 L1199.1,314.3 L1199.7,314.3 L1200.3,314.2 L1201.0,314.3 L1201.6,314.2 L1202.3,314.0 L1202.9,313.9 L1203.6,314.2 L1204.2,314.1 L1204.9,314.4 L1205.5,314.2 L1206.1,314.4 L1206.8,314.2 L1207.4,314.3 L1208.1,314.2 L1208.7,314.1 L1209.4,314.0 L1210.0,314.3 L1210.7,314.3 L1211.3,314.3 L1211.9,314.7 L1212.6,314.6 L1213.2,314.6 L1213.9,314.8 L1214.5,315.1 L1215.2,315.2 L1215.8,315.5 L1216.5,315.5 L1217.1,315.5 L1217.7,315.6 L1218.4,315.7 L1219.0,316.1 L1219.7,316.1 L1220.3,316.1 L1221.0,316.0 L1221.6,315.9 L1222.3,315.7 L1222.9,315.4 L1223.5,315.4 L1224.2,315.2 L1224.8,314.8 L1225.5,314.6 L1226.1,314.5 L1226.8,314.3 L1227.4,314.1 L1228.1,314.2 L1228.7,314.0 L1229.3,313.8 L1230.0,313.5 L1230.6,313.4 L1231.3,313.1 L1231.9,312.9 L1232.6,313.1 L1233.2,313.1 L1233.9,313.1 L1234.5,313.2 L1235.1,313.2 L1235.8,313.3 L1236.4,313.2 L1237.1,313.1 L1237.7,313.3 L1238.4,313.3 L1239.0,313.2 L1239.6,313.3 L1240.3,313.5 L1240.9,313.4 L1241.6,313.4 L1242.2,313.2 L1242.9,313.1 L1243.5,312.8 L1244.2,312.8 L1244.8,312.8 L1245.4,312.9 L1246.1,313.4 L1246.7,313.8 L1247.4,314.1 L1248.0,314.5 L1248.7,314.8 L1249.3,314.8 L1250.0,314.9 L1250.6,314.9 L1251.2,314.7 L1251.9,314.8 L1252.5,314.9 L1253.2,314.9 L1253.8,315.0 L1254.5,315.2 L1255.1,315.4 L1255.8,315.3 L1256.4,315.1 L1257.0,315.0 L1257.7,314.8 L1258.3,314.7 L1259.0,314.6 L1259.6,314.5 L1260.3,314.3 L1260.9,314.1 L1261.6,313.9 L1262.2,313.9 L1262.8,313.9 L1263.5,313.6 L1264.1,313.6 L1264.8,313.7 L1265.4,313.6 L1266.1,313.6 L1266.7,313.6 L1267.4,313.4 L1268.0,313.4 L1268.6,313.4 L1269.3,313.4 L1269.9,313.5 L1270.6,313.8 L1271.2,313.6 L1271.9,313.5 L1272.5,313.4 L1273.2,313.4 L1273.8,313.3 L1274.4,313.4 L1275.1,313.3 L1275.7,313.2 L1276.4,313.1 L1277.0,313.0 L1277.7,313.2 L1278.3,313.2 L1278.9,313.5 L1279.6,313.6 L1280.2,313.8 L1280.9,313.4 L1281.5,313.4 L1282.2,313.2 L1282.8,313.2 L1283.5,313.2 L1284.1,313.5 L1284.7,313.5 L1285.4,313.5 L1286.0,313.4 L1286.7,313.3 L1287.3,313.2 L1288.0,313.2 L1288.6,313.4 L1289.3,313.4 L1289.9,313.5 L1290.5,313.7 L1291.2,313.7 L1291.8,313.7 L1292.5,313.5 L1293.1,313.8 L1293.8,313.5 L1294.4,313.4 L1295.1,313.1 L1295.7,313.1 L1296.3,312.9 L1297.0,312.7 L1297.6,312.8 L1298.3,313.0 L1298.9,313.2 L1299.6,313.3 L1300.2,313.3 L1300.9,313.4 L1301.5,313.6 L1302.1,313.4 L1302.8,313.3 L1303.4,313.4 L1304.1,313.2 L1304.7,313.0 L1305.4,313.1 L1306.0,313.2 L1306.7,313.4 L1307.3,313.3 L1307.9,313.4 L1308.6,313.4 L1309.2,313.2 L1309.9,313.1 L1310.5,313.1 L1311.2,313.3 L1311.8,313.3 L1312.5,313.6 L1313.1,313.8 L1313.7,313.9 L1314.4,313.8 L1315.0,313.8 L1315.7,314.0 L1316.3,313.7 L1317.0,313.5 L1317.6,313.5 L1318.2,313.6 L1318.9,313.1 L1319.5,313.3 L1320.2,313.2 L1320.8,313.1 L1321.5,313.2 L1322.1,313.4 L1322.8,313.4 L1323.4,313.5 L1324.0,313.6 L1324.7,313.4 L1325.3,313.1 L1326.0,313.1 L1326.6,313.1 L1327.3,313.2 L1327.9,313.5 L1328.6,313.6 L1329.2,313.5 L1329.8,313.6 L1330.5,313.4 L1331.1,313.3 L1331.8,313.3 L1332.4,313.4 L1333.1,313.3 L1333.7,313.3 L1334.4,313.3 L1335.0,313.3 L1335.6,313.1 L1336.3,313.1 L1336.9,313.2 L1337.6,313.2 L1338.2,313.2 L1338.9,313.3 L1339.5,313.4 L1340.2,313.2 L1340.8,313.0 L1341.4,313.0 L1342.1,313.0 L1342.7,312.8 L1343.4,313.1 L1344.0,313.2 L1344.7,313.2 L1345.3,313.3 L1346.0,313.6 L1346.6,313.4 L1347.2,313.4 L1347.9,313.5 L1348.5,313.2 L1349.2,313.1 L1349.8,313.2 L1350.5,312.9 L1351.1,313.0 L1351.8,313.2 L1352.4,313.4 L1353.0,313.2 L1353.7,313.5 L1354.3,313.1 L1355.0,313.0 L1355.6,312.8 L1356.3,312.9 L1356.9,312.8 L1357.6,313.2 L1358.2,313.3 L1358.8,313.3 L1359.5,313.5 L1360.1,313.5 L1360.8,313.5 L1361.4,313.4 L1362.1,313.4 L1362.7,313.1 L1363.3,312.9 L1364.0,312.6 L1364.6,312.6 L1365.3,312.6 L1365.9,312.7 L1366.6,312.8 L1367.2,312.9 L1367.9,312.9 L1368.5,312.8 L1369.1,312.9 L1369.8,313.0 L1370.4,312.9 L1371.1,312.9 L1371.7,312.9 L1372.4,312.7 L1373.0,312.8 L1373.7,312.8 L1374.3,312.8 L1374.9,312.6 L1375.6,312.7 L1376.2,312.7 L1376.9,312.9 L1377.5,312.9 L1378.2,313.3 L1378.8,313.5 L1379.5,313.4 L1380.1,313.4" fill="none" stroke="#ff22ff" stroke-width="2.0" stroke-linejoin="round" stroke-linecap="round" />
<path d="M800.9,62.7 L801.5,73.9 L802.2,84.6 L802.8,94.7 L803.5,104.3 L804.1,113.6 L804.8,122.5 L805.4,130.3 L806.1,136.7 L806.7,141.6 L807.3,141.4 L808.0,139.8 L808.6,138.1 L809.3,137.3 L809.9,136.8 L810.6,136.4 L811.2,136.1 L811.9,136.9 L812.5,142.3 L813.1,149.0 L813.8,153.7 L814.4,158.6 L815.1,165.0 L815.7,172.7 L816.4,181.4 L817.0,190.9 L817.7,200.8 L818.3,210.7 L818.9,220.5 L819.6,230.0 L820.2,239.8 L820.9,248.9 L821.5,256.7 L822.2,264.2 L822.8,271.2 L823.4,277.8 L824.1,283.9 L824.7,289.4 L825.4,294.3 L826.0,298.9 L826.7,303.6 L827.3,307.5 L828.0,310.2 L828.6,311.2 L829.2,311.6 L829.9,312.0 L830.5,312.3 L831.2,312.5 L831.8,312.7 L832.5,312.9 L833.1,313.0 L833.8,313.1 L834.4,313.1 L835.0,313.1 L835.7,313.1 L836.3,313.1 L837.0,313.1 L837.6,313.1 L838.3,313.1 L838.9,313.1 L839.6,313.1 L840.2,313.1 L840.8,313.1 L841.5,313.1 L842.1,313.1 L842.8,313.1 L843.4,313.1 L844.1,313.1 L844.7,313.1 L845.4,313.1 L846.0,313.1 L846.6,313.1 L847.3,313.1 L847.9,313.1 L848.6,313.1 L849.2,313.1 L849.9,313.1 L850.5,313.1 L851.2,313.1 L851.8,313.1 L852.4,313.1 L853.1,313.1 L853.7,313.1 L854.4,313.1 L855.0,313.1 L855.7,313.1 L856.3,313.1 L857.0,313.1 L857.6,313.1 L858.2,313.1 L858.9,313.1 L859.5,313.1 L860.2,313.1 L860.8,313.1 L861.5,313.1 L862.1,313.1 L862.8,313.1 L863.4,313.1 L864.0,313.1 L864.7,313.1 L865.3,313.1 L866.0,313.1 L866.6,313.1 L867.3,313.1 L867.9,313.1 L868.5,313.1 L869.2,313.1 L869.8,313.1 L870.5,313.1 L871.1,313.1 L871.8,313.1 L872.4,313.1 L873.1,313.1 L873.7,313.1 L874.3,313.1 L875.0,313.1 L875.6,313.1 L876.3,313.1 L876.9,313.1 L877.6,313.1 L878.2,313.1 L878.9,313.1 L879.5,313.1 L880.1,313.1 L880.8,313.1 L881.4,313.1 L882.1,313.1 L882.7,313.1 L883.4,313.1 L884.0,313.1 L884.7,313.1 L885.3,313.1 L885.9,313.1 L886.6,313.1 L887.2,313.1 L887.9,313.1 L888.5,313.1 L889.2,313.1 L889.8,313.1 L890.5,313.1 L891.1,313.1 L891.7,313.1 L892.4,313.1 L893.0,313.1 L893.7,313.1 L894.3,313.1 L895.0,313.1 L895.6,313.1 L896.3,313.1 L896.9,313.1 L897.5,313.1 L898.2,313.1 L898.8,313.1 L899.5,313.1 L900.1,313.1 L900.8,313.1 L901.4,313.1 L902.1,313.1 L902.7,313.1 L903.3,313.1 L904.0,313.1 L904.6,313.1 L905.3,313.1 L905.9,313.1 L906.6,313.1 L907.2,313.1 L907.8,313.1 L908.5,313.1 L909.1,313.1 L909.8,313.1 L910.4,313.1 L911.1,313.1 L911.7,313.1 L912.4,313.1 L913.0,313.1 L913.6,313.1 L914.3,313.1 L914.9,313.1 L915.6,313.1 L916.2,313.1 L916.9,313.1 L917.5,313.1 L918.2,313.1 L918.8,313.1 L919.4,313.1 L920.1,313.1 L920.7,313.1 L921.4,313.1 L922.0,313.1 L922.7,313.1 L923.3,313.1 L924.0,313.1 L924.6,313.1 L925.2,313.1 L925.9,313.1 L926.5,313.1 L927.2,313.1 L927.8,313.1 L928.5,313.1 L929.1,313.1 L929.8,313.1 L930.4,313.1 L931.0,313.1 L931.7,313.1 L932.3,313.1 L933.0,313.1 L933.6,313.1 L934.3,313.1 L934.9,313.1 L935.6,313.1 L936.2,313.1 L936.8,313.1 L937.5,313.1 L938.1,313.1 L938.8,313.1 L939.4,313.1 L940.1,313.1 L940.7,313.1 L941.4,313.1 L942.0,313.1 L942.6,313.1 L943.3,313.1 L943.9,313.1 L944.6,313.1 L945.2,313.1 L945.9,313.1 L946.5,313.1 L947.1,313.1 L947.8,313.1 L948.4,313.1 L949.1,313.1 L949.7,313.1 L950.4,313.1 L951.0,313.1 L951.7,313.1 L952.3,313.1 L952.9,313.1 L953.6,313.1 L954.2,313.1 L954.9,313.1 L955.5,313.1 L956.2,313.1 L956.8,313.1 L957.5,313.1 L958.1,313.1 L958.7,313.1 L959.4,313.1 L960.0,313.1 L960.7,313.1 L961.3,313.1 L962.0,313.1 L962.6,313.1 L963.3,313.1 L963.9,313.1 L964.5,313.1 L965.2,313.1 L965.8,313.1 L966.5,313.1 L967.1,313.1 L967.8,313.1 L968.4,313.1 L969.1,313.1 L969.7,313.1 L970.3,313.1 L971.0,313.1 L971.6,313.1 L972.3,313.1 L972.9,313.1 L973.6,313.1 L974.2,313.1 L974.9,313.1 L975.5,313.1 L976.1,313.1 L976.8,313.1 L977.4,313.1 L978.1,313.1 L978.7,313.1 L979.4,313.1 L980.0,313.1 L980.7,313.1 L981.3,313.1 L981.9,313.1 L982.6,313.1 L983.2,313.1 L983.9,313.1 L984.5,313.1 L985.2,313.1 L985.8,313.1 L986.5,313.1 L987.1,313.1 L987.7,313.1 L988.4,313.1 L989.0,313.1 L989.7,313.1 L990.3,313.1 L991.0,313.1 L991.6,313.1 L992.2,313.1 L992.9,313.1 L993.5,313.1 L994.2,313.1 L994.8,313.1 L995.5,313.1 L996.1,313.1 L996.8,313.1 L997.4,313.1 L998.0,313.1 L998.7,313.1 L999.3,313.1 L1000.0,313.1 L1000.6,313.1 L1001.3,313.1 L1001.9,313.1 L1002.6,313.1 L1003.2,313.1 L1003.8,313.1 L1004.5,313.1 L1005.1,313.1 L1005.8,313.1 L1006.4,313.1 L1007.1,313.1 L1007.7,313.1 L1008.4,313.1 L1009.0,313.1 L1009.6,313.1 L1010.3,313.1 L1010.9,313.1 L1011.6,313.1 L1012.2,313.1 L1012.9,313.1 L1013.5,313.1 L1014.2,313.1 L1014.8,313.1 L1015.4,313.1 L1016.1,313.1 L1016.7,313.1 L1017.4,313.1 L1018.0,313.1 L1018.7,313.1 L1019.3,313.1 L1020.0,313.1 L1020.6,313.1 L1021.2,313.1 L1021.9,313.1 L1022.5,313.1 L1023.2,313.1 L1023.8,313.1 L1024.5,313.1 L1025.1,313.1 L1025.8,313.1 L1026.4,313.1 L1027.0,313.1 L1027.7,313.1 L1028.3,313.1 L1029.0,313.1 L1029.6,313.1 L1030.3,313.1 L1030.9,313.1 L1031.5,313.1 L1032.2,313.1 L1032.8,313.1 L1033.5,313.1 L1034.1,313.1 L1034.8,313.1 L1035.4,313.1 L1036.1,313.1 L1036.7,313.1 L1037.3,313.1 L1038.0,313.1 L1038.6,313.1 L1039.3,313.1 L1039.9,313.1 L1040.6,313.1 L1041.2,313.1 L1041.9,313.1 L1042.5,313.1 L1043.1,313.1 L1043.8,313.1 L1044.4,313.1 L1045.1,313.1 L1045.7,313.1 L1046.4,313.1 L1047.0,313.1 L1047.7,313.1 L1048.3,313.1 L1048.9,313.1 L1049.6,313.1 L1050.2,313.1 L1050.9,313.1 L1051.5,313.1 L1052.2,313.1 L1052.8,313.1 L1053.5,313.1 L1054.1,313.1 L1054.7,313.1 L1055.4,313.1 L1056.0,313.1 L1056.7,313.1 L1057.3,313.1 L1058.0,313.1 L1058.6,313.1 L1059.3,313.1 L1059.9,313.1 L1060.5,313.1 L1061.2,313.1 L1061.8,313.1 L1062.5,313.1 L1063.1,313.1 L1063.8,313.1 L1064.4,313.1 L1065.1,313.1 L1065.7,313.1 L1066.3,313.1 L1067.0,313.1 L1067.6,313.1 L1068.3,313.1 L1068.9,313.1 L1069.6,313.1 L1070.2,313.1 L1070.8,313.1 L1071.5,313.1 L1072.1,313.1 L1072.8,313.1 L1073.4,313.1 L1074.1,313.1 L1074.7,313.1 L1075.4,313.1 L1076.0,313.1 L1076.6,313.1 L1077.3,313.1 L1077.9,313.1 L1078.6,313.1 L1079.2,313.1 L1079.9,313.1 L1080.5,313.1 L1081.2,313.1 L1081.8,313.1 L1082.4,313.1 L1083.1,313.1 L1083.7,313.1 L1084.4,313.1 L1085.0,313.1 L1085.7,313.1 L1086.3,313.1 L1087.0,313.1 L1087.6,313.1 L1088.2,313.1 L1088.9,313.1 L1089.5,313.1 L1090.2,313.1 L1090.8,313.1 L1091.5,313.1 L1092.1,313.1 L1092.8,313.1 L1093.4,313.1 L1094.0,313.1 L1094.7,313.1 L1095.3,313.1 L1096.0,313.1 L1096.6,313.1 L1097.3,313.1 L1097.9,313.1 L1098.6,313.1 L1099.2,313.1 L1099.8,313.1 L1100.5,313.1 L1101.1,313.1 L1101.8,313.1 L1102.4,313.1 L1103.1,313.1 L1103.7,313.1 L1104.4,313.1 L1105.0,313.1 L1105.6,313.1 L1106.3,313.1 L1106.9,313.1 L1107.6,313.1 L1108.2,313.1 L1108.9,313.1 L1109.5,313.1 L1110.2,313.1 L1110.8,313.1 L1111.4,313.1 L1112.1,313.1 L1112.7,313.1 L1113.4,313.1 L1114.0,313.1 L1114.7,313.1 L1115.3,313.1 L1115.9,313.1 L1116.6,313.1 L1117.2,313.1 L1117.9,313.1 L1118.5,313.1 L1119.2,313.1 L1119.8,313.1 L1120.5,313.1 L1121.1,313.1 L1121.7,313.1 L1122.4,313.1 L1123.0,313.1 L1123.7,313.1 L1124.3,313.1 L1125.0,313.1 L1125.6,313.1 L1126.3,313.1 L1126.9,313.1 L1127.5,313.1 L1128.2,313.1 L1128.8,313.1 L1129.5,313.1 L1130.1,313.1 L1130.8,313.1 L1131.4,313.1 L1132.1,313.1 L1132.7,313.1 L1133.3,313.1 L1134.0,313.1 L1134.6,313.1 L1135.3,313.1 L1135.9,313.1 L1136.6,313.1 L1137.2,313.1 L1137.9,313.1 L1138.5,313.1 L1139.1,313.1 L1139.8,313.1 L1140.4,313.1 L1141.1,313.1 L1141.7,313.1 L1142.4,313.1 L1143.0,313.1 L1143.7,313.1 L1144.3,313.1 L1144.9,313.1 L1145.6,313.1 L1146.2,313.1 L1146.9,313.1 L1147.5,313.1 L1148.2,313.1 L1148.8,313.1 L1149.5,313.1 L1150.1,313.1 L1150.7,313.1 L1151.4,313.1 L1152.0,313.1 L1152.7,313.1 L1153.3,313.1 L1154.0,313.1 L1154.6,313.1 L1155.2,313.1 L1155.9,313.1 L1156.5,313.1 L1157.2,313.1 L1157.8,313.1 L1158.5,313.1 L1159.1,313.1 L1159.8,313.1 L1160.4,313.1 L1161.0,313.1 L1161.7,313.1 L1162.3,313.1 L1163.0,313.1 L1163.6,313.1 L1164.3,313.1 L1164.9,313.1 L1165.6,313.1 L1166.2,313.1 L1166.8,313.1 L1167.5,313.1 L1168.1,313.1 L1168.8,313.1 L1169.4,313.1 L1170.1,313.1 L1170.7,313.1 L1171.4,313.1 L1172.0,313.1 L1172.6,313.1 L1173.3,313.1 L1173.9,313.1 L1174.6,313.1 L1175.2,313.1 L1175.9,313.1 L1176.5,313.1 L1177.2,313.1 L1177.8,313.1 L1178.4,313.1 L1179.1,313.1 L1179.7,313.1 L1180.4,313.1 L1181.0,313.1 L1181.7,313.1 L1182.3,313.1 L1183.0,313.1 L1183.6,313.1 L1184.2,313.1 L1184.9,313.1 L1185.5,313.1 L1186.2,313.1 L1186.8,313.1 L1187.5,313.1 L1188.1,313.1 L1188.8,313.1 L1189.4,313.1 L1190.0,313.1 L1190.7,313.1 L1191.3,313.1 L1192.0,313.1 L1192.6,313.1 L1193.3,313.1 L1193.9,313.1 L1194.5,313.1 L1195.2,313.1 L1195.8,313.1 L1196.5,313.1 L1197.1,313.1 L1197.8,313.1 L1198.4,313.1 L1199.1,313.1 L1199.7,313.1 L1200.3,313.1 L1201.0,313.1 L1201.6,313.1 L1202.3,313.1 L1202.9,313.1 L1203.6,313.1 L1204.2,313.1 L1204.9,313.1 L1205.5,313.1 L1206.1,313.1 L1206.8,313.1 L1207.4,313.1 L1208.1,313.1 L1208.7,313.1 L1209.4,313.1 L1210.0,313.1 L1210.7,313.1 L1211.3,313.1 L1211.9,313.1 L1212.6,313.1 L1213.2,313.1 L1213.9,313.1 L1214.5,313.1 L1215.2,313.1 L1215.8,313.1 L1216.5,313.1 L1217.1,313.1 L1217.7,313.1 L1218.4,313.1 L1219.0,313.1 L1219.7,313.1 L1220.3,313.1 L1221.0,313.1 L1221.6,313.1 L1222.3,313.1 L1222.9,313.1 L1223.5,313.1 L1224.2,313.1 L1224.8,313.1 L1225.5,313.1 L1226.1,313.1 L1226.8,313.1 L1227.4,313.1 L1228.1,313.1 L1228.7,313.1 L1229.3,313.1 L1230.0,313.1 L1230.6,313.1 L1231.3,313.1 L1231.9,313.1 L1232.6,313.1 L1233.2,313.1 L1233.9,313.1 L1234.5,313.1 L1235.1,313.1 L1235.8,313.1 L1236.4,313.1 L1237.1,313.1 L1237.7,313.1 L1238.4,313.1 L1239.0,313.1 L1239.6,313.1 L1240.3,313.1 L1240.9,313.1 L1241.6,313.1 L1242.2,313.1 L1242.9,313.1 L1243.5,313.1 L1244.2,313.1 L1244.8,313.1 L1245.4,313.1 L1246.1,313.1 L1246.7,313.1 L1247.4,313.1 L1248.0,313.1 L1248.7,313.1 L1249.3,313.1 L1250.0,313.1 L1250.6,313.1 L1251.2,313.1 L1251.9,313.1 L1252.5,313.1 L1253.2,313.1 L1253.8,313.1 L1254.5,313.1 L1255.1,313.1 L1255.8,313.1 L1256.4,313.1 L1257.0,313.1 L1257.7,313.1 L1258.3,313.1 L1259.0,313.1 L1259.6,313.1 L1260.3,313.1 L1260.9,313.1 L1261.6,313.1 L1262.2,313.1 L1262.8,313.1 L1263.5,313.1 L1264.1,313.1 L1264.8,313.1 L1265.4,313.1 L1266.1,313.1 L1266.7,313.1 L1267.4,313.1 L1268.0,313.1 L1268.6,313.1 L1269.3,313.1 L1269.9,313.1 L1270.6,313.1 L1271.2,313.1 L1271.9,313.1 L1272.5,313.1 L1273.2,313.1 L1273.8,313.1 L1274.4,313.1 L1275.1,313.1 L1275.7,313.1 L1276.4,313.1 L1277.0,313.1 L1277.7,313.1 L1278.3,313.1 L1278.9,313.1 L1279.6,313.1 L1280.2,313.1 L1280.9,313.1 L1281.5,313.1 L1282.2,313.1 L1282.8,313.1 L1283.5,313.1 L1284.1,313.1 L1284.7,313.1 L1285.4,313.1 L1286.0,313.1 L1286.7,313.1 L1287.3,313.1 L1288.0,313.1 L1288.6,313.1 L1289.3,313.1 L1289.9,313.1 L1290.5,313.1 L1291.2,313.1 L1291.8,313.1 L1292.5,313.1 L1293.1,313.1 L1293.8,313.1 L1294.4,313.1 L1295.1,313.1 L1295.7,313.1 L1296.3,313.1 L1297.0,313.1 L1297.6,313.1 L1298.3,313.1 L1298.9,313.1 L1299.6,313.1 L1300.2,313.1 L1300.9,313.1 L1301.5,313.1 L1302.1,313.1 L1302.8,313.1 L1303.4,313.1 L1304.1,313.1 L1304.7,313.1 L1305.4,313.1 L1306.0,313.1 L1306.7,313.1 L1307.3,313.1 L1307.9,313.1 L1308.6,313.1 L1309.2,313.1 L1309.9,313.1 L1310.5,313.1 L1311.2,313.1 L1311.8,313.1 L1312.5,313.1 L1313.1,313.1 L1313.7,313.1 L1314.4,313.1 L1315.0,313.1 L1315.7,313.1 L1316.3,313.1 L1317.0,313.1 L1317.6,313.1 L1318.2,313.1 L1318.9,313.1 L1319.5,313.1 L1320.2,313.1 L1320.8,313.1 L1321.5,313.1 L1322.1,313.1 L1322.8,313.1 L1323.4,313.1 L1324.0,313.1 L1324.7,313.1 L1325.3,313.1 L1326.0,313.1 L1326.6,313.1 L1327.3,313.1 L1327.9,313.1 L1328.6,313.1 L1329.2,313.1 L1329.8,313.1 L1330.5,313.1 L1331.1,313.1 L1331.8,313.1 L1332.4,313.1 L1333.1,313.1 L1333.7,313.1 L1334.4,313.1 L1335.0,313.1 L1335.6,313.1 L1336.3,313.1 L1336.9,313.1 L1337.6,313.1 L1338.2,313.1 L1338.9,313.1 L1339.5,313.1 L1340.2,313.1 L1340.8,313.1 L1341.4,313.1 L1342.1,313.1 L1342.7,313.1 L1343.4,313.1 L1344.0,313.1 L1344.7,313.1 L1345.3,313.1 L1346.0,313.1 L1346.6,313.1 L1347.2,313.1 L1347.9,313.1 L1348.5,313.1 L1349.2,313.1 L1349.8,313.1 L1350.5,313.1 L1351.1,313.1 L1351.8,313.1 L1352.4,313.1 L1353.0,313.1 L1353.7,313.1 L1354.3,313.1 L1355.0,313.1 L1355.6,313.1 L1356.3,313.1 L1356.9,313.1 L1357.6,313.1 L1358.2,313.1 L1358.8,313.1 L1359.5,313.1 L1360.1,313.1 L1360.8,313.1 L1361.4,313.1 L1362.1,313.1 L1362.7,313.1 L1363.3,313.1 L1364.0,313.1 L1364.6,313.1 L1365.3,313.1 L1365.9,313.1 L1366.6,313.1 L1367.2,313.1 L1367.9,313.1 L1368.5,313.1 L1369.1,313.1 L1369.8,313.1 L1370.4,313.1 L1371.1,313.1 L1371.7,313.1 L1372.4,313.1 L1373.0,313.1 L1373.7,313.1 L1374.3,313.1 L1374.9,313.1 L1375.6,313.1 L1376.2,313.1 L1376.9,313.1 L1377.5,313.1 L1378.2,313.1 L1378.8,313.1 L1379.5,313.1 L1380.1,313.1" fill="none" stroke="#8a1c8a" stroke-width="2.0" stroke-linejoin="round" stroke-linecap="round" />
<path d="M421.4,1064.3 L421.4,626.4 L1008.8,626.4 L1008.8,1064.3 Z" fill="none" stroke="#1e1e1e" stroke-width="1.7"/>
<line x1="421.40" y1="626.40" x2="430.40" y2="626.40" stroke="#1e1e1e" stroke-width="1.7" />
<text x="412.6" y="632.5" font-family="'Liberation Serif',serif" font-size="21" text-anchor="end" stroke="#000" stroke-width="0.38" >200</text>
<line x1="421.40" y1="652.16" x2="426.40" y2="652.16" stroke="#1e1e1e" stroke-width="1.7" />
<line x1="421.40" y1="677.92" x2="430.40" y2="677.92" stroke="#1e1e1e" stroke-width="1.7" />
<text x="412.6" y="684.0" font-family="'Liberation Serif',serif" font-size="21" text-anchor="end" stroke="#000" stroke-width="0.38" >150</text>
<line x1="421.40" y1="703.68" x2="426.40" y2="703.68" stroke="#1e1e1e" stroke-width="1.7" />
<line x1="421.40" y1="729.44" x2="430.40" y2="729.44" stroke="#1e1e1e" stroke-width="1.7" />
<text x="412.6" y="735.5" font-family="'Liberation Serif',serif" font-size="21" text-anchor="end" stroke="#000" stroke-width="0.38" >100</text>
<line x1="421.40" y1="755.19" x2="426.40" y2="755.19" stroke="#1e1e1e" stroke-width="1.7" />
<line x1="421.40" y1="780.95" x2="430.40" y2="780.95" stroke="#1e1e1e" stroke-width="1.7" />
<text x="412.6" y="787.1" font-family="'Liberation Serif',serif" font-size="21" text-anchor="end" stroke="#000" stroke-width="0.38" >50</text>
<line x1="421.40" y1="806.71" x2="426.40" y2="806.71" stroke="#1e1e1e" stroke-width="1.7" />
<line x1="421.40" y1="832.47" x2="430.40" y2="832.47" stroke="#1e1e1e" stroke-width="1.7" />
<text x="412.6" y="838.6" font-family="'Liberation Serif',serif" font-size="21" text-anchor="end" stroke="#000" stroke-width="0.38" >0</text>
<line x1="421.40" y1="858.23" x2="426.40" y2="858.23" stroke="#1e1e1e" stroke-width="1.7" />
<line x1="421.40" y1="883.99" x2="430.40" y2="883.99" stroke="#1e1e1e" stroke-width="1.7" />
<text x="412.6" y="890.1" font-family="'Liberation Serif',serif" font-size="21" text-anchor="end" stroke="#000" stroke-width="0.38" >-50</text>
<line x1="421.40" y1="909.75" x2="426.40" y2="909.75" stroke="#1e1e1e" stroke-width="1.7" />
<line x1="421.40" y1="935.51" x2="430.40" y2="935.51" stroke="#1e1e1e" stroke-width="1.7" />
<text x="412.6" y="941.6" font-family="'Liberation Serif',serif" font-size="21" text-anchor="end" stroke="#000" stroke-width="0.38" >-100</text>
<line x1="421.40" y1="961.26" x2="426.40" y2="961.26" stroke="#1e1e1e" stroke-width="1.7" />
<line x1="421.40" y1="987.02" x2="430.40" y2="987.02" stroke="#1e1e1e" stroke-width="1.7" />
<text x="412.6" y="993.1" font-family="'Liberation Serif',serif" font-size="21" text-anchor="end" stroke="#000" stroke-width="0.38" >-150</text>
<line x1="421.40" y1="1012.78" x2="426.40" y2="1012.78" stroke="#1e1e1e" stroke-width="1.7" />
<line x1="421.40" y1="1038.54" x2="430.40" y2="1038.54" stroke="#1e1e1e" stroke-width="1.7" />
<text x="412.6" y="1044.6" font-family="'Liberation Serif',serif" font-size="21" text-anchor="end" stroke="#000" stroke-width="0.38" >-200</text>
<line x1="421.40" y1="1064.30" x2="426.40" y2="1064.30" stroke="#1e1e1e" stroke-width="1.7" />
<line x1="421.40" y1="1064.30" x2="421.40" y2="1056.30" stroke="#1e1e1e" stroke-width="1.7" />
<text x="421.4" y="1089.8" font-family="'Liberation Serif',serif" font-size="21" text-anchor="middle" stroke="#000" stroke-width="0.38" >0</text>
<line x1="480.14" y1="1064.30" x2="480.14" y2="1059.30" stroke="#1e1e1e" stroke-width="1.7" />
<line x1="538.88" y1="1064.30" x2="538.88" y2="1056.30" stroke="#1e1e1e" stroke-width="1.7" />
<text x="538.9" y="1089.8" font-family="'Liberation Serif',serif" font-size="21" text-anchor="middle" stroke="#000" stroke-width="0.38" >20</text>
<line x1="597.62" y1="1064.30" x2="597.62" y2="1059.30" stroke="#1e1e1e" stroke-width="1.7" />
<line x1="656.36" y1="1064.30" x2="656.36" y2="1056.30" stroke="#1e1e1e" stroke-width="1.7" />
<text x="656.4" y="1089.8" font-family="'Liberation Serif',serif" font-size="21" text-anchor="middle" stroke="#000" stroke-width="0.38" >40</text>
<line x1="715.10" y1="1064.30" x2="715.10" y2="1059.30" stroke="#1e1e1e" stroke-width="1.7" />
<line x1="773.84" y1="1064.30" x2="773.84" y2="1056.30" stroke="#1e1e1e" stroke-width="1.7" />
<text x="773.8" y="1089.8" font-family="'Liberation Serif',serif" font-size="21" text-anchor="middle" stroke="#000" stroke-width="0.38" >60</text>
<line x1="832.58" y1="1064.30" x2="832.58" y2="1059.30" stroke="#1e1e1e" stroke-width="1.7" />
<line x1="891.32" y1="1064.30" x2="891.32" y2="1056.30" stroke="#1e1e1e" stroke-width="1.7" />
<text x="891.3" y="1089.8" font-family="'Liberation Serif',serif" font-size="21" text-anchor="middle" stroke="#000" stroke-width="0.38" >80</text>
<line x1="950.06" y1="1064.30" x2="950.06" y2="1059.30" stroke="#1e1e1e" stroke-width="1.7" />
<line x1="1008.80" y1="1064.30" x2="1008.80" y2="1056.30" stroke="#1e1e1e" stroke-width="1.7" />
<text x="1008.8" y="1089.8" font-family="'Liberation Serif',serif" font-size="21" text-anchor="middle" stroke="#000" stroke-width="0.38" >100</text>
<text x="714.9" y="1127.0" font-family="'Liberation Serif',serif" font-size="22.3" text-anchor="middle" stroke="#000" stroke-width="0.38" >Time(s)</text>
<text x="344.6" y="843.3" font-family="'Liberation Serif',serif" font-size="22.5" text-anchor="middle" stroke="#000" stroke-width="0.38" transform="rotate(-90 344.6 843.3)">Controller Output(N)</text>
<line x1="922.10" y1="646.30" x2="968.20" y2="646.30" stroke="#202020" stroke-width="2" />
<text x="974.0" y="653.6" font-family="'Liberation Serif',serif" font-size="20.3" text-anchor="start" stroke="#000" stroke-width="0.38" >H1</text>
<line x1="922.10" y1="672.05" x2="968.20" y2="672.05" stroke="#ff2020" stroke-width="2" />
<text x="974.0" y="679.3" font-family="'Liberation Serif',serif" font-size="20.3" text-anchor="start" stroke="#000" stroke-width="0.38" >H2</text>
<line x1="922.10" y1="697.80" x2="968.20" y2="697.80" stroke="#2020ff" stroke-width="2" />
<text x="974.0" y="705.1" font-family="'Liberation Serif',serif" font-size="20.3" text-anchor="start" stroke="#000" stroke-width="0.38" >H3</text>
<line x1="922.10" y1="723.55" x2="968.20" y2="723.55" stroke="#1f8f1f" stroke-width="2" />
<text x="974.0" y="730.8" font-family="'Liberation Serif',serif" font-size="20.3" text-anchor="start" stroke="#000" stroke-width="0.38" >H4</text>
<line x1="921.90" y1="955.60" x2="969.10" y2="955.60" stroke="#ff33ff" stroke-width="2" />
<text x="974.3" y="962.9" font-family="'Liberation Serif',serif" font-size="20.3" text-anchor="start" stroke="#000" stroke-width="0.38" >V1</text>
<line x1="921.90" y1="981.10" x2="969.10" y2="981.10" stroke="#8a2a8a" stroke-width="2" />
<text x="974.3" y="988.4" font-family="'Liberation Serif',serif" font-size="20.3" text-anchor="start" stroke="#000" stroke-width="0.38" >V2</text>
<line x1="921.90" y1="1006.60" x2="969.10" y2="1006.60" stroke="#3030e0" stroke-width="2" />
<text x="974.3" y="1013.9" font-family="'Liberation Serif',serif" font-size="20.3" text-anchor="start" stroke="#000" stroke-width="0.38" >V3</text>
<line x1="921.90" y1="1032.10" x2="969.10" y2="1032.10" stroke="#e89430" stroke-width="2" />
<text x="974.3" y="1039.4" font-family="'Liberation Serif',serif" font-size="20.3" text-anchor="start" stroke="#000" stroke-width="0.38" >V4</text>
<text x="308.0" y="623.5" font-family="'Liberation Sans',sans-serif" font-size="33" text-anchor="start" >(c)</text>
<text x="715.8" y="1175.8" font-family="'Liberation Serif',serif" font-size="33" text-anchor="middle" stroke="#000" stroke-width="0.22" >Control Output</text>
<path d="M421.4,832.5 L422.1,821.0 L422.7,813.1 L423.4,808.9 L424.0,806.8 L424.7,812.7 L425.3,827.2 L426.0,837.3 L426.6,836.3 L427.3,832.4 L427.9,828.6 L428.6,827.4 L429.2,829.1 L429.9,832.3 L430.5,836.0 L431.2,839.3 L431.9,841.0 L432.5,842.2 L433.2,843.3 L433.8,844.2 L434.5,845.0 L435.1,845.5 L435.8,845.8 L436.4,845.8 L437.1,845.1 L437.7,844.0 L438.4,842.4 L439.0,840.6 L439.7,838.5 L440.3,836.5 L441.0,834.4 L441.7,832.5 L442.3,830.9 L443.0,829.5 L443.6,827.9 L444.3,826.3 L444.9,824.8 L445.6,823.3 L446.2,821.9 L446.9,820.7 L447.5,819.7 L448.2,818.9 L448.8,818.3 L449.5,817.8 L450.1,817.4 L450.8,816.5 L451.5,816.1 L452.1,820.4 L452.8,819.2 L453.4,816.3 L454.1,817.3 L454.7,817.8 L455.4,813.8 L456.0,813.9 L456.7,815.0 L457.3,815.4 L458.0,812.7 L458.6,813.2 L459.3,815.3 L460.0,813.1 L460.6,810.3 L461.3,810.5 L461.9,810.1 L462.6,811.8 L463.2,811.3 L463.9,812.9 L464.5,812.8 L465.2,812.6 L465.8,811.3 L466.5,808.6 L467.1,808.4 L467.8,806.7 L468.4,806.5 L469.1,806.9 L469.8,810.5 L470.4,811.9 L471.1,811.6 L471.7,810.0 L472.4,812.2 L473.0,811.0 L473.7,811.4 L474.3,809.5 L475.0,811.0 L475.6,813.5 L476.3,811.0 L476.9,809.6 L477.6,808.5 L478.2,811.1 L478.9,812.0 L479.6,811.8 L480.2,814.2 L480.9,818.0 L481.5,819.3 L482.2,818.7 L482.8,818.9 L483.5,818.5 L484.1,819.4 L484.8,817.5 L485.4,815.7 L486.1,815.1 L486.7,814.7 L487.4,818.6 L488.0,818.0 L488.7,819.2 L489.4,821.6 L490.0,825.4 L490.7,828.3 L491.3,829.0 L492.0,832.6 L492.6,833.2 L493.3,833.8 L493.9,831.6 L494.6,832.1 L495.2,830.6 L495.9,829.3 L496.5,831.2 L497.2,833.2 L497.8,835.9 L498.5,837.1 L499.2,841.4 L499.8,844.8 L500.5,847.5 L501.1,848.3 L501.8,850.4 L502.4,851.4 L503.1,849.4 L503.7,848.4 L504.4,848.4 L505.0,848.6 L505.7,848.7 L506.3,847.7 L507.0,850.3 L507.6,852.7 L508.3,854.9 L509.0,856.0 L509.6,859.6 L510.3,861.2 L510.9,862.8 L511.6,864.0 L512.2,865.4 L512.9,866.5 L513.5,867.7 L514.2,868.8 L514.8,869.3 L515.5,870.1 L516.1,871.6 L516.8,873.0 L517.4,874.3 L518.1,875.7 L518.8,877.2 L519.4,879.0 L520.1,879.6 L520.7,881.7 L521.4,883.4 L522.0,885.3 L522.7,887.6 L523.3,890.0 L524.0,892.3 L524.6,894.2 L525.3,896.0 L525.9,897.7 L526.6,899.2 L527.2,900.7 L527.9,902.1 L528.6,902.5 L529.2,903.4 L529.9,903.7 L530.5,903.7 L531.2,903.5 L531.8,903.0 L532.5,902.4 L533.1,901.4 L533.8,901.1 L534.4,901.3 L535.1,902.2 L535.7,904.5 L536.4,907.5 L537.1,910.8 L537.7,913.1 L538.4,915.1 L539.0,915.8 L539.7,916.3 L540.3,917.0 L541.0,917.8 L541.6,920.8 L542.3,924.2 L542.9,923.4 L543.6,921.2 L544.2,920.1 L544.9,921.3 L545.5,922.9 L546.2,925.4 L546.9,927.8 L547.5,929.4 L548.2,930.0 L548.8,929.2 L549.5,927.5 L550.1,925.5 L550.8,924.3 L551.4,923.9 L552.1,924.2 L552.7,924.6 L553.4,925.5 L554.0,926.5 L554.7,927.2 L555.3,928.0 L556.0,929.4 L556.7,930.6 L557.3,933.8 L558.0,938.3 L558.6,942.7 L559.3,945.2 L559.9,944.8 L560.6,944.3 L561.2,943.7 L561.9,943.2 L562.5,942.9 L563.2,944.9 L563.8,949.2 L564.5,954.1 L565.1,959.3 L565.8,963.9 L566.5,967.4 L567.1,968.1 L567.8,967.6 L568.4,967.1 L569.1,965.8 L569.7,965.0 L570.4,964.5 L571.0,964.6 L571.7,964.7 L572.3,964.8 L573.0,965.5 L573.6,966.1 L574.3,966.2 L574.9,966.3 L575.6,966.2 L576.3,967.0 L576.9,967.3 L577.6,967.7 L578.2,969.2 L578.9,972.1 L579.5,975.9 L580.2,979.1 L580.8,981.9 L581.5,983.8 L582.1,983.9 L582.8,983.9 L583.4,984.2 L584.1,984.6 L584.7,985.0 L585.4,985.2 L586.1,985.0 L586.7,985.2 L587.4,984.2 L588.0,983.1 L588.7,982.1 L589.3,981.2 L590.0,981.1 L590.6,982.0 L591.3,984.0 L591.9,986.2 L592.6,988.7 L593.2,990.7 L593.9,991.9 L594.5,990.9 L595.2,988.1 L595.9,984.0 L596.5,980.2 L597.2,977.4 L597.8,976.7 L598.5,976.9 L599.1,977.5 L599.8,978.1 L600.4,978.2 L601.1,978.6 L601.7,979.0 L602.4,979.8 L603.0,979.7 L603.7,980.2 L604.3,979.6 L605.0,978.3 L605.7,976.5 L606.3,974.5 L607.0,973.4 L607.6,972.8 L608.3,972.4 L608.9,971.7 L609.6,969.6 L610.2,966.2 L610.9,963.3 L611.5,961.4 L612.2,962.3 L612.8,965.4 L613.5,968.7 L614.2,970.9 L614.8,970.6 L615.5,969.5 L616.1,967.1 L616.8,964.7 L617.4,962.1 L618.1,958.7 L618.7,954.9 L619.4,951.0 L620.0,947.8 L620.7,945.5 L621.3,945.3 L622.0,946.2 L622.6,947.9 L623.3,949.8 L624.0,951.5 L624.6,951.8 L625.3,951.2 L625.9,949.9 L626.6,947.5 L627.2,944.6 L627.9,941.8 L628.5,939.3 L629.2,935.5 L629.8,931.4 L630.5,927.8 L631.1,924.7 L631.8,922.9 L632.4,922.6 L633.1,924.0 L633.8,925.5 L634.4,926.6 L635.1,927.3 L635.7,926.4 L636.4,923.5 L637.0,918.4 L637.7,914.3 L638.3,911.7 L639.0,909.7 L639.6,908.0 L640.3,906.0 L640.9,904.5 L641.6,902.6 L642.2,900.6 L642.9,899.1 L643.6,897.4 L644.2,895.6 L644.9,894.0 L645.5,892.5 L646.2,891.3 L646.8,890.0 L647.5,888.7 L648.1,887.9 L648.8,887.3 L649.4,886.6 L650.1,885.8 L650.7,884.7 L651.4,884.2 L652.0,883.4 L652.7,882.4 L653.4,881.4 L654.0,880.8 L654.7,880.3 L655.3,879.3 L656.0,877.9 L656.6,877.5 L657.3,876.9 L657.9,874.4 L658.6,872.0 L659.2,866.9 L659.9,865.2 L660.5,864.4 L661.2,862.9 L661.8,858.4 L662.5,856.4 L663.2,856.1 L663.8,855.5 L664.5,848.8 L665.1,844.1 L665.8,842.6 L666.4,839.0 L667.1,837.5 L667.7,834.5 L668.4,835.9 L669.0,835.6 L669.7,832.5 L670.3,832.4 L671.0,830.7 L671.6,829.0 L672.3,826.9 L673.0,825.1 L673.6,825.9 L674.3,824.6 L674.9,823.6 L675.6,821.7 L676.2,823.3 L676.9,824.5 L677.5,823.6 L678.2,824.6 L678.8,822.9 L679.5,825.4 L680.1,823.9 L680.8,821.4 L681.5,821.8 L682.1,822.4 L682.8,821.8 L683.4,821.5 L684.1,822.1 L684.7,822.9 L685.4,822.9 L686.0,820.3 L686.7,823.7 L687.3,825.0 L688.0,825.6 L688.6,825.8 L689.3,825.9 L689.9,827.5 L690.6,825.5 L691.3,825.9 L691.9,825.7 L692.6,826.0 L693.2,825.0 L693.9,822.8 L694.5,825.3 L695.2,822.9 L695.8,818.7 L696.5,818.4 L697.1,821.0 L697.8,821.4 L698.4,816.1 L699.1,815.3 L699.7,818.3 L700.4,816.9 L701.1,813.4 L701.7,812.2 L702.4,814.2 L703.0,811.0 L703.7,810.5 L704.3,809.0 L705.0,808.7 L705.6,808.4 L706.3,807.6 L706.9,808.2 L707.6,807.4 L708.2,807.6 L708.9,807.2 L709.5,808.2 L710.2,810.1 L710.9,810.4 L711.5,809.9 L712.2,808.7 L712.8,807.6 L713.5,805.7 L714.1,803.4 L714.8,801.4 L715.4,798.7 L716.1,798.4 L716.7,800.6 L717.4,799.3 L718.0,799.2 L718.7,799.2 L719.3,802.6 L720.0,804.8 L720.7,803.2 L721.3,805.3 L722.0,806.0 L722.6,808.9 L723.3,809.9 L723.9,810.8 L724.6,813.9 L725.2,818.9 L725.9,822.4 L726.5,825.7 L727.2,827.7 L727.8,828.7 L728.5,827.9 L729.1,826.5 L729.8,825.0 L730.5,824.3 L731.1,825.3 L731.8,825.6 L732.4,828.6 L733.1,828.4 L733.7,827.7 L734.4,829.0 L735.0,828.9 L735.7,831.8 L736.3,831.8 L737.0,834.5 L737.6,835.9 L738.3,837.5 L738.9,836.4 L739.6,833.7 L740.3,836.1 L740.9,836.5 L741.6,841.2 L742.2,842.6 L742.9,846.5 L743.5,850.2 L744.2,848.4 L744.8,847.3 L745.5,844.0 L746.1,842.8 L746.8,844.3 L747.4,843.5 L748.1,844.4 L748.7,846.9 L749.4,851.9 L750.1,853.5 L750.7,852.1 L751.4,854.9 L752.0,856.1 L752.7,857.8 L753.3,858.4 L754.0,859.9 L754.6,862.5 L755.3,861.0 L755.9,862.4 L756.6,860.7 L757.2,859.1 L757.9,858.6 L758.6,856.9 L759.2,858.6 L759.9,859.5 L760.5,857.0 L761.2,858.7 L761.8,859.9 L762.5,862.8 L763.1,863.4 L763.8,862.5 L764.4,869.4 L765.1,870.4 L765.7,872.7 L766.4,873.9 L767.0,875.6 L767.7,879.1 L768.4,879.2 L769.0,881.9 L769.7,884.4 L770.3,886.1 L771.0,888.3 L771.6,890.4 L772.3,891.1 L772.9,892.3 L773.6,894.3 L774.2,897.4 L774.9,897.3 L775.5,894.9 L776.2,896.0 L776.8,895.9 L777.5,897.2 L778.2,896.1 L778.8,899.7 L779.5,902.5 L780.1,903.6 L780.8,903.0 L781.4,902.8 L782.1,903.5 L782.7,905.9 L783.4,908.8 L784.0,909.4 L784.7,912.5 L785.3,914.5 L786.0,914.9 L786.6,914.4 L787.3,914.6 L788.0,916.4 L788.6,920.1 L789.3,919.9 L789.9,921.0 L790.6,921.4 L791.2,925.8 L791.9,928.7 L792.5,925.3 L793.2,924.9 L793.8,926.6 L794.5,927.4 L795.1,927.3 L795.8,927.4 L796.4,930.7 L797.1,932.5 L797.8,936.8 L798.4,938.7 L799.1,938.2 L799.7,940.2 L800.4,941.4 L801.0,943.5 L801.7,942.1 L802.3,944.4 L803.0,945.5 L803.6,945.4 L804.3,944.7 L804.9,944.8 L805.6,942.7 L806.2,941.9 L806.9,942.8 L807.6,944.1 L808.2,944.7 L808.9,947.3 L809.5,952.4 L810.2,955.5 L810.8,955.9 L811.5,957.5 L812.1,961.8 L812.8,962.7 L813.4,959.9 L814.1,960.2 L814.7,961.8 L815.4,961.1 L816.0,961.1 L816.7,960.5 L817.4,962.9 L818.0,961.6 L818.7,962.4 L819.3,963.7 L820.0,964.1 L820.6,966.2 L821.3,966.4 L821.9,967.0 L822.6,968.4 L823.2,969.5 L823.9,967.0 L824.5,965.9 L825.2,966.6 L825.9,968.9 L826.5,968.5 L827.2,968.3 L827.8,972.6 L828.5,975.1 L829.1,976.5 L829.8,975.3 L830.4,976.1 L831.1,978.7 L831.7,977.8 L832.4,978.1 L833.0,975.6 L833.7,975.6 L834.3,973.9 L835.0,971.4 L835.7,975.1 L836.3,974.0 L837.0,975.8 L837.6,977.4 L838.3,980.8 L838.9,982.7 L839.6,980.1 L840.2,981.3 L840.9,981.8 L841.5,983.9 L842.2,983.9 L842.8,982.6 L843.5,979.8 L844.1,978.2 L844.8,978.4 L845.5,977.5 L846.1,975.6 L846.8,975.2 L847.4,977.7 L848.1,979.7 L848.7,979.3 L849.4,977.1 L850.0,975.6 L850.7,975.3 L851.3,974.4 L852.0,972.1 L852.6,971.0 L853.3,969.4 L853.9,970.8 L854.6,968.9 L855.3,965.3 L855.9,964.7 L856.6,961.4 L857.2,961.9 L857.9,959.8 L858.5,962.5 L859.2,961.7 L859.8,957.4 L860.5,958.0 L861.1,955.4 L861.8,954.5 L862.4,950.0 L863.1,948.9 L863.7,950.4 L864.4,949.9 L865.1,950.0 L865.7,948.5 L866.4,949.1 L867.0,946.9 L867.7,944.6 L868.3,946.7 L869.0,947.1 L869.6,946.4 L870.3,945.9 L870.9,946.6 L871.6,946.4 L872.2,940.7 L872.9,935.9 L873.5,934.1 L874.2,930.4 L874.9,928.3 L875.5,927.5 L876.2,928.9 L876.8,928.2 L877.5,926.6 L878.1,927.3 L878.8,926.1 L879.4,922.6 L880.1,916.3 L880.7,914.5 L881.4,914.0 L882.0,911.9 L882.7,910.1 L883.3,911.8 L884.0,914.5 L884.7,914.3 L885.3,910.2 L886.0,908.8 L886.6,909.1 L887.3,905.3 L887.9,902.8 L888.6,899.4 L889.2,897.1 L889.9,893.6 L890.5,892.4 L891.2,890.6 L891.8,888.7 L892.5,887.9 L893.1,887.5 L893.8,888.3 L894.5,885.3 L895.1,883.8 L895.8,883.5 L896.4,878.7 L897.1,878.9 L897.7,874.8 L898.4,875.6 L899.0,874.2 L899.7,871.2 L900.3,873.7 L901.0,869.0 L901.6,868.2 L902.3,863.2 L903.0,859.8 L903.6,856.6 L904.3,852.9 L904.9,852.3 L905.6,848.3 L906.2,846.3 L906.9,843.1 L907.5,841.7 L908.2,838.4 L908.8,840.3 L909.5,840.7 L910.1,839.3 L910.8,840.1 L911.4,837.9 L912.1,837.6 L912.8,834.1 L913.4,831.2 L914.1,830.4 L914.7,829.2 L915.4,831.3 L916.0,831.0 L916.7,828.6 L917.3,829.3 L918.0,826.9 L918.6,828.6 L919.3,826.6 L919.9,826.8 L920.6,826.8 L921.2,826.5 L921.9,826.2 L922.6,823.2 L923.2,821.2 L923.9,819.0 L924.5,819.7 L925.2,817.4 L925.8,818.3 L926.5,818.0 L927.1,819.9 L927.8,819.1 L928.4,820.4 L929.1,820.6 L929.7,821.4 L930.4,821.3 L931.0,818.7 L931.7,819.3 L932.4,818.0 L933.0,818.9 L933.7,817.2 L934.3,818.3 L935.0,821.7 L935.6,824.2 L936.3,823.7 L936.9,822.4 L937.6,823.7 L938.2,821.7 L938.9,819.2 L939.5,815.8 L940.2,816.4 L940.8,818.5 L941.5,818.1 L942.2,816.9 L942.8,816.3 L943.5,817.6 L944.1,814.9 L944.8,812.6 L945.4,811.8 L946.1,813.9 L946.7,816.4 L947.4,815.4 L948.0,813.3 L948.7,814.1 L949.3,812.9 L950.0,810.5 L950.6,807.3 L951.3,809.6 L952.0,810.0 L952.6,808.1 L953.3,808.4 L953.9,809.6 L954.6,807.9 L955.2,806.4 L955.9,807.5 L956.5,806.3 L957.2,804.4 L957.8,804.9 L958.5,807.6 L959.1,807.5 L959.8,806.4 L960.4,809.8 L961.1,812.2 L961.8,812.8 L962.4,813.1 L963.1,810.9 L963.7,811.8 L964.4,809.4 L965.0,811.1 L965.7,811.1 L966.3,811.7 L967.0,813.9 L967.6,814.3 L968.3,815.8 L968.9,817.7 L969.6,816.4 L970.2,814.1 L970.9,816.0 L971.6,816.5 L972.2,814.1 L972.9,812.4 L973.5,815.2 L974.2,818.6 L974.8,818.0 L975.5,819.0 L976.1,821.5 L976.8,824.2 L977.4,824.3 L978.1,825.5 L978.7,828.8 L979.4,833.4 L980.1,834.6 L980.7,835.0 L981.4,838.1 L982.0,840.6 L982.7,842.8 L983.3,841.3 L984.0,844.7 L984.6,844.4 L985.3,841.4 L985.9,839.3 L986.6,836.8 L987.2,838.8 L987.9,841.2 L988.5,842.4 L989.2,844.0 L989.9,844.7 L990.5,844.7 L991.2,845.2 L991.8,843.1 L992.5,842.2 L993.1,845.7 L993.8,847.2 L994.4,849.6 L995.1,849.2 L995.7,850.8 L996.4,851.1 L997.0,850.5 L997.7,852.8 L998.3,852.1 L999.0,854.1 L999.7,857.2 L1000.3,860.4 L1001.0,860.0 L1001.6,858.5 L1002.3,861.3 L1002.9,862.2 L1003.6,860.8 L1004.2,864.0 L1004.9,863.8 L1005.5,867.1 L1006.2,866.0 L1006.8,869.5 L1007.5,872.3 L1008.1,871.1 L1008.8,875.6" fill="none" stroke="#1a1a1a" stroke-width="1.8" stroke-linejoin="round" stroke-linecap="round" />
<path d="M421.4,822.6 L422.1,809.3 L422.7,797.5 L423.4,788.6 L424.0,780.7 L424.7,775.4 L425.3,775.7 L426.0,783.7 L426.6,794.2 L427.3,801.6 L427.9,806.5 L428.6,810.2 L429.2,812.5 L429.9,815.4 L430.5,818.5 L431.2,819.7 L431.9,821.4 L432.5,822.0 L433.2,822.3 L433.8,823.8 L434.5,823.8 L435.1,825.1 L435.8,825.7 L436.4,826.3 L437.1,826.9 L437.7,826.7 L438.4,827.3 L439.0,827.2 L439.7,827.5 L440.3,828.6 L441.0,829.2 L441.7,829.8 L442.3,830.9 L443.0,831.6 L443.6,832.1 L444.3,833.1 L444.9,833.9 L445.6,835.5 L446.2,836.9 L446.9,839.0 L447.5,840.9 L448.2,843.7 L448.8,846.5 L449.5,849.2 L450.1,851.4 L450.8,852.7 L451.5,854.4 L452.1,855.7 L452.8,857.5 L453.4,858.2 L454.1,859.8 L454.7,860.4 L455.4,862.1 L456.0,863.3 L456.7,863.6 L457.3,865.6 L458.0,866.2 L458.6,868.0 L459.3,869.5 L460.0,870.6 L460.6,872.4 L461.3,873.1 L461.9,874.4 L462.6,874.8 L463.2,875.4 L463.9,876.7 L464.5,877.3 L465.2,878.7 L465.8,878.3 L466.5,877.8 L467.1,878.6 L467.8,879.7 L468.4,880.7 L469.1,882.3 L469.8,884.0 L470.4,884.4 L471.1,886.9 L471.7,887.5 L472.4,887.5 L473.0,889.0 L473.7,889.4 L474.3,891.6 L475.0,891.9 L475.6,892.1 L476.3,892.3 L476.9,891.5 L477.6,893.0 L478.2,893.9 L478.9,894.9 L479.6,895.8 L480.2,896.4 L480.9,896.8 L481.5,896.9 L482.2,897.4 L482.8,897.7 L483.5,898.4 L484.1,899.1 L484.8,899.3 L485.4,898.8 L486.1,898.2 L486.7,898.4 L487.4,898.7 L488.0,899.3 L488.7,899.4 L489.4,899.8 L490.0,899.8 L490.7,899.9 L491.3,900.8 L492.0,899.5 L492.6,899.4 L493.3,900.4 L493.9,900.4 L494.6,901.2 L495.2,901.6 L495.9,901.6 L496.5,901.6 L497.2,901.9 L497.8,902.8 L498.5,902.0 L499.2,902.5 L499.8,902.6 L500.5,902.7 L501.1,902.9 L501.8,902.4 L502.4,902.5 L503.1,902.3 L503.7,902.3 L504.4,902.2 L505.0,901.7 L505.7,901.2 L506.3,900.4 L507.0,900.3 L507.6,900.0 L508.3,898.9 L509.0,899.3 L509.6,898.7 L510.3,898.2 L510.9,898.9 L511.6,898.7 L512.2,898.8 L512.9,899.5 L513.5,898.8 L514.2,897.8 L514.8,896.7 L515.5,894.5 L516.1,894.0 L516.8,893.5 L517.4,893.1 L518.1,893.7 L518.8,893.9 L519.4,893.9 L520.1,893.6 L520.7,893.0 L521.4,891.9 L522.0,891.5 L522.7,891.1 L523.3,890.9 L524.0,890.6 L524.6,890.5 L525.3,890.5 L525.9,890.0 L526.6,888.9 L527.2,888.0 L527.9,887.0 L528.6,885.9 L529.2,886.1 L529.9,885.9 L530.5,886.6 L531.2,887.1 L531.8,886.3 L532.5,886.2 L533.1,885.1 L533.8,884.7 L534.4,884.6 L535.1,884.2 L535.7,883.3 L536.4,882.4 L537.1,882.5 L537.7,882.7 L538.4,882.2 L539.0,881.9 L539.7,880.9 L540.3,879.8 L541.0,879.8 L541.6,879.4 L542.3,878.6 L542.9,877.3 L543.6,875.8 L544.2,875.5 L544.9,875.3 L545.5,874.6 L546.2,873.7 L546.9,872.9 L547.5,872.2 L548.2,870.5 L548.8,870.4 L549.5,868.9 L550.1,866.7 L550.8,866.7 L551.4,865.2 L552.1,863.9 L552.7,863.3 L553.4,861.7 L554.0,860.7 L554.7,859.7 L555.3,857.7 L556.0,857.1 L556.7,855.1 L557.3,853.4 L558.0,852.3 L558.6,849.6 L559.3,848.0 L559.9,845.9 L560.6,844.7 L561.2,842.4 L561.9,840.0 L562.5,838.1 L563.2,835.1 L563.8,832.8 L564.5,830.1 L565.1,827.2 L565.8,824.5 L566.5,823.5 L567.1,821.6 L567.8,820.2 L568.4,818.9 L569.1,816.0 L569.7,814.2 L570.4,812.8 L571.0,810.2 L571.7,808.5 L572.3,806.8 L573.0,804.1 L573.6,802.0 L574.3,799.5 L574.9,797.7 L575.6,795.6 L576.3,793.9 L576.9,791.3 L577.6,788.8 L578.2,785.5 L578.9,782.2 L579.5,779.6 L580.2,777.5 L580.8,775.0 L581.5,772.7 L582.1,769.9 L582.8,766.5 L583.4,763.7 L584.1,761.1 L584.7,759.3 L585.4,757.1 L586.1,754.9 L586.7,753.4 L587.4,751.4 L588.0,749.0 L588.7,748.9 L589.3,746.8 L590.0,745.5 L590.6,745.6 L591.3,742.8 L591.9,741.2 L592.6,739.7 L593.2,737.1 L593.9,735.6 L594.5,735.0 L595.2,733.5 L595.9,732.1 L596.5,731.5 L597.2,730.0 L597.8,729.2 L598.5,728.7 L599.1,727.3 L599.8,726.0 L600.4,724.5 L601.1,722.9 L601.7,721.7 L602.4,720.8 L603.0,720.5 L603.7,720.3 L604.3,720.6 L605.0,719.7 L605.7,718.6 L606.3,718.1 L607.0,717.1 L607.6,716.9 L608.3,717.2 L608.9,716.9 L609.6,716.8 L610.2,716.9 L610.9,715.7 L611.5,715.5 L612.2,714.5 L612.8,714.3 L613.5,714.9 L614.2,714.4 L614.8,715.7 L615.5,716.3 L616.1,716.7 L616.8,716.8 L617.4,717.3 L618.1,718.1 L618.7,719.5 L619.4,721.7 L620.0,722.1 L620.7,722.3 L621.3,722.0 L622.0,722.9 L622.6,724.2 L623.3,726.1 L624.0,727.3 L624.6,727.0 L625.3,726.9 L625.9,727.0 L626.6,727.6 L627.2,729.7 L627.9,732.2 L628.5,733.1 L629.2,734.6 L629.8,734.5 L630.5,734.3 L631.1,734.7 L631.8,735.0 L632.4,736.2 L633.1,736.7 L633.8,737.4 L634.4,738.3 L635.1,738.3 L635.7,739.7 L636.4,741.7 L637.0,742.7 L637.7,744.3 L638.3,744.6 L639.0,745.3 L639.6,746.3 L640.3,748.0 L640.9,749.0 L641.6,750.3 L642.2,751.4 L642.9,751.9 L643.6,752.9 L644.2,754.6 L644.9,756.0 L645.5,756.8 L646.2,759.8 L646.8,760.6 L647.5,762.0 L648.1,764.0 L648.8,765.0 L649.4,766.0 L650.1,767.9 L650.7,769.0 L651.4,770.1 L652.0,772.5 L652.7,773.0 L653.4,775.0 L654.0,776.4 L654.7,777.1 L655.3,779.4 L656.0,781.3 L656.6,782.9 L657.3,784.3 L657.9,785.5 L658.6,787.2 L659.2,788.2 L659.9,790.7 L660.5,792.7 L661.2,794.3 L661.8,796.7 L662.5,797.9 L663.2,799.1 L663.8,801.0 L664.5,802.9 L665.1,804.4 L665.8,805.9 L666.4,807.5 L667.1,808.4 L667.7,810.3 L668.4,812.1 L669.0,813.1 L669.7,814.9 L670.3,816.5 L671.0,818.1 L671.6,819.9 L672.3,821.4 L673.0,822.9 L673.6,824.6 L674.3,825.9 L674.9,827.1 L675.6,828.3 L676.2,829.4 L676.9,830.7 L677.5,831.9 L678.2,832.5 L678.8,833.4 L679.5,834.0 L680.1,835.5 L680.8,837.2 L681.5,838.3 L682.1,838.6 L682.8,838.8 L683.4,839.1 L684.1,839.8 L684.7,841.2 L685.4,842.0 L686.0,843.0 L686.7,844.1 L687.3,845.0 L688.0,846.0 L688.6,847.4 L689.3,848.5 L689.9,849.3 L690.6,850.2 L691.3,850.4 L691.9,850.4 L692.6,850.9 L693.2,851.1 L693.9,852.3 L694.5,853.0 L695.2,853.4 L695.8,854.1 L696.5,854.8 L697.1,855.7 L697.8,856.9 L698.4,858.4 L699.1,859.2 L699.7,860.3 L700.4,860.8 L701.1,861.6 L701.7,862.1 L702.4,863.0 L703.0,864.0 L703.7,864.9 L704.3,866.7 L705.0,868.7 L705.6,870.4 L706.3,871.9 L706.9,872.7 L707.6,872.4 L708.2,873.2 L708.9,874.0 L709.5,874.5 L710.2,875.6 L710.9,877.0 L711.5,878.3 L712.2,880.4 L712.8,881.7 L713.5,882.2 L714.1,883.5 L714.8,884.1 L715.4,885.6 L716.1,886.9 L716.7,887.5 L717.4,887.7 L718.0,888.7 L718.7,888.6 L719.3,888.5 L720.0,889.7 L720.7,890.1 L721.3,891.9 L722.0,892.7 L722.6,892.8 L723.3,892.8 L723.9,892.8 L724.6,893.2 L725.2,893.5 L725.9,893.8 L726.5,893.4 L727.2,893.1 L727.8,893.2 L728.5,893.0 L729.1,893.8 L729.8,894.2 L730.5,895.0 L731.1,895.3 L731.8,895.0 L732.4,895.4 L733.1,895.0 L733.7,895.2 L734.4,895.4 L735.0,894.9 L735.7,895.3 L736.3,896.2 L737.0,896.2 L737.6,896.9 L738.3,896.6 L738.9,896.2 L739.6,895.9 L740.3,895.4 L740.9,895.6 L741.6,895.0 L742.2,895.3 L742.9,895.8 L743.5,895.7 L744.2,896.4 L744.8,896.2 L745.5,896.9 L746.1,896.9 L746.8,896.7 L747.4,897.6 L748.1,897.7 L748.7,898.1 L749.4,898.0 L750.1,897.7 L750.7,897.6 L751.4,897.7 L752.0,897.9 L752.7,897.9 L753.3,897.8 L754.0,897.7 L754.6,898.0 L755.3,898.1 L755.9,897.6 L756.6,897.0 L757.2,897.3 L757.9,896.5 L758.6,896.6 L759.2,895.4 L759.9,894.5 L760.5,894.2 L761.2,893.8 L761.8,894.5 L762.5,894.0 L763.1,893.7 L763.8,892.9 L764.4,891.6 L765.1,890.9 L765.7,890.1 L766.4,890.5 L767.0,890.1 L767.7,890.8 L768.4,890.6 L769.0,889.1 L769.7,889.3 L770.3,888.4 L771.0,887.2 L771.6,886.8 L772.3,886.4 L772.9,884.8 L773.6,884.3 L774.2,884.6 L774.9,884.0 L775.5,885.1 L776.2,886.1 L776.8,885.2 L777.5,884.3 L778.2,882.7 L778.8,880.5 L779.5,879.8 L780.1,880.7 L780.8,880.7 L781.4,880.7 L782.1,880.0 L782.7,878.7 L783.4,877.3 L784.0,877.0 L784.7,876.4 L785.3,876.4 L786.0,876.1 L786.6,876.4 L787.3,876.5 L788.0,874.4 L788.6,873.7 L789.3,872.1 L789.9,870.3 L790.6,870.1 L791.2,869.6 L791.9,868.9 L792.5,868.3 L793.2,867.2 L793.8,865.8 L794.5,864.0 L795.1,863.1 L795.8,861.7 L796.4,860.9 L797.1,860.7 L797.8,859.1 L798.4,857.7 L799.1,855.7 L799.7,854.0 L800.4,851.9 L801.0,849.4 L801.7,847.7 L802.3,845.1 L803.0,842.9 L803.6,841.7 L804.3,840.0 L804.9,838.2 L805.6,836.6 L806.2,835.4 L806.9,834.1 L807.6,833.1 L808.2,831.2 L808.9,828.7 L809.5,826.1 L810.2,824.8 L810.8,824.1 L811.5,823.4 L812.1,822.3 L812.8,819.8 L813.4,817.9 L814.1,815.5 L814.7,813.5 L815.4,812.1 L816.0,810.1 L816.7,808.3 L817.4,805.7 L818.0,803.3 L818.7,800.2 L819.3,798.1 L820.0,795.6 L820.6,793.0 L821.3,790.8 L821.9,787.4 L822.6,785.2 L823.2,782.3 L823.9,779.6 L824.5,777.1 L825.2,774.2 L825.9,772.3 L826.5,770.4 L827.2,769.1 L827.8,768.0 L828.5,766.2 L829.1,765.3 L829.8,763.8 L830.4,761.8 L831.1,760.7 L831.7,758.1 L832.4,755.7 L833.0,754.8 L833.7,752.7 L834.3,752.0 L835.0,751.0 L835.7,749.3 L836.3,748.3 L837.0,746.8 L837.6,745.7 L838.3,745.1 L838.9,743.4 L839.6,741.9 L840.2,740.5 L840.9,738.1 L841.5,737.1 L842.2,735.3 L842.8,734.0 L843.5,732.5 L844.1,730.6 L844.8,729.3 L845.5,728.4 L846.1,727.6 L846.8,726.3 L847.4,726.8 L848.1,725.8 L848.7,725.4 L849.4,725.5 L850.0,723.8 L850.7,723.0 L851.3,721.6 L852.0,720.6 L852.6,720.8 L853.3,719.9 L853.9,719.7 L854.6,719.0 L855.3,717.6 L855.9,717.3 L856.6,717.1 L857.2,716.7 L857.9,715.9 L858.5,715.4 L859.2,714.7 L859.8,715.2 L860.5,714.7 L861.1,714.4 L861.8,714.9 L862.4,714.5 L863.1,715.2 L863.7,715.3 L864.4,715.2 L865.1,715.9 L865.7,717.6 L866.4,719.0 L867.0,719.7 L867.7,720.1 L868.3,720.2 L869.0,720.5 L869.6,721.2 L870.3,722.8 L870.9,724.1 L871.6,725.5 L872.2,726.2 L872.9,726.5 L873.5,726.9 L874.2,727.7 L874.9,729.3 L875.5,730.5 L876.2,732.1 L876.8,733.5 L877.5,734.6 L878.1,736.1 L878.8,737.3 L879.4,737.8 L880.1,738.9 L880.7,740.5 L881.4,741.9 L882.0,743.9 L882.7,746.0 L883.3,747.1 L884.0,748.6 L884.7,750.3 L885.3,751.3 L886.0,753.2 L886.6,754.9 L887.3,755.7 L887.9,757.2 L888.6,758.5 L889.2,759.3 L889.9,761.4 L890.5,762.8 L891.2,764.1 L891.8,765.8 L892.5,767.2 L893.1,768.5 L893.8,769.1 L894.5,770.1 L895.1,771.1 L895.8,772.7 L896.4,775.6 L897.1,776.7 L897.7,778.8 L898.4,779.9 L899.0,780.5 L899.7,782.7 L900.3,784.2 L901.0,787.4 L901.6,790.1 L902.3,792.5 L903.0,794.3 L903.6,794.2 L904.3,794.9 L904.9,795.9 L905.6,796.5 L906.2,798.5 L906.9,800.6 L907.5,802.6 L908.2,805.0 L908.8,807.0 L909.5,808.1 L910.1,809.0 L910.8,810.6 L911.4,811.7 L912.1,813.8 L912.8,815.3 L913.4,817.1 L914.1,818.7 L914.7,819.9 L915.4,822.4 L916.0,824.0 L916.7,826.0 L917.3,827.4 L918.0,827.9 L918.6,827.7 L919.3,827.8 L919.9,828.9 L920.6,829.6 L921.2,830.2 L921.9,831.3 L922.6,831.9 L923.2,833.3 L923.9,835.1 L924.5,835.5 L925.2,836.7 L925.8,836.9 L926.5,837.2 L927.1,838.6 L927.8,837.7 L928.4,838.9 L929.1,840.4 L929.7,840.7 L930.4,843.0 L931.0,843.5 L931.7,843.8 L932.4,844.8 L933.0,844.5 L933.7,845.3 L934.3,845.6 L935.0,846.5 L935.6,847.5 L936.3,848.6 L936.9,849.6 L937.6,850.0 L938.2,850.1 L938.9,850.0 L939.5,850.2 L940.2,850.7 L940.8,852.2 L941.5,852.8 L942.2,853.3 L942.8,853.3 L943.5,853.5 L944.1,855.1 L944.8,856.0 L945.4,857.0 L946.1,858.2 L946.7,858.2 L947.4,858.9 L948.0,860.3 L948.7,860.3 L949.3,861.0 L950.0,861.6 L950.6,863.1 L951.3,864.1 L952.0,865.0 L952.6,866.1 L953.3,866.5 L953.9,867.2 L954.6,868.4 L955.2,868.9 L955.9,869.8 L956.5,870.6 L957.2,871.3 L957.8,872.5 L958.5,873.1 L959.1,874.3 L959.8,874.7 L960.4,876.2 L961.1,876.1 L961.8,876.7 L962.4,877.5 L963.1,877.6 L963.7,879.6 L964.4,881.0 L965.0,882.0 L965.7,882.9 L966.3,882.9 L967.0,882.7 L967.6,882.9 L968.3,883.3 L968.9,884.5 L969.6,885.4 L970.2,885.9 L970.9,886.8 L971.6,886.4 L972.2,886.8 L972.9,887.8 L973.5,888.0 L974.2,889.0 L974.8,889.3 L975.5,890.3 L976.1,890.4 L976.8,891.2 L977.4,891.2 L978.1,891.0 L978.7,892.6 L979.4,891.8 L980.1,893.4 L980.7,894.3 L981.4,894.2 L982.0,894.9 L982.7,894.6 L983.3,893.8 L984.0,893.7 L984.6,893.6 L985.3,893.4 L985.9,893.3 L986.6,892.8 L987.2,893.8 L987.9,893.8 L988.5,894.2 L989.2,894.7 L989.9,894.5 L990.5,894.8 L991.2,894.8 L991.8,895.8 L992.5,895.5 L993.1,895.5 L993.8,895.7 L994.4,894.7 L995.1,895.1 L995.7,895.5 L996.4,895.7 L997.0,896.4 L997.7,896.4 L998.3,895.9 L999.0,895.2 L999.7,894.6 L1000.3,894.6 L1001.0,895.2 L1001.6,895.0 L1002.3,894.3 L1002.9,893.5 L1003.6,893.0 L1004.2,892.8 L1004.9,892.7 L1005.5,892.4 L1006.2,891.4 L1006.8,890.8 L1007.5,891.2 L1008.1,891.1 L1008.8,890.8" fill="none" stroke="#ff1c1c" stroke-width="1.8" stroke-linejoin="round" stroke-linecap="round" />
<path d="M421.4,832.5 L422.1,820.3 L422.7,810.8 L423.4,805.5 L424.0,801.9 L424.7,799.8 L425.3,800.2 L426.0,804.1 L426.6,809.6 L427.3,814.0 L427.9,817.1 L428.6,820.1 L429.2,822.6 L429.9,824.0 L430.5,824.1 L431.2,823.1 L431.9,821.4 L432.5,819.3 L433.2,817.0 L433.8,812.9 L434.5,807.9 L435.1,805.7 L435.8,807.3 L436.4,811.2 L437.1,816.2 L437.7,821.4 L438.4,826.5 L439.0,832.6 L439.7,838.9 L440.3,844.7 L441.0,849.4 L441.7,853.9 L442.3,858.0 L443.0,860.6 L443.6,860.9 L444.3,860.2 L444.9,858.9 L445.6,857.2 L446.2,855.3 L446.9,853.4 L447.5,851.6 L448.2,850.2 L448.8,849.4 L449.5,849.2 L450.1,849.2 L450.8,847.8 L451.5,843.5 L452.1,842.9 L452.8,842.8 L453.4,843.8 L454.1,845.4 L454.7,842.6 L455.4,847.0 L456.0,847.5 L456.7,847.9 L457.3,848.2 L458.0,850.9 L458.6,852.7 L459.3,850.8 L460.0,850.5 L460.6,851.1 L461.3,850.3 L461.9,848.0 L462.6,848.2 L463.2,848.1 L463.9,848.8 L464.5,847.3 L465.2,846.8 L465.8,848.9 L466.5,849.7 L467.1,851.8 L467.8,851.4 L468.4,852.6 L469.1,853.4 L469.8,852.7 L470.4,853.3 L471.1,851.7 L471.7,853.4 L472.4,853.2 L473.0,856.2 L473.7,857.5 L474.3,855.9 L475.0,856.9 L475.6,855.1 L476.3,856.4 L476.9,855.4 L477.6,855.5 L478.2,856.4 L478.9,856.7 L479.6,854.8 L480.2,851.0 L480.9,847.7 L481.5,847.1 L482.2,846.6 L482.8,846.3 L483.5,848.7 L484.1,851.1 L484.8,851.7 L485.4,850.4 L486.1,849.9 L486.7,850.8 L487.4,849.8 L488.0,847.4 L488.7,845.5 L489.4,845.7 L490.0,844.1 L490.7,840.5 L491.3,840.3 L492.0,839.9 L492.6,838.8 L493.3,836.0 L493.9,832.9 L494.6,832.5 L495.2,829.3 L495.9,827.6 L496.5,826.3 L497.2,825.6 L497.8,825.8 L498.5,823.4 L499.2,819.4 L499.8,817.0 L500.5,816.3 L501.1,812.5 L501.8,813.0 L502.4,811.6 L503.1,811.1 L503.7,813.6 L504.4,810.6 L505.0,809.9 L505.7,807.7 L506.3,805.1 L507.0,806.9 L507.6,801.4 L508.3,801.0 L509.0,798.7 L509.6,798.1 L510.3,796.6 L510.9,794.7 L511.6,793.8 L512.2,792.4 L512.9,791.7 L513.5,790.1 L514.2,789.0 L514.8,788.4 L515.5,787.1 L516.1,786.6 L516.8,785.5 L517.4,785.0 L518.1,784.9 L518.8,784.1 L519.4,783.7 L520.1,783.0 L520.7,782.7 L521.4,782.0 L522.0,780.6 L522.7,779.7 L523.3,778.3 L524.0,776.9 L524.6,774.9 L525.3,773.2 L525.9,771.5 L526.6,769.9 L527.2,768.2 L527.9,766.5 L528.6,764.4 L529.2,762.7 L529.9,761.5 L530.5,760.0 L531.2,759.1 L531.8,758.4 L532.5,758.1 L533.1,757.3 L533.8,756.4 L534.4,755.4 L535.1,754.7 L535.7,753.4 L536.4,751.9 L537.1,751.1 L537.7,750.0 L538.4,749.0 L539.0,747.6 L539.7,745.9 L540.3,744.3 L541.0,742.5 L541.6,740.9 L542.3,740.1 L542.9,739.1 L543.6,738.8 L544.2,738.3 L544.9,737.9 L545.5,737.6 L546.2,737.1 L546.9,736.9 L547.5,736.4 L548.2,735.8 L548.8,735.4 L549.5,735.2 L550.1,734.9 L550.8,734.9 L551.4,734.5 L552.1,734.7 L552.7,734.7 L553.4,734.2 L554.0,734.3 L554.7,733.9 L555.3,733.6 L556.0,733.3 L556.7,732.3 L557.3,728.8 L558.0,723.6 L558.6,720.0 L559.3,718.4 L559.9,716.7 L560.6,715.9 L561.2,714.7 L561.9,713.8 L562.5,713.6 L563.2,712.6 L563.8,711.9 L564.5,710.2 L565.1,708.6 L565.8,705.0 L566.5,700.4 L567.1,697.6 L567.8,696.3 L568.4,696.6 L569.1,697.1 L569.7,697.3 L570.4,698.1 L571.0,698.6 L571.7,699.1 L572.3,699.4 L573.0,699.1 L573.6,699.6 L574.3,699.0 L574.9,699.0 L575.6,698.2 L576.3,697.8 L576.9,696.6 L577.6,695.2 L578.2,694.1 L578.9,692.5 L579.5,690.2 L580.2,686.4 L580.8,682.9 L581.5,680.7 L582.1,680.2 L582.8,680.4 L583.4,680.8 L584.1,681.0 L584.7,681.8 L585.4,682.5 L586.1,683.0 L586.7,683.0 L587.4,683.3 L588.0,683.6 L588.7,683.2 L589.3,683.4 L590.0,683.4 L590.6,683.3 L591.3,681.4 L591.9,679.0 L592.6,676.7 L593.2,674.1 L593.9,672.9 L594.5,672.3 L595.2,674.5 L595.9,677.9 L596.5,682.4 L597.2,685.8 L597.8,687.5 L598.5,687.6 L599.1,687.0 L599.8,687.1 L600.4,686.7 L601.1,686.4 L601.7,685.9 L602.4,685.0 L603.0,684.7 L603.7,684.4 L604.3,684.3 L605.0,685.5 L605.7,687.7 L606.3,690.1 L607.0,692.5 L607.6,694.0 L608.3,696.0 L608.9,697.9 L609.6,699.2 L610.2,700.7 L610.9,701.4 L611.5,702.6 L612.2,702.8 L612.8,700.4 L613.5,695.9 L614.2,694.0 L614.8,695.2 L615.5,696.9 L616.1,700.1 L616.8,703.6 L617.4,707.0 L618.1,710.9 L618.7,713.7 L619.4,715.9 L620.0,716.8 L620.7,717.1 L621.3,719.8 L622.0,716.5 L622.6,716.9 L623.3,718.3 L624.0,719.2 L624.6,722.1 L625.3,721.6 L625.9,722.0 L626.6,723.4 L627.2,724.2 L627.9,722.4 L628.5,722.4 L629.2,723.3 L629.8,722.8 L630.5,723.0 L631.1,723.6 L631.8,727.8 L632.4,726.9 L633.1,731.1 L633.8,735.1 L634.4,736.8 L635.1,738.0 L635.7,738.5 L636.4,746.1 L637.0,748.0 L637.7,749.3 L638.3,754.0 L639.0,753.8 L639.6,757.6 L640.3,758.3 L640.9,758.9 L641.6,759.9 L642.2,757.6 L642.9,760.9 L643.6,762.0 L644.2,761.5 L644.9,761.6 L645.5,763.5 L646.2,764.7 L646.8,766.7 L647.5,769.0 L648.1,769.8 L648.8,770.8 L649.4,774.0 L650.1,777.0 L650.7,779.4 L651.4,779.5 L652.0,781.9 L652.7,784.8 L653.4,783.2 L654.0,784.4 L654.7,784.2 L655.3,784.9 L656.0,784.8 L656.6,785.4 L657.3,786.5 L657.9,786.9 L658.6,786.2 L659.2,789.5 L659.9,790.7 L660.5,793.5 L661.2,794.4 L661.8,795.9 L662.5,798.4 L663.2,798.3 L663.8,803.4 L664.5,804.1 L665.1,808.7 L665.8,811.0 L666.4,813.7 L667.1,814.6 L667.7,814.9 L668.4,818.0 L669.0,818.2 L669.7,820.7 L670.3,820.4 L671.0,822.0 L671.6,822.4 L672.3,823.6 L673.0,825.5 L673.6,828.9 L674.3,829.2 L674.9,827.8 L675.6,828.4 L676.2,826.5 L676.9,826.6 L677.5,825.5 L678.2,831.2 L678.8,834.6 L679.5,837.0 L680.1,837.5 L680.8,838.2 L681.5,838.9 L682.1,837.0 L682.8,838.1 L683.4,838.6 L684.1,841.3 L684.7,843.7 L685.4,844.4 L686.0,846.6 L686.7,847.3 L687.3,847.6 L688.0,847.2 L688.6,845.6 L689.3,845.9 L689.9,844.9 L690.6,846.5 L691.3,845.5 L691.9,848.3 L692.6,848.3 L693.2,847.8 L693.9,847.1 L694.5,845.6 L695.2,845.8 L695.8,845.4 L696.5,845.7 L697.1,847.8 L697.8,848.7 L698.4,847.4 L699.1,849.9 L699.7,849.7 L700.4,849.0 L701.1,848.1 L701.7,847.3 L702.4,850.2 L703.0,850.2 L703.7,848.0 L704.3,847.9 L705.0,849.8 L705.6,852.0 L706.3,850.3 L706.9,851.1 L707.6,855.5 L708.2,859.2 L708.9,858.3 L709.5,857.3 L710.2,859.0 L710.9,859.0 L711.5,857.1 L712.2,859.3 L712.8,860.7 L713.5,864.4 L714.1,865.5 L714.8,863.7 L715.4,865.5 L716.1,862.0 L716.7,861.0 L717.4,859.3 L718.0,859.3 L718.7,860.0 L719.3,856.3 L720.0,853.8 L720.7,853.9 L721.3,851.7 L722.0,850.5 L722.6,848.2 L723.3,847.6 L723.9,851.6 L724.6,850.6 L725.2,852.3 L725.9,851.5 L726.5,852.3 L727.2,852.6 L727.8,848.7 L728.5,847.2 L729.1,844.5 L729.8,842.0 L730.5,842.2 L731.1,841.9 L731.8,843.9 L732.4,844.7 L733.1,843.7 L733.7,843.6 L734.4,841.0 L735.0,837.4 L735.7,833.9 L736.3,831.3 L737.0,830.4 L737.6,827.7 L738.3,828.4 L738.9,831.5 L739.6,829.9 L740.3,830.7 L740.9,829.3 L741.6,831.2 L742.2,829.8 L742.9,826.5 L743.5,829.8 L744.2,828.6 L744.8,827.9 L745.5,824.0 L746.1,820.0 L746.8,817.7 L747.4,814.0 L748.1,811.8 L748.7,809.2 L749.4,809.3 L750.1,810.0 L750.7,810.4 L751.4,808.8 L752.0,808.3 L752.7,810.9 L753.3,811.6 L754.0,810.5 L754.6,809.8 L755.3,808.7 L755.9,806.6 L756.6,803.9 L757.2,805.0 L757.9,804.1 L758.6,802.8 L759.2,800.6 L759.9,797.7 L760.5,796.3 L761.2,791.1 L761.8,790.2 L762.5,787.8 L763.1,786.6 L763.8,787.9 L764.4,784.3 L765.1,782.1 L765.7,777.3 L766.4,776.8 L767.0,774.9 L767.7,774.6 L768.4,776.7 L769.0,775.8 L769.7,778.0 L770.3,776.4 L771.0,776.1 L771.6,774.0 L772.3,770.3 L772.9,768.4 L773.6,764.2 L774.2,764.2 L774.9,763.4 L775.5,762.2 L776.2,763.6 L776.8,763.1 L777.5,762.4 L778.2,760.9 L778.8,760.1 L779.5,759.2 L780.1,758.8 L780.8,760.5 L781.4,761.3 L782.1,759.1 L782.7,757.7 L783.4,756.1 L784.0,756.2 L784.7,754.6 L785.3,754.3 L786.0,755.3 L786.6,753.8 L787.3,750.8 L788.0,747.2 L788.6,744.8 L789.3,744.2 L789.9,741.0 L790.6,739.7 L791.2,742.0 L791.9,741.2 L792.5,741.9 L793.2,739.0 L793.8,736.8 L794.5,735.6 L795.1,734.3 L795.8,732.8 L796.4,731.9 L797.1,730.0 L797.8,731.1 L798.4,730.3 L799.1,727.9 L799.7,724.7 L800.4,722.9 L801.0,721.6 L801.7,719.4 L802.3,719.2 L803.0,718.6 L803.6,717.7 L804.3,715.5 L804.9,715.9 L805.6,715.6 L806.2,712.5 L806.9,710.5 L807.6,710.5 L808.2,708.8 L808.9,706.3 L809.5,704.6 L810.2,707.3 L810.8,703.6 L811.5,702.2 L812.1,702.5 L812.8,704.4 L813.4,702.6 L814.1,699.5 L814.7,701.7 L815.4,705.3 L816.0,703.6 L816.7,702.4 L817.4,700.8 L818.0,700.2 L818.7,700.2 L819.3,695.8 L820.0,694.4 L820.6,692.9 L821.3,694.4 L821.9,692.6 L822.6,692.7 L823.2,694.0 L823.9,693.5 L824.5,692.6 L825.2,692.3 L825.9,695.4 L826.5,694.6 L827.2,696.7 L827.8,693.8 L828.5,693.3 L829.1,691.7 L829.8,688.4 L830.4,687.9 L831.1,682.4 L831.7,686.3 L832.4,686.8 L833.0,689.6 L833.7,691.1 L834.3,687.8 L835.0,687.4 L835.7,687.8 L836.3,686.5 L837.0,684.7 L837.6,682.3 L838.3,681.0 L838.9,681.8 L839.6,679.7 L840.2,679.5 L840.9,679.3 L841.5,677.9 L842.2,681.5 L842.8,682.3 L843.5,683.3 L844.1,683.8 L844.8,679.8 L845.5,682.1 L846.1,681.3 L846.8,679.3 L847.4,679.4 L848.1,680.6 L848.7,684.8 L849.4,686.9 L850.0,687.5 L850.7,689.2 L851.3,689.1 L852.0,691.1 L852.6,689.4 L853.3,690.8 L853.9,693.4 L854.6,697.0 L855.3,700.8 L855.9,701.4 L856.6,707.4 L857.2,705.7 L857.9,705.8 L858.5,703.9 L859.2,703.4 L859.8,704.2 L860.5,703.2 L861.1,704.4 L861.8,705.7 L862.4,707.8 L863.1,707.6 L863.7,709.8 L864.4,711.9 L865.1,713.4 L865.7,713.7 L866.4,714.7 L867.0,715.8 L867.7,715.4 L868.3,713.8 L869.0,713.9 L869.6,715.3 L870.3,716.0 L870.9,716.5 L871.6,717.6 L872.2,720.9 L872.9,724.0 L873.5,727.2 L874.2,728.3 L874.9,729.5 L875.5,730.6 L876.2,734.2 L876.8,734.2 L877.5,733.1 L878.1,737.7 L878.8,741.4 L879.4,744.0 L880.1,742.3 L880.7,743.7 L881.4,743.8 L882.0,742.3 L882.7,741.1 L883.3,742.5 L884.0,744.8 L884.7,747.2 L885.3,750.5 L886.0,754.0 L886.6,758.4 L887.3,758.3 L887.9,760.7 L888.6,763.8 L889.2,766.9 L889.9,765.2 L890.5,766.4 L891.2,770.1 L891.8,770.0 L892.5,770.5 L893.1,769.1 L893.8,773.5 L894.5,775.3 L895.1,776.4 L895.8,778.7 L896.4,782.5 L897.1,784.2 L897.7,781.9 L898.4,783.0 L899.0,783.7 L899.7,787.4 L900.3,785.4 L901.0,790.6 L901.6,795.5 L902.3,796.6 L903.0,800.2 L903.6,802.3 L904.3,805.4 L904.9,805.3 L905.6,807.7 L906.2,809.8 L906.9,809.5 L907.5,810.0 L908.2,812.2 L908.8,812.2 L909.5,813.2 L910.1,815.5 L910.8,818.1 L911.4,819.0 L912.1,820.4 L912.8,823.3 L913.4,824.4 L914.1,823.6 L914.7,824.7 L915.4,825.7 L916.0,826.4 L916.7,826.2 L917.3,826.7 L918.0,829.4 L918.6,829.8 L919.3,830.4 L919.9,830.4 L920.6,833.5 L921.2,833.6 L921.9,834.0 L922.6,835.2 L923.2,836.8 L923.9,836.7 L924.5,835.8 L925.2,839.5 L925.8,842.2 L926.5,841.3 L927.1,841.6 L927.8,841.8 L928.4,840.7 L929.1,839.5 L929.7,839.9 L930.4,838.8 L931.0,840.7 L931.7,843.8 L932.4,845.7 L933.0,846.3 L933.7,848.4 L934.3,852.2 L935.0,850.3 L935.6,848.5 L936.3,848.4 L936.9,848.1 L937.6,846.2 L938.2,847.5 L938.9,845.6 L939.5,846.8 L940.2,846.8 L940.8,848.3 L941.5,848.4 L942.2,845.4 L942.8,849.1 L943.5,851.0 L944.1,852.1 L944.8,853.7 L945.4,854.8 L946.1,857.0 L946.7,855.6 L947.4,851.0 L948.0,852.0 L948.7,850.1 L949.3,849.3 L950.0,849.9 L950.6,852.4 L951.3,856.2 L952.0,854.9 L952.6,855.6 L953.3,852.5 L953.9,851.9 L954.6,851.0 L955.2,851.6 L955.9,854.9 L956.5,854.1 L957.2,858.0 L957.8,859.2 L958.5,857.6 L959.1,856.3 L959.8,854.2 L960.4,857.4 L961.1,856.6 L961.8,856.2 L962.4,856.5 L963.1,858.3 L963.7,858.6 L964.4,858.7 L965.0,860.9 L965.7,860.5 L966.3,859.4 L967.0,858.3 L967.6,859.5 L968.3,855.4 L968.9,854.5 L969.6,852.0 L970.2,850.8 L970.9,849.0 L971.6,847.1 L972.2,849.4 L972.9,844.3 L973.5,844.6 L974.2,845.0 L974.8,844.8 L975.5,844.1 L976.1,840.6 L976.8,842.0 L977.4,841.9 L978.1,843.6 L978.7,843.5 L979.4,839.8 L980.1,840.4 L980.7,841.1 L981.4,839.3 L982.0,836.5 L982.7,833.9 L983.3,837.7 L984.0,836.0 L984.6,834.0 L985.3,832.1 L985.9,832.1 L986.6,831.1 L987.2,827.2 L987.9,825.8 L988.5,823.0 L989.2,823.5 L989.9,822.3 L990.5,822.5 L991.2,821.9 L991.8,819.1 L992.5,819.4 L993.1,818.1 L993.8,815.9 L994.4,814.4 L995.1,811.1 L995.7,813.3 L996.4,808.5 L997.0,804.6 L997.7,805.4 L998.3,805.5 L999.0,806.1 L999.7,801.3 L1000.3,800.7 L1001.0,802.6 L1001.6,800.8 L1002.3,797.1 L1002.9,796.1 L1003.6,797.9 L1004.2,802.8 L1004.9,803.1 L1005.5,802.8 L1006.2,803.8 L1006.8,801.9 L1007.5,800.6 L1008.1,795.5 L1008.8,792.2" fill="none" stroke="#1c1cff" stroke-width="1.8" stroke-linejoin="round" stroke-linecap="round" />
<path d="M421.4,832.7 L422.1,852.7 L422.7,868.6 L423.4,879.2 L424.0,882.8 L424.7,879.0 L425.3,867.1 L426.0,851.8 L426.6,838.6 L427.3,831.4 L427.9,828.0 L428.6,825.0 L429.2,822.2 L429.9,819.7 L430.5,817.9 L431.2,816.2 L431.9,815.2 L432.5,813.9 L433.2,813.5 L433.8,812.3 L434.5,811.0 L435.1,810.4 L435.8,809.1 L436.4,809.2 L437.1,809.2 L437.7,808.7 L438.4,808.8 L439.0,807.1 L439.7,806.9 L440.3,807.7 L441.0,807.1 L441.7,808.8 L442.3,808.8 L443.0,807.0 L443.6,807.5 L444.3,807.4 L444.9,806.8 L445.6,807.8 L446.2,807.6 L446.9,808.1 L447.5,809.0 L448.2,808.9 L448.8,809.3 L449.5,810.4 L450.1,810.7 L450.8,811.3 L451.5,811.4 L452.1,810.3 L452.8,809.8 L453.4,808.4 L454.1,807.4 L454.7,806.3 L455.4,805.8 L456.0,805.4 L456.7,805.4 L457.3,803.5 L458.0,801.4 L458.6,800.1 L459.3,798.2 L460.0,797.7 L460.6,797.4 L461.3,796.3 L461.9,795.5 L462.6,795.7 L463.2,793.7 L463.9,792.6 L464.5,791.5 L465.2,789.1 L465.8,788.6 L466.5,787.1 L467.1,786.0 L467.8,785.4 L468.4,783.0 L469.1,781.9 L469.8,780.5 L470.4,778.7 L471.1,778.2 L471.7,776.8 L472.4,775.5 L473.0,774.2 L473.7,773.8 L474.3,773.8 L475.0,773.3 L475.6,773.1 L476.3,772.3 L476.9,771.8 L477.6,771.5 L478.2,770.8 L478.9,769.9 L479.6,769.6 L480.2,768.7 L480.9,768.4 L481.5,768.1 L482.2,766.9 L482.8,766.7 L483.5,765.9 L484.1,765.9 L484.8,766.3 L485.4,766.0 L486.1,766.2 L486.7,766.2 L487.4,765.4 L488.0,765.2 L488.7,765.6 L489.4,765.1 L490.0,764.7 L490.7,764.3 L491.3,764.1 L492.0,763.5 L492.6,763.7 L493.3,763.1 L493.9,762.5 L494.6,762.4 L495.2,762.9 L495.9,763.2 L496.5,763.0 L497.2,763.3 L497.8,762.8 L498.5,763.2 L499.2,763.3 L499.8,762.8 L500.5,762.7 L501.1,762.8 L501.8,761.3 L502.4,761.6 L503.1,761.2 L503.7,761.0 L504.4,762.2 L505.0,762.3 L505.7,763.1 L506.3,763.2 L507.0,763.3 L507.6,763.5 L508.3,763.7 L509.0,763.9 L509.6,764.8 L510.3,765.2 L510.9,765.4 L511.6,766.6 L512.2,765.8 L512.9,765.6 L513.5,765.1 L514.2,764.9 L514.8,766.1 L515.5,766.9 L516.1,767.7 L516.8,768.7 L517.4,768.2 L518.1,768.3 L518.8,768.7 L519.4,768.8 L520.1,769.6 L520.7,770.1 L521.4,769.4 L522.0,769.1 L522.7,769.8 L523.3,770.0 L524.0,771.7 L524.6,772.6 L525.3,772.4 L525.9,773.1 L526.6,773.6 L527.2,773.8 L527.9,774.6 L528.6,775.3 L529.2,775.3 L529.9,775.4 L530.5,775.7 L531.2,776.0 L531.8,775.9 L532.5,775.8 L533.1,775.8 L533.8,776.3 L534.4,777.4 L535.1,778.5 L535.7,779.3 L536.4,779.7 L537.1,779.8 L537.7,780.5 L538.4,781.7 L539.0,782.7 L539.7,783.6 L540.3,784.7 L541.0,784.5 L541.6,785.3 L542.3,786.8 L542.9,786.8 L543.6,789.5 L544.2,790.2 L544.9,791.4 L545.5,794.2 L546.2,795.7 L546.9,797.6 L547.5,798.6 L548.2,799.6 L548.8,800.6 L549.5,801.7 L550.1,803.8 L550.8,805.5 L551.4,806.5 L552.1,808.3 L552.7,809.2 L553.4,810.7 L554.0,813.1 L554.7,814.1 L555.3,816.2 L556.0,817.3 L556.7,818.0 L557.3,819.6 L558.0,820.6 L558.6,822.9 L559.3,825.4 L559.9,827.9 L560.6,830.2 L561.2,831.6 L561.9,833.7 L562.5,835.0 L563.2,836.7 L563.8,838.8 L564.5,839.7 L565.1,841.7 L565.8,843.0 L566.5,845.2 L567.1,847.5 L567.8,850.1 L568.4,852.3 L569.1,853.9 L569.7,855.4 L570.4,856.4 L571.0,857.6 L571.7,858.8 L572.3,861.0 L573.0,863.0 L573.6,865.4 L574.3,867.8 L574.9,868.9 L575.6,870.0 L576.3,871.4 L576.9,872.8 L577.6,875.3 L578.2,877.9 L578.9,880.0 L579.5,882.9 L580.2,884.2 L580.8,885.9 L581.5,886.9 L582.1,887.9 L582.8,890.5 L583.4,892.2 L584.1,894.8 L584.7,896.5 L585.4,898.1 L586.1,899.9 L586.7,902.3 L587.4,904.1 L588.0,905.4 L588.7,908.1 L589.3,908.8 L590.0,910.3 L590.6,911.4 L591.3,911.9 L591.9,914.1 L592.6,916.5 L593.2,918.5 L593.9,920.2 L594.5,920.7 L595.2,922.0 L595.9,924.7 L596.5,927.0 L597.2,929.5 L597.8,931.0 L598.5,931.5 L599.1,933.3 L599.8,935.2 L600.4,936.5 L601.1,937.9 L601.7,938.5 L602.4,939.5 L603.0,940.7 L603.7,941.4 L604.3,941.9 L605.0,942.8 L605.7,943.2 L606.3,943.8 L607.0,944.7 L607.6,944.6 L608.3,945.3 L608.9,946.3 L609.6,946.4 L610.2,947.5 L610.9,947.7 L611.5,948.1 L612.2,949.0 L612.8,948.7 L613.5,949.2 L614.2,948.7 L614.8,948.0 L615.5,947.3 L616.1,946.7 L616.8,946.3 L617.4,946.4 L618.1,946.8 L618.7,946.3 L619.4,945.0 L620.0,944.7 L620.7,943.8 L621.3,943.1 L622.0,942.9 L622.6,941.8 L623.3,941.1 L624.0,940.6 L624.6,940.3 L625.3,939.6 L625.9,939.3 L626.6,938.3 L627.2,937.5 L627.9,936.6 L628.5,935.2 L629.2,934.2 L629.8,933.8 L630.5,932.9 L631.1,930.8 L631.8,929.9 L632.4,928.8 L633.1,927.7 L633.8,927.4 L634.4,926.3 L635.1,925.1 L635.7,924.3 L636.4,923.5 L637.0,921.5 L637.7,921.0 L638.3,920.1 L639.0,919.3 L639.6,919.5 L640.3,917.6 L640.9,915.9 L641.6,915.1 L642.2,913.8 L642.9,913.0 L643.6,912.0 L644.2,909.5 L644.9,908.6 L645.5,907.0 L646.2,906.1 L646.8,905.8 L647.5,904.2 L648.1,902.8 L648.8,901.7 L649.4,899.6 L650.1,898.3 L650.7,897.6 L651.4,895.5 L652.0,894.4 L652.7,892.2 L653.4,889.7 L654.0,888.1 L654.7,886.2 L655.3,885.3 L656.0,883.1 L656.6,881.2 L657.3,879.3 L657.9,877.4 L658.6,876.3 L659.2,874.8 L659.9,874.0 L660.5,871.6 L661.2,869.6 L661.8,867.5 L662.5,865.0 L663.2,862.9 L663.8,861.0 L664.5,859.2 L665.1,857.1 L665.8,855.7 L666.4,854.3 L667.1,852.3 L667.7,851.0 L668.4,849.2 L669.0,848.1 L669.7,846.8 L670.3,846.1 L671.0,845.1 L671.6,843.3 L672.3,841.2 L673.0,839.3 L673.6,837.5 L674.3,836.4 L674.9,836.3 L675.6,835.6 L676.2,834.4 L676.9,832.8 L677.5,831.3 L678.2,829.5 L678.8,828.9 L679.5,827.9 L680.1,827.2 L680.8,825.9 L681.5,824.7 L682.1,824.3 L682.8,823.8 L683.4,823.7 L684.1,823.6 L684.7,822.6 L685.4,821.5 L686.0,821.4 L686.7,819.9 L687.3,819.7 L688.0,819.8 L688.6,818.0 L689.3,818.0 L689.9,817.4 L690.6,816.2 L691.3,816.1 L691.9,815.3 L692.6,814.9 L693.2,813.9 L693.9,813.2 L694.5,812.2 L695.2,811.5 L695.8,810.8 L696.5,810.4 L697.1,809.9 L697.8,808.8 L698.4,807.5 L699.1,806.0 L699.7,804.8 L700.4,803.3 L701.1,802.8 L701.7,802.2 L702.4,801.6 L703.0,800.2 L703.7,799.0 L704.3,796.5 L705.0,794.8 L705.6,794.2 L706.3,792.8 L706.9,793.0 L707.6,792.3 L708.2,791.4 L708.9,790.4 L709.5,789.8 L710.2,789.3 L710.9,788.2 L711.5,787.4 L712.2,785.4 L712.8,784.2 L713.5,783.5 L714.1,783.6 L714.8,783.2 L715.4,782.1 L716.1,781.5 L716.7,780.1 L717.4,779.5 L718.0,778.8 L718.7,778.0 L719.3,776.9 L720.0,775.5 L720.7,775.2 L721.3,774.7 L722.0,775.3 L722.6,775.6 L723.3,774.5 L723.9,774.3 L724.6,773.7 L725.2,772.5 L725.9,773.2 L726.5,771.9 L727.2,770.9 L727.8,771.1 L728.5,770.3 L729.1,770.2 L729.8,769.6 L730.5,769.7 L731.1,768.6 L731.8,768.0 L732.4,768.6 L733.1,767.9 L733.7,768.0 L734.4,768.7 L735.0,769.0 L735.7,769.3 L736.3,770.0 L737.0,769.4 L737.6,768.4 L738.3,768.1 L738.9,768.1 L739.6,768.1 L740.3,768.6 L740.9,768.4 L741.6,767.7 L742.2,767.4 L742.9,767.0 L743.5,766.7 L744.2,766.7 L744.8,766.4 L745.5,766.8 L746.1,765.7 L746.8,765.6 L747.4,765.9 L748.1,765.4 L748.7,767.0 L749.4,766.9 L750.1,766.8 L750.7,766.7 L751.4,766.1 L752.0,766.4 L752.7,767.2 L753.3,768.1 L754.0,768.1 L754.6,767.6 L755.3,767.8 L755.9,767.5 L756.6,768.4 L757.2,769.3 L757.9,769.6 L758.6,769.6 L759.2,769.8 L759.9,770.3 L760.5,770.1 L761.2,771.4 L761.8,771.7 L762.5,771.8 L763.1,773.0 L763.8,773.4 L764.4,774.6 L765.1,775.2 L765.7,775.5 L766.4,775.9 L767.0,775.7 L767.7,776.1 L768.4,776.3 L769.0,775.9 L769.7,776.3 L770.3,776.8 L771.0,776.9 L771.6,777.3 L772.3,777.0 L772.9,777.0 L773.6,778.0 L774.2,777.4 L774.9,778.2 L775.5,778.3 L776.2,778.4 L776.8,780.1 L777.5,780.5 L778.2,781.1 L778.8,782.2 L779.5,782.6 L780.1,783.1 L780.8,784.1 L781.4,784.1 L782.1,784.0 L782.7,784.0 L783.4,784.3 L784.0,784.1 L784.7,785.4 L785.3,786.5 L786.0,787.3 L786.6,789.4 L787.3,789.7 L788.0,791.0 L788.6,792.1 L789.3,791.0 L789.9,792.6 L790.6,793.1 L791.2,794.5 L791.9,796.4 L792.5,796.6 L793.2,797.3 L793.8,797.5 L794.5,798.8 L795.1,800.2 L795.8,802.0 L796.4,803.0 L797.1,804.1 L797.8,805.6 L798.4,807.0 L799.1,808.5 L799.7,809.9 L800.4,810.1 L801.0,811.7 L801.7,813.3 L802.3,815.2 L803.0,817.2 L803.6,818.4 L804.3,819.8 L804.9,820.8 L805.6,822.8 L806.2,825.4 L806.9,827.1 L807.6,829.3 L808.2,830.9 L808.9,831.3 L809.5,832.4 L810.2,834.1 L810.8,836.1 L811.5,838.5 L812.1,841.6 L812.8,844.1 L813.4,846.2 L814.1,848.5 L814.7,850.7 L815.4,852.5 L816.0,854.5 L816.7,856.5 L817.4,858.9 L818.0,861.6 L818.7,863.5 L819.3,866.4 L820.0,868.3 L820.6,870.4 L821.3,873.5 L821.9,875.3 L822.6,877.9 L823.2,880.9 L823.9,882.8 L824.5,885.1 L825.2,888.3 L825.9,890.2 L826.5,892.7 L827.2,894.5 L827.8,895.5 L828.5,898.4 L829.1,901.2 L829.8,904.4 L830.4,907.2 L831.1,909.1 L831.7,910.7 L832.4,912.1 L833.0,913.7 L833.7,914.6 L834.3,916.5 L835.0,917.8 L835.7,919.0 L836.3,920.5 L837.0,922.0 L837.6,924.8 L838.3,926.6 L838.9,928.1 L839.6,930.4 L840.2,931.0 L840.9,931.3 L841.5,932.9 L842.2,932.9 L842.8,933.3 L843.5,934.3 L844.1,935.0 L844.8,934.9 L845.5,936.1 L846.1,937.5 L846.8,938.2 L847.4,939.6 L848.1,939.7 L848.7,940.9 L849.4,941.3 L850.0,942.4 L850.7,943.6 L851.3,943.5 L852.0,943.7 L852.6,943.8 L853.3,943.9 L853.9,944.5 L854.6,944.7 L855.3,945.6 L855.9,946.9 L856.6,946.5 L857.2,947.8 L857.9,948.6 L858.5,948.9 L859.2,949.9 L859.8,949.4 L860.5,947.6 L861.1,946.3 L861.8,946.3 L862.4,945.8 L863.1,946.1 L863.7,946.3 L864.4,945.1 L865.1,944.2 L865.7,943.4 L866.4,942.0 L867.0,941.1 L867.7,940.4 L868.3,939.4 L869.0,938.5 L869.6,937.2 L870.3,936.0 L870.9,934.8 L871.6,933.6 L872.2,932.7 L872.9,932.1 L873.5,930.4 L874.2,930.6 L874.9,930.0 L875.5,929.0 L876.2,928.0 L876.8,925.5 L877.5,923.7 L878.1,921.7 L878.8,921.1 L879.4,920.1 L880.1,918.3 L880.7,916.8 L881.4,915.1 L882.0,914.2 L882.7,913.0 L883.3,911.8 L884.0,910.1 L884.7,908.1 L885.3,907.1 L886.0,907.2 L886.6,906.0 L887.3,904.5 L887.9,903.9 L888.6,900.7 L889.2,899.8 L889.9,899.1 L890.5,897.3 L891.2,896.9 L891.8,895.8 L892.5,894.3 L893.1,893.4 L893.8,892.1 L894.5,890.3 L895.1,888.5 L895.8,887.4 L896.4,885.4 L897.1,883.5 L897.7,881.4 L898.4,878.7 L899.0,877.4 L899.7,875.9 L900.3,874.8 L901.0,873.4 L901.6,871.5 L902.3,869.3 L903.0,867.5 L903.6,865.6 L904.3,864.2 L904.9,863.5 L905.6,861.8 L906.2,860.3 L906.9,859.0 L907.5,856.9 L908.2,855.8 L908.8,854.3 L909.5,852.3 L910.1,850.5 L910.8,849.2 L911.4,847.9 L912.1,846.6 L912.8,845.2 L913.4,843.3 L914.1,841.9 L914.7,841.1 L915.4,840.0 L916.0,839.5 L916.7,838.5 L917.3,836.7 L918.0,835.6 L918.6,832.9 L919.3,830.9 L919.9,829.1 L920.6,827.6 L921.2,827.8 L921.9,827.1 L922.6,826.9 L923.2,826.2 L923.9,825.5 L924.5,825.0 L925.2,823.6 L925.8,823.7 L926.5,822.0 L927.1,821.3 L927.8,821.2 L928.4,819.0 L929.1,818.8 L929.7,817.6 L930.4,816.4 L931.0,816.3 L931.7,815.2 L932.4,815.0 L933.0,813.9 L933.7,812.7 L934.3,812.7 L935.0,812.0 L935.6,811.8 L936.3,811.4 L936.9,809.7 L937.6,809.1 L938.2,808.8 L938.9,808.0 L939.5,807.6 L940.2,806.2 L940.8,804.2 L941.5,803.7 L942.2,803.1 L942.8,803.0 L943.5,802.3 L944.1,800.8 L944.8,799.7 L945.4,798.3 L946.1,798.4 L946.7,797.7 L947.4,797.0 L948.0,796.4 L948.7,795.2 L949.3,794.6 L950.0,793.7 L950.6,794.1 L951.3,793.0 L952.0,793.0 L952.6,792.7 L953.3,790.8 L953.9,791.0 L954.6,790.2 L955.2,789.2 L955.9,788.5 L956.5,788.1 L957.2,787.2 L957.8,787.4 L958.5,787.1 L959.1,785.4 L959.8,784.4 L960.4,783.5 L961.1,782.9 L961.8,783.2 L962.4,783.0 L963.1,782.2 L963.7,781.3 L964.4,780.7 L965.0,780.3 L965.7,779.8 L966.3,779.9 L967.0,779.9 L967.6,780.0 L968.3,779.5 L968.9,778.7 L969.6,777.7 L970.2,776.8 L970.9,776.1 L971.6,775.3 L972.2,774.9 L972.9,773.8 L973.5,773.8 L974.2,773.3 L974.8,773.2 L975.5,772.8 L976.1,772.9 L976.8,773.1 L977.4,772.4 L978.1,772.0 L978.7,771.0 L979.4,770.8 L980.1,770.4 L980.7,771.5 L981.4,771.4 L982.0,770.8 L982.7,771.0 L983.3,769.9 L984.0,769.8 L984.6,769.8 L985.3,770.0 L985.9,770.3 L986.6,770.3 L987.2,770.8 L987.9,771.0 L988.5,770.9 L989.2,771.1 L989.9,770.3 L990.5,769.6 L991.2,769.6 L991.8,769.8 L992.5,769.7 L993.1,770.7 L993.8,770.3 L994.4,769.3 L995.1,769.9 L995.7,768.9 L996.4,769.1 L997.0,770.0 L997.7,770.0 L998.3,770.0 L999.0,770.3 L999.7,770.4 L1000.3,771.2 L1001.0,771.8 L1001.6,771.9 L1002.3,771.5 L1002.9,770.9 L1003.6,771.5 L1004.2,772.3 L1004.9,773.0 L1005.5,773.1 L1006.2,773.1 L1006.8,772.7 L1007.5,772.4 L1008.1,772.5 L1008.8,772.5" fill="none" stroke="#1f8f1f" stroke-width="1.8" stroke-linejoin="round" stroke-linecap="round" />
<path d="M421.4,837.6 L422.0,843.4 L422.6,847.9 L423.2,851.5 L423.8,854.9 L424.3,857.7 L424.9,859.4 L425.5,859.6 L426.1,856.7 L426.7,852.1 L427.3,847.9 L427.9,844.2 L428.5,840.3 L429.0,837.1 L429.6,835.6 L430.2,835.1 L430.8,834.8 L431.4,834.6 L432.0,834.4 L432.6,834.3 L433.2,834.1 L433.7,834.0 L434.3,833.8 L434.9,833.5 L435.5,833.1 L436.1,832.7 L436.7,832.3 L437.3,831.8 L437.9,831.3 L438.5,830.7 L439.0,830.4 L439.6,830.2 L440.2,829.7 L440.8,828.9 L441.4,828.4 L442.0,828.0 L442.6,827.8 L443.2,827.2 L443.7,827.4 L444.3,827.5 L444.9,827.5 L445.5,826.4 L446.1,825.6 L446.7,824.9 L447.3,824.8 L447.9,824.6 L448.4,824.5 L449.0,823.8 L449.6,823.1 L450.2,822.9 L450.8,822.8 L451.4,822.8 L452.0,822.4 L452.6,822.5 L453.2,822.1 L453.7,822.0 L454.3,821.6 L454.9,821.5 L455.5,821.3 L456.1,821.0 L456.7,820.7 L457.3,820.3 L457.9,820.2 L458.4,819.8 L459.0,819.8 L459.6,819.3 L460.2,819.1 L460.8,818.9 L461.4,818.7 L462.0,818.5 L462.6,818.3 L463.1,818.9 L463.7,819.6 L464.3,819.6 L464.9,818.9 L465.5,818.4 L466.1,818.2 L466.7,818.6 L467.3,818.8 L467.9,818.8 L468.4,819.0 L469.0,818.8 L469.6,818.8 L470.2,818.5 L470.8,818.3 L471.4,818.5 L472.0,818.3 L472.6,818.3 L473.1,818.6 L473.7,818.9 L474.3,819.1 L474.9,818.6 L475.5,818.3 L476.1,818.1 L476.7,818.2 L477.3,818.1 L477.8,818.0 L478.4,818.1 L479.0,818.6 L479.6,818.6 L480.2,818.5 L480.8,818.2 L481.4,818.4 L482.0,818.6 L482.6,818.9 L483.1,818.7 L483.7,818.2 L484.3,817.7 L484.9,817.9 L485.5,818.1 L486.1,818.4 L486.7,818.4 L487.3,818.6 L487.8,818.6 L488.4,818.6 L489.0,818.2 L489.6,818.5 L490.2,818.5 L490.8,818.7 L491.4,818.6 L492.0,818.7 L492.5,818.9 L493.1,818.8 L493.7,819.0 L494.3,819.3 L494.9,818.9 L495.5,818.4 L496.1,817.8 L496.7,818.3 L497.3,818.8 L497.8,819.1 L498.4,819.2 L499.0,819.4 L499.6,819.4 L500.2,819.4 L500.8,819.8 L501.4,820.2 L502.0,820.1 L502.5,819.9 L503.1,819.8 L503.7,819.6 L504.3,819.6 L504.9,819.8 L505.5,820.1 L506.1,819.8 L506.7,820.0 L507.2,819.7 L507.8,819.9 L508.4,819.8 L509.0,820.3 L509.6,820.4 L510.2,820.4 L510.8,820.5 L511.4,820.5 L512.0,820.6 L512.5,820.5 L513.1,821.0 L513.7,821.2 L514.3,821.3 L514.9,821.5 L515.5,821.4 L516.1,821.3 L516.7,821.1 L517.2,821.1 L517.8,821.1 L518.4,821.3 L519.0,821.8 L519.6,822.0 L520.2,822.6 L520.8,822.7 L521.4,823.0 L521.9,823.1 L522.5,822.7 L523.1,823.1 L523.7,823.2 L524.3,823.8 L524.9,823.8 L525.5,823.6 L526.1,823.6 L526.6,823.4 L527.2,823.5 L527.8,823.6 L528.4,824.1 L529.0,824.1 L529.6,824.4 L530.2,824.7 L530.8,824.7 L531.4,824.9 L531.9,824.8 L532.5,825.4 L533.1,825.1 L533.7,825.3 L534.3,825.4 L534.9,825.5 L535.5,824.9 L536.1,825.0 L536.6,825.3 L537.2,826.0 L537.8,825.6 L538.4,825.8 L539.0,825.7 L539.6,826.2 L540.2,826.5 L540.8,826.6 L541.3,827.1 L541.9,826.7 L542.5,826.8 L543.1,826.7 L543.7,826.9 L544.3,827.3 L544.9,827.1 L545.5,827.1 L546.1,827.2 L546.6,827.4 L547.2,827.9 L547.8,827.7 L548.4,827.9 L549.0,828.2 L549.6,828.4 L550.2,828.6 L550.8,828.5 L551.3,828.5 L551.9,828.3 L552.5,828.4 L553.1,829.0 L553.7,829.2 L554.3,829.5 L554.9,829.1 L555.5,829.4 L556.0,829.2 L556.6,829.4 L557.2,829.5 L557.8,829.8 L558.4,830.4 L559.0,830.4 L559.6,830.5 L560.2,830.5 L560.8,830.7 L561.3,830.7 L561.9,830.5 L562.5,830.8 L563.1,830.8 L563.7,830.8 L564.3,830.8 L564.9,831.1 L565.5,831.5 L566.0,831.7 L566.6,831.7 L567.2,831.8 L567.8,832.1 L568.4,832.2 L569.0,832.0 L569.6,831.8 L570.2,831.8 L570.7,832.0 L571.3,832.3 L571.9,832.5 L572.5,832.7 L573.1,832.4 L573.7,833.1 L574.3,833.0 L574.9,833.1 L575.5,832.8 L576.0,832.8 L576.6,833.1 L577.2,832.9 L577.8,833.0 L578.4,832.8 L579.0,832.9 L579.6,833.0 L580.2,833.2 L580.7,833.5 L581.3,833.4 L581.9,833.4 L582.5,833.2 L583.1,833.4 L583.7,833.5 L584.3,833.7 L584.9,833.8 L585.4,833.9 L586.0,833.7 L586.6,833.8 L587.2,833.7 L587.8,833.5 L588.4,833.6 L589.0,833.9 L589.6,834.5 L590.2,834.7 L590.7,834.6 L591.3,834.4 L591.9,834.4 L592.5,834.7 L593.1,834.9 L593.7,834.5 L594.3,834.6 L594.9,834.4 L595.4,835.1 L596.0,835.0 L596.6,834.8 L597.2,834.7 L597.8,834.5 L598.4,835.1 L599.0,834.9 L599.6,835.4 L600.1,835.0 L600.7,835.0 L601.3,834.6 L601.9,834.6 L602.5,834.5 L603.1,834.8 L603.7,834.7 L604.3,834.9 L604.9,834.9 L605.4,835.2 L606.0,834.9 L606.6,834.3 L607.2,834.1 L607.8,833.8 L608.4,834.5 L609.0,834.6 L609.6,834.8 L610.1,834.5 L610.7,834.2 L611.3,833.9 L611.9,834.1 L612.5,834.0 L613.1,834.2 L613.7,834.7 L614.3,835.1 L614.8,835.2 L615.4,834.6 L616.0,834.2 L616.6,834.1 L617.2,833.8 L617.8,834.1 L618.4,834.0 L619.0,834.0 L619.6,834.0 L620.1,833.7 L620.7,833.6 L621.3,833.3 L621.9,833.5 L622.5,833.7 L623.1,833.6 L623.7,833.3 L624.3,833.1 L624.8,833.3 L625.4,833.8 L626.0,833.7 L626.6,833.9 L627.2,833.8 L627.8,834.0 L628.4,833.4 L629.0,832.7 L629.5,832.5 L630.1,831.7 L630.7,831.8 L631.3,831.6 L631.9,832.0 L632.5,832.0 L633.1,831.9 L633.7,831.9 L634.3,831.7 L634.8,832.0 L635.4,832.1 L636.0,831.9 L636.6,831.6 L637.2,831.4 L637.8,831.4 L638.4,831.2 L639.0,831.2 L639.5,831.0 L640.1,830.8 L640.7,830.4 L641.3,830.3 L641.9,830.5 L642.5,830.8 L643.1,830.7 L643.7,830.8 L644.2,830.6 L644.8,830.4 L645.4,830.1 L646.0,830.0 L646.6,829.8 L647.2,830.2 L647.8,830.0 L648.4,830.2 L649.0,829.6 L649.5,829.3 L650.1,828.8 L650.7,828.4 L651.3,828.3 L651.9,828.4 L652.5,828.6 L653.1,828.6 L653.7,828.9 L654.2,828.8 L654.8,828.6 L655.4,828.1 L656.0,827.7 L656.6,828.0 L657.2,828.0 L657.8,828.3 L658.4,827.6 L658.9,827.4 L659.5,827.2 L660.1,827.5 L660.7,827.4 L661.3,827.4 L661.9,827.2 L662.5,826.5 L663.1,826.4 L663.7,826.2 L664.2,826.7 L664.8,826.1 L665.4,826.1 L666.0,826.0 L666.6,826.1 L667.2,825.4 L667.8,825.0 L668.4,825.1 L668.9,825.9 L669.5,826.5 L670.1,826.3 L670.7,825.7 L671.3,824.5 L671.9,824.3 L672.5,824.2 L673.1,824.1 L673.6,823.7 L674.2,823.7 L674.8,823.6 L675.4,823.6 L676.0,823.5 L676.6,823.5 L677.2,823.6 L677.8,823.1 L678.4,822.9 L678.9,823.2 L679.5,823.4 L680.1,823.2 L680.7,822.6 L681.3,822.6 L681.9,822.9 L682.5,823.1 L683.1,822.7 L683.6,822.8 L684.2,822.2 L684.8,822.0 L685.4,821.3 L686.0,821.2 L686.6,821.0 L687.2,821.1 L687.8,821.1 L688.3,821.6 L688.9,821.6 L689.5,821.8 L690.1,821.8 L690.7,821.5 L691.3,821.2 L691.9,820.9 L692.5,821.1 L693.1,820.9 L693.6,820.5 L694.2,820.1 L694.8,820.4 L695.4,820.1 L696.0,820.6 L696.6,820.2 L697.2,820.1 L697.8,820.0 L698.3,819.5 L698.9,819.9 L699.5,820.0 L700.1,820.6 L700.7,820.3 L701.3,819.7 L701.9,819.6 L702.5,819.1 L703.0,819.4 L703.6,819.0 L704.2,819.1 L704.8,818.9 L705.4,818.9 L706.0,818.9 L706.6,818.4 L707.2,818.0 L707.8,818.1 L708.3,818.4 L708.9,818.6 L709.5,818.4 L710.1,818.0 L710.7,817.7 L711.3,818.2 L711.9,818.7 L712.5,818.9 L713.0,818.3 L713.6,818.3 L714.2,818.6 L714.8,818.7 L715.4,818.2 L716.0,818.3 L716.6,818.2 L717.2,818.2 L717.7,817.8 L718.3,817.9 L718.9,818.2 L719.5,818.8 L720.1,819.1 L720.7,819.2 L721.3,818.7 L721.9,818.1 L722.4,817.7 L723.0,817.7 L723.6,817.7 L724.2,817.9 L724.8,818.3 L725.4,818.2 L726.0,818.3 L726.6,818.5 L727.2,818.7 L727.7,818.6 L728.3,817.7 L728.9,817.9 L729.5,817.9 L730.1,818.6 L730.7,818.4 L731.3,818.5 L731.9,818.4 L732.4,818.6 L733.0,818.9 L733.6,818.6 L734.2,818.8 L734.8,818.5 L735.4,818.9 L736.0,819.0 L736.6,819.1 L737.1,818.8 L737.7,818.6 L738.3,819.2 L738.9,819.2 L739.5,819.3 L740.1,818.8 L740.7,818.7 L741.3,818.6 L741.9,818.9 L742.4,819.3 L743.0,819.4 L743.6,819.1 L744.2,819.2 L744.8,819.5 L745.4,820.0 L746.0,819.8 L746.6,819.9 L747.1,819.3 L747.7,819.3 L748.3,819.0 L748.9,819.4 L749.5,819.8 L750.1,820.6 L750.7,820.5 L751.3,820.4 L751.8,820.4 L752.4,820.2 L753.0,820.2 L753.6,819.5 L754.2,820.3 L754.8,820.9 L755.4,821.4 L756.0,821.3 L756.6,821.5 L757.1,821.5 L757.7,821.5 L758.3,821.0 L758.9,821.0 L759.5,821.8 L760.1,822.2 L760.7,822.0 L761.3,821.4 L761.8,821.6 L762.4,821.9 L763.0,822.0 L763.6,822.1 L764.2,822.5 L764.8,822.8 L765.4,823.0 L766.0,823.0 L766.5,823.0 L767.1,822.8 L767.7,822.8 L768.3,822.9 L768.9,823.6 L769.5,823.7 L770.1,824.0 L770.7,823.3 L771.3,823.6 L771.8,823.1 L772.4,823.4 L773.0,823.1 L773.6,823.7 L774.2,823.8 L774.8,824.4 L775.4,824.6 L776.0,824.9 L776.5,824.8 L777.1,825.1 L777.7,824.9 L778.3,825.2 L778.9,825.0 L779.5,825.5 L780.1,825.6 L780.7,826.2 L781.2,826.2 L781.8,826.4 L782.4,826.4 L783.0,826.4 L783.6,826.5 L784.2,826.4 L784.8,826.9 L785.4,827.1 L786.0,827.3 L786.5,827.2 L787.1,827.4 L787.7,827.1 L788.3,826.9 L788.9,826.6 L789.5,826.9 L790.1,827.4 L790.7,827.8 L791.2,828.5 L791.8,828.4 L792.4,828.9 L793.0,828.8 L793.6,828.8 L794.2,828.4 L794.8,828.6 L795.4,829.0 L795.9,829.0 L796.5,828.8 L797.1,828.9 L797.7,829.2 L798.3,829.4 L798.9,829.6 L799.5,829.9 L800.1,830.5 L800.7,830.3 L801.2,830.3 L801.8,829.8 L802.4,829.7 L803.0,829.9 L803.6,829.9 L804.2,830.4 L804.8,830.2 L805.4,830.8 L805.9,830.9 L806.5,831.4 L807.1,831.4 L807.7,830.9 L808.3,830.7 L808.9,830.7 L809.5,831.4 L810.1,831.4 L810.6,831.5 L811.2,831.4 L811.8,831.3 L812.4,831.5 L813.0,831.6 L813.6,831.7 L814.2,831.7 L814.8,832.0 L815.4,832.1 L815.9,832.2 L816.5,832.3 L817.1,832.8 L817.7,833.1 L818.3,832.9 L818.9,832.7 L819.5,832.5 L820.1,832.3 L820.6,832.0 L821.2,832.3 L821.8,833.0 L822.4,833.2 L823.0,833.4 L823.6,833.5 L824.2,833.9 L824.8,833.7 L825.3,833.7 L825.9,833.7 L826.5,834.3 L827.1,834.4 L827.7,834.5 L828.3,833.9 L828.9,833.8 L829.5,833.9 L830.1,833.6 L830.6,833.5 L831.2,833.4 L831.8,833.9 L832.4,834.0 L833.0,834.3 L833.6,834.7 L834.2,834.7 L834.8,834.9 L835.3,834.6 L835.9,834.8 L836.5,834.4 L837.1,834.5 L837.7,834.6 L838.3,834.9 L838.9,835.0 L839.5,834.6 L840.0,834.2 L840.6,834.2 L841.2,834.4 L841.8,834.9 L842.4,834.6 L843.0,834.6 L843.6,834.6 L844.2,835.1 L844.8,835.1 L845.3,834.6 L845.9,834.3 L846.5,834.6 L847.1,835.1 L847.7,835.3 L848.3,835.5 L848.9,835.2 L849.5,835.1 L850.0,835.0 L850.6,835.8 L851.2,835.6 L851.8,835.2 L852.4,834.3 L853.0,834.1 L853.6,834.2 L854.2,834.8 L854.7,835.0 L855.3,835.0 L855.9,834.6 L856.5,834.9 L857.1,834.8 L857.7,834.8 L858.3,834.7 L858.9,835.0 L859.5,835.4 L860.0,835.0 L860.6,834.4 L861.2,833.9 L861.8,834.4 L862.4,834.6 L863.0,834.9 L863.6,834.2 L864.2,833.8 L864.7,833.3 L865.3,833.9 L865.9,834.0 L866.5,833.9 L867.1,832.9 L867.7,833.0 L868.3,832.8 L868.9,833.5 L869.4,833.2 L870.0,833.6 L870.6,833.5 L871.2,833.7 L871.8,833.2 L872.4,832.4 L873.0,832.2 L873.6,832.2 L874.2,832.3 L874.7,832.3 L875.3,832.2 L875.9,832.1 L876.5,832.6 L877.1,832.6 L877.7,832.7 L878.3,832.1 L878.9,832.1 L879.4,831.7 L880.0,831.6 L880.6,831.6 L881.2,831.7 L881.8,831.6 L882.4,831.5 L883.0,831.9 L883.6,832.0 L884.1,831.6 L884.7,831.0 L885.3,830.6 L885.9,830.5 L886.5,830.0 L887.1,830.3 L887.7,829.9 L888.3,830.2 L888.9,829.8 L889.4,830.4 L890.0,830.4 L890.6,830.2 L891.2,829.7 L891.8,829.4 L892.4,829.8 L893.0,829.5 L893.6,829.6 L894.1,828.9 L894.7,828.8 L895.3,828.6 L895.9,829.0 L896.5,829.1 L897.1,828.8 L897.7,828.4 L898.3,828.5 L898.8,828.4 L899.4,828.6 L900.0,827.7 L900.6,828.1 L901.2,827.5 L901.8,828.0 L902.4,827.4 L903.0,827.3 L903.6,826.8 L904.1,827.0 L904.7,827.4 L905.3,827.1 L905.9,826.9 L906.5,826.3 L907.1,826.2 L907.7,826.3 L908.3,825.9 L908.8,826.1 L909.4,825.6 L910.0,826.1 L910.6,825.9 L911.2,825.7 L911.8,825.1 L912.4,824.8 L913.0,824.6 L913.5,824.7 L914.1,824.8 L914.7,824.9 L915.3,824.7 L915.9,824.3 L916.5,824.0 L917.1,824.0 L917.7,824.3 L918.2,824.8 L918.8,824.6 L919.4,824.3 L920.0,824.2 L920.6,824.1 L921.2,824.0 L921.8,823.4 L922.4,823.5 L923.0,823.6 L923.5,823.8 L924.1,823.2 L924.7,822.9 L925.3,822.0 L925.9,822.2 L926.5,821.8 L927.1,822.2 L927.7,822.0 L928.2,822.0 L928.8,822.3 L929.4,822.4 L930.0,822.2 L930.6,821.5 L931.2,820.8 L931.8,820.9 L932.4,821.1 L932.9,821.2 L933.5,821.3 L934.1,821.1 L934.7,821.2 L935.3,821.2 L935.9,820.7 L936.5,820.4 L937.1,820.1 L937.7,820.4 L938.2,820.6 L938.8,820.6 L939.4,820.6 L940.0,820.3 L940.6,820.6 L941.2,820.3 L941.8,820.7 L942.4,820.3 L942.9,820.8 L943.5,820.3 L944.1,820.4 L944.7,819.8 L945.3,819.7 L945.9,819.0 L946.5,819.0 L947.1,819.2 L947.6,819.2 L948.2,819.5 L948.8,819.5 L949.4,819.4 L950.0,819.4 L950.6,819.3 L951.2,819.5 L951.8,819.0 L952.4,818.8 L952.9,818.7 L953.5,818.7 L954.1,818.3 L954.7,818.0 L955.3,818.1 L955.9,818.4 L956.5,818.8 L957.1,818.9 L957.6,818.8 L958.2,818.5 L958.8,818.7 L959.4,819.0 L960.0,819.3 L960.6,819.2 L961.2,819.0 L961.8,818.8 L962.3,818.8 L962.9,818.8 L963.5,819.2 L964.1,818.9 L964.7,818.7 L965.3,818.4 L965.9,818.7 L966.5,818.3 L967.1,818.3 L967.6,817.9 L968.2,818.9 L968.8,818.8 L969.4,818.9 L970.0,818.5 L970.6,818.3 L971.2,818.3 L971.8,818.5 L972.3,818.7 L972.9,818.8 L973.5,818.8 L974.1,818.7 L974.7,818.6 L975.3,818.5 L975.9,818.5 L976.5,818.4 L977.0,818.5 L977.6,818.5 L978.2,818.5 L978.8,818.5 L979.4,818.8 L980.0,818.9 L980.6,819.4 L981.2,819.1 L981.8,819.2 L982.3,818.8 L982.9,819.0 L983.5,819.1 L984.1,819.2 L984.7,818.6 L985.3,818.2 L985.9,818.2 L986.5,818.4 L987.0,818.9 L987.6,819.2 L988.2,819.5 L988.8,819.2 L989.4,819.6 L990.0,819.6 L990.6,820.0 L991.2,819.8 L991.7,820.3 L992.3,820.3 L992.9,820.1 L993.5,820.2 L994.1,820.3 L994.7,820.6 L995.3,820.3 L995.9,819.9 L996.5,820.0 L997.0,820.0 L997.6,820.7 L998.2,821.0 L998.8,821.8 L999.4,821.3 L1000.0,821.4 L1000.6,820.9 L1001.2,821.4 L1001.7,821.6 L1002.3,822.1 L1002.9,822.1 L1003.5,822.0 L1004.1,822.3 L1004.7,822.2 L1005.3,822.1 L1005.9,822.3 L1006.4,822.7 L1007.0,823.2 L1007.6,823.1 L1008.2,822.5 L1008.8,822.4" fill="none" stroke="#ff33ff" stroke-width="1.8" stroke-linejoin="round" stroke-linecap="round" />
<path d="M421.4,832.5 L422.0,836.8 L422.6,839.7 L423.2,840.7 L423.8,839.3 L424.3,836.0 L424.9,832.2 L425.5,829.4 L426.1,828.3 L426.7,827.4 L427.3,826.8 L427.9,826.2 L428.5,825.7 L429.0,825.3 L429.6,824.8 L430.2,824.2 L430.8,823.5 L431.4,822.8 L432.0,822.0 L432.6,821.2 L433.2,820.5 L433.7,819.9 L434.3,819.5 L434.9,819.4 L435.5,819.5 L436.1,819.8 L436.7,820.3 L437.3,820.9 L437.9,821.5 L438.5,822.1 L439.0,822.1 L439.6,822.2 L440.2,823.0 L440.8,823.3 L441.4,823.4 L442.0,823.7 L442.6,823.9 L443.2,824.0 L443.7,823.3 L444.3,823.1 L444.9,823.4 L445.5,824.0 L446.1,823.9 L446.7,823.8 L447.3,823.5 L447.9,823.2 L448.4,822.9 L449.0,822.8 L449.6,823.1 L450.2,822.7 L450.8,822.2 L451.4,822.0 L452.0,822.3 L452.6,822.4 L453.2,821.8 L453.7,821.3 L454.3,821.4 L454.9,821.3 L455.5,821.1 L456.1,820.7 L456.7,820.5 L457.3,820.4 L457.9,820.3 L458.4,820.2 L459.0,820.2 L459.6,820.0 L460.2,820.1 L460.8,819.7 L461.4,819.4 L462.0,819.0 L462.6,819.0 L463.1,819.0 L463.7,819.1 L464.3,819.1 L464.9,819.1 L465.5,819.0 L466.1,819.3 L466.7,819.3 L467.3,819.1 L467.9,818.8 L468.4,818.8 L469.0,819.1 L469.6,819.2 L470.2,818.7 L470.8,818.5 L471.4,818.2 L472.0,818.5 L472.6,818.2 L473.1,818.5 L473.7,818.3 L474.3,818.3 L474.9,818.1 L475.5,818.3 L476.1,818.5 L476.7,818.7 L477.3,818.6 L477.8,818.6 L478.4,818.4 L479.0,818.3 L479.6,818.4 L480.2,818.5 L480.8,818.7 L481.4,818.6 L482.0,818.6 L482.6,818.4 L483.1,818.6 L483.7,818.1 L484.3,818.2 L484.9,817.9 L485.5,818.4 L486.1,818.4 L486.7,818.6 L487.3,818.2 L487.8,818.1 L488.4,817.9 L489.0,818.4 L489.6,818.1 L490.2,818.5 L490.8,818.8 L491.4,819.4 L492.0,819.3 L492.5,819.0 L493.1,818.7 L493.7,818.8 L494.3,818.7 L494.9,818.5 L495.5,818.6 L496.1,818.7 L496.7,819.1 L497.3,819.4 L497.8,819.5 L498.4,819.3 L499.0,819.2 L499.6,818.8 L500.2,819.0 L500.8,818.8 L501.4,819.1 L502.0,819.3 L502.5,819.4 L503.1,819.4 L503.7,819.6 L504.3,819.7 L504.9,820.2 L505.5,820.2 L506.1,819.7 L506.7,819.4 L507.2,819.6 L507.8,820.5 L508.4,820.7 L509.0,820.5 L509.6,820.4 L510.2,820.4 L510.8,820.5 L511.4,820.4 L512.0,820.6 L512.5,820.5 L513.1,820.8 L513.7,821.2 L514.3,821.2 L514.9,821.3 L515.5,821.4 L516.1,821.7 L516.7,821.9 L517.2,821.7 L517.8,821.3 L518.4,821.0 L519.0,821.3 L519.6,822.1 L520.2,822.6 L520.8,822.7 L521.4,822.6 L521.9,822.7 L522.5,822.5 L523.1,822.6 L523.7,823.0 L524.3,823.3 L524.9,823.4 L525.5,823.2 L526.1,823.1 L526.6,823.4 L527.2,823.6 L527.8,824.0 L528.4,824.1 L529.0,824.1 L529.6,824.2 L530.2,823.9 L530.8,824.5 L531.4,824.3 L531.9,824.8 L532.5,824.7 L533.1,825.0 L533.7,825.1 L534.3,824.9 L534.9,824.8 L535.5,825.1 L536.1,825.4 L536.6,825.6 L537.2,825.6 L537.8,825.8 L538.4,825.7 L539.0,825.8 L539.6,826.1 L540.2,826.4 L540.8,826.7 L541.3,826.6 L541.9,826.6 L542.5,826.6 L543.1,826.6 L543.7,826.8 L544.3,826.9 L544.9,827.2 L545.5,827.4 L546.1,827.4 L546.6,827.6 L547.2,827.8 L547.8,828.2 L548.4,828.1 L549.0,828.2 L549.6,828.0 L550.2,828.4 L550.8,828.4 L551.3,828.7 L551.9,828.8 L552.5,829.1 L553.1,829.1 L553.7,829.2 L554.3,829.1 L554.9,829.3 L555.5,829.6 L556.0,829.6 L556.6,829.8 L557.2,829.7 L557.8,830.1 L558.4,830.3 L559.0,830.3 L559.6,830.0 L560.2,830.0 L560.8,830.4 L561.3,830.9 L561.9,830.6 L562.5,830.5 L563.1,830.3 L563.7,830.8 L564.3,831.1 L564.9,831.7 L565.5,831.9 L566.0,831.8 L566.6,831.7 L567.2,832.0 L567.8,832.2 L568.4,832.5 L569.0,832.4 L569.6,832.0 L570.2,831.7 L570.7,831.7 L571.3,831.9 L571.9,832.4 L572.5,832.5 L573.1,833.0 L573.7,833.0 L574.3,833.1 L574.9,832.7 L575.5,832.8 L576.0,833.0 L576.6,833.4 L577.2,833.8 L577.8,834.0 L578.4,834.2 L579.0,834.0 L579.6,834.0 L580.2,834.0 L580.7,834.3 L581.3,834.3 L581.9,834.2 L582.5,833.9 L583.1,833.8 L583.7,833.5 L584.3,833.4 L584.9,833.8 L585.4,834.1 L586.0,834.0 L586.6,834.0 L587.2,834.1 L587.8,834.3 L588.4,834.1 L589.0,834.2 L589.6,834.4 L590.2,834.6 L590.7,834.4 L591.3,834.5 L591.9,834.4 L592.5,834.6 L593.1,834.9 L593.7,835.0 L594.3,835.0 L594.9,834.6 L595.4,834.7 L596.0,834.8 L596.6,834.6 L597.2,834.4 L597.8,834.5 L598.4,834.6 L599.0,834.7 L599.6,834.7 L600.1,835.2 L600.7,835.1 L601.3,835.2 L601.9,834.9 L602.5,834.8 L603.1,834.4 L603.7,834.7 L604.3,835.0 L604.9,835.0 L605.4,834.6 L606.0,834.5 L606.6,834.6 L607.2,834.4 L607.8,834.1 L608.4,834.0 L609.0,834.4 L609.6,834.5 L610.1,834.8 L610.7,834.6 L611.3,834.7 L611.9,834.2 L612.5,834.1 L613.1,834.5 L613.7,834.3 L614.3,834.3 L614.8,834.3 L615.4,834.8 L616.0,834.7 L616.6,834.6 L617.2,834.1 L617.8,834.4 L618.4,834.4 L619.0,834.2 L619.6,833.7 L620.1,833.4 L620.7,833.3 L621.3,833.5 L621.9,833.3 L622.5,833.5 L623.1,833.4 L623.7,833.2 L624.3,832.8 L624.8,832.5 L625.4,832.3 L626.0,832.4 L626.6,832.8 L627.2,832.9 L627.8,832.8 L628.4,832.7 L629.0,832.9 L629.5,833.1 L630.1,833.2 L630.7,833.1 L631.3,832.8 L631.9,832.3 L632.5,832.0 L633.1,832.0 L633.7,832.3 L634.3,832.2 L634.8,831.8 L635.4,831.6 L636.0,831.8 L636.6,831.9 L637.2,832.2 L637.8,831.9 L638.4,831.8 L639.0,831.5 L639.5,831.3 L640.1,831.0 L640.7,830.9 L641.3,830.6 L641.9,830.6 L642.5,830.2 L643.1,830.4 L643.7,830.3 L644.2,830.2 L644.8,829.8 L645.4,829.9 L646.0,829.6 L646.6,829.9 L647.2,829.7 L647.8,829.7 L648.4,828.8 L649.0,829.1 L649.5,829.3 L650.1,829.7 L650.7,829.2 L651.3,829.1 L651.9,828.8 L652.5,828.8 L653.1,828.5 L653.7,828.7 L654.2,828.5 L654.8,828.4 L655.4,827.8 L656.0,827.6 L656.6,827.2 L657.2,827.3 L657.8,827.4 L658.4,827.5 L658.9,827.6 L659.5,827.6 L660.1,827.7 L660.7,827.2 L661.3,826.7 L661.9,826.8 L662.5,826.8 L663.1,826.7 L663.7,826.3 L664.2,826.4 L664.8,826.5 L665.4,826.1 L666.0,825.8 L666.6,825.8 L667.2,825.5 L667.8,825.2 L668.4,825.1 L668.9,825.2 L669.5,825.0 L670.1,824.7 L670.7,824.7 L671.3,824.6 L671.9,824.4 L672.5,824.1 L673.1,823.8 L673.6,823.6 L674.2,823.5 L674.8,823.6 L675.4,823.8 L676.0,824.2 L676.6,824.1 L677.2,824.1 L677.8,823.8 L678.4,823.4 L678.9,822.8 L679.5,822.5 L680.1,822.5 L680.7,822.6 L681.3,822.5 L681.9,822.5 L682.5,822.6 L683.1,822.8 L683.6,822.6 L684.2,822.4 L684.8,822.1 L685.4,821.9 L686.0,821.5 L686.6,821.3 L687.2,821.1 L687.8,821.4 L688.3,821.2 L688.9,821.4 L689.5,821.2 L690.1,821.1 L690.7,820.7 L691.3,821.0 L691.9,821.0 L692.5,820.9 L693.1,820.4 L693.6,820.5 L694.2,820.8 L694.8,821.1 L695.4,820.7 L696.0,820.3 L696.6,820.1 L697.2,820.4 L697.8,820.4 L698.3,820.6 L698.9,820.1 L699.5,820.2 L700.1,820.0 L700.7,820.3 L701.3,820.1 L701.9,819.8 L702.5,819.5 L703.0,819.4 L703.6,819.4 L704.2,819.2 L704.8,818.9 L705.4,818.8 L706.0,818.8 L706.6,818.8 L707.2,818.9 L707.8,819.0 L708.3,819.3 L708.9,819.3 L709.5,818.9 L710.1,818.7 L710.7,818.8 L711.3,819.1 L711.9,818.9 L712.5,818.6 L713.0,818.6 L713.6,818.6 L714.2,818.7 L714.8,818.6 L715.4,818.7 L716.0,818.7 L716.6,818.7 L717.2,818.5 L717.7,818.5 L718.3,818.5 L718.9,818.5 L719.5,818.3 L720.1,818.2 L720.7,818.4 L721.3,818.7 L721.9,818.8 L722.4,818.7 L723.0,818.7 L723.6,818.7 L724.2,818.5 L724.8,818.0 L725.4,818.0 L726.0,818.1 L726.6,818.5 L727.2,818.4 L727.7,818.5 L728.3,818.0 L728.9,818.2 L729.5,817.9 L730.1,818.3 L730.7,818.4 L731.3,818.6 L731.9,818.5 L732.4,818.1 L733.0,818.1 L733.6,818.1 L734.2,818.5 L734.8,818.8 L735.4,818.8 L736.0,818.7 L736.6,818.8 L737.1,819.0 L737.7,819.0 L738.3,819.0 L738.9,819.0 L739.5,819.1 L740.1,819.2 L740.7,819.0 L741.3,818.8 L741.9,818.7 L742.4,819.2 L743.0,819.4 L743.6,819.5 L744.2,819.4 L744.8,819.5 L745.4,819.6 L746.0,819.3 L746.6,819.2 L747.1,819.2 L747.7,819.6 L748.3,819.9 L748.9,820.1 L749.5,820.3 L750.1,820.3 L750.7,820.0 L751.3,819.7 L751.8,819.8 L752.4,820.0 L753.0,820.6 L753.6,821.1 L754.2,821.3 L754.8,821.0 L755.4,820.5 L756.0,820.6 L756.6,821.0 L757.1,821.4 L757.7,821.5 L758.3,821.5 L758.9,821.6 L759.5,821.6 L760.1,821.6 L760.7,821.7 L761.3,821.6 L761.8,821.5 L762.4,821.5 L763.0,822.0 L763.6,822.1 L764.2,822.5 L764.8,822.3 L765.4,822.6 L766.0,822.6 L766.5,823.0 L767.1,823.2 L767.7,823.6 L768.3,823.6 L768.9,823.7 L769.5,823.7 L770.1,823.7 L770.7,823.7 L771.3,823.8 L771.8,824.1 L772.4,824.4 L773.0,823.9 L773.6,823.9 L774.2,824.1 L774.8,824.6 L775.4,824.7 L776.0,824.7 L776.5,824.8 L777.1,824.8 L777.7,824.5 L778.3,824.2 L778.9,824.5 L779.5,825.1 L780.1,825.7 L780.7,825.9 L781.2,826.2 L781.8,826.2 L782.4,826.7 L783.0,826.4 L783.6,826.3 L784.2,826.3 L784.8,826.6 L785.4,826.7 L786.0,826.8 L786.5,826.9 L787.1,827.5 L787.7,827.3 L788.3,827.8 L788.9,827.4 L789.5,828.0 L790.1,828.0 L790.7,828.0 L791.2,827.5 L791.8,827.7 L792.4,828.0 L793.0,828.4 L793.6,828.6 L794.2,828.8 L794.8,829.0 L795.4,829.0 L795.9,829.2 L796.5,829.0 L797.1,829.0 L797.7,829.1 L798.3,829.5 L798.9,829.7 L799.5,829.9 L800.1,829.8 L800.7,830.0 L801.2,830.2 L801.8,830.2 L802.4,830.5 L803.0,830.4 L803.6,830.5 L804.2,830.3 L804.8,830.3 L805.4,830.3 L805.9,830.4 L806.5,830.5 L807.1,830.8 L807.7,831.1 L808.3,831.3 L808.9,831.5 L809.5,831.2 L810.1,831.3 L810.6,831.5 L811.2,831.6 L811.8,831.6 L812.4,831.5 L813.0,831.9 L813.6,831.9 L814.2,832.3 L814.8,832.2 L815.4,832.7 L815.9,832.4 L816.5,832.9 L817.1,832.6 L817.7,833.2 L818.3,832.5 L818.9,832.7 L819.5,832.8 L820.1,833.1 L820.6,833.0 L821.2,832.8 L821.8,832.8 L822.4,833.4 L823.0,833.8 L823.6,833.8 L824.2,833.4 L824.8,833.2 L825.3,833.5 L825.9,833.7 L826.5,833.9 L827.1,833.7 L827.7,833.5 L828.3,833.6 L828.9,833.5 L829.5,833.8 L830.1,833.7 L830.6,834.2 L831.2,834.5 L831.8,834.4 L832.4,834.3 L833.0,833.9 L833.6,834.0 L834.2,834.1 L834.8,834.5 L835.3,834.7 L835.9,834.6 L836.5,835.0 L837.1,835.0 L837.7,835.0 L838.3,834.9 L838.9,835.0 L839.5,835.1 L840.0,834.5 L840.6,834.4 L841.2,834.5 L841.8,834.9 L842.4,835.3 L843.0,835.0 L843.6,835.0 L844.2,834.5 L844.8,834.6 L845.3,834.4 L845.9,834.3 L846.5,834.5 L847.1,834.8 L847.7,835.0 L848.3,834.8 L848.9,834.9 L849.5,834.9 L850.0,834.9 L850.6,834.6 L851.2,834.6 L851.8,834.5 L852.4,834.5 L853.0,834.3 L853.6,834.4 L854.2,834.8 L854.7,834.8 L855.3,834.9 L855.9,834.6 L856.5,834.6 L857.1,834.7 L857.7,834.6 L858.3,834.7 L858.9,834.3 L859.5,834.3 L860.0,834.1 L860.6,834.4 L861.2,834.5 L861.8,834.6 L862.4,833.8 L863.0,833.5 L863.6,833.3 L864.2,833.4 L864.7,833.5 L865.3,833.5 L865.9,833.8 L866.5,833.7 L867.1,834.0 L867.7,834.1 L868.3,833.9 L868.9,833.3 L869.4,832.9 L870.0,833.1 L870.6,832.9 L871.2,832.7 L871.8,832.8 L872.4,832.9 L873.0,832.8 L873.6,832.6 L874.2,832.9 L874.7,833.0 L875.3,832.8 L875.9,832.3 L876.5,832.2 L877.1,832.2 L877.7,832.2 L878.3,831.9 L878.9,832.1 L879.4,832.1 L880.0,832.0 L880.6,831.5 L881.2,831.3 L881.8,831.2 L882.4,831.2 L883.0,831.2 L883.6,831.0 L884.1,831.1 L884.7,831.0 L885.3,831.1 L885.9,830.8 L886.5,830.4 L887.1,830.5 L887.7,830.7 L888.3,830.6 L888.9,830.3 L889.4,830.1 L890.0,830.2 L890.6,829.9 L891.2,829.5 L891.8,829.7 L892.4,829.9 L893.0,829.7 L893.6,829.3 L894.1,829.4 L894.7,829.7 L895.3,829.3 L895.9,829.0 L896.5,828.6 L897.1,828.8 L897.7,828.4 L898.3,828.5 L898.8,828.1 L899.4,828.1 L900.0,828.0 L900.6,828.4 L901.2,828.1 L901.8,827.8 L902.4,827.1 L903.0,827.0 L903.6,827.1 L904.1,827.0 L904.7,827.3 L905.3,827.3 L905.9,827.3 L906.5,827.3 L907.1,826.7 L907.7,826.7 L908.3,826.2 L908.8,826.3 L909.4,826.1 L910.0,825.9 L910.6,825.8 L911.2,825.9 L911.8,825.8 L912.4,825.7 L913.0,825.3 L913.5,825.5 L914.1,825.2 L914.7,825.1 L915.3,824.7 L915.9,824.7 L916.5,824.4 L917.1,824.4 L917.7,824.2 L918.2,824.3 L918.8,824.0 L919.4,823.5 L920.0,823.6 L920.6,823.8 L921.2,824.4 L921.8,824.3 L922.4,823.9 L923.0,823.2 L923.5,822.9 L924.1,822.6 L924.7,822.6 L925.3,822.7 L925.9,822.3 L926.5,821.7 L927.1,821.6 L927.7,821.9 L928.2,822.3 L928.8,821.8 L929.4,821.5 L930.0,821.7 L930.6,821.9 L931.2,822.1 L931.8,821.6 L932.4,821.6 L932.9,821.4 L933.5,821.5 L934.1,821.1 L934.7,821.1 L935.3,820.7 L935.9,821.0 L936.5,820.8 L937.1,820.8 L937.7,820.4 L938.2,820.4 L938.8,820.7 L939.4,820.7 L940.0,820.8 L940.6,820.4 L941.2,820.1 L941.8,819.7 L942.4,819.7 L942.9,819.8 L943.5,820.0 L944.1,820.2 L944.7,820.0 L945.3,820.0 L945.9,820.1 L946.5,820.0 L947.1,819.4 L947.6,819.0 L948.2,818.8 L948.8,819.1 L949.4,819.3 L950.0,819.3 L950.6,819.3 L951.2,819.1 L951.8,819.2 L952.4,818.8 L952.9,819.0 L953.5,818.9 L954.1,819.3 L954.7,819.1 L955.3,818.8 L955.9,818.3 L956.5,818.1 L957.1,818.5 L957.6,818.6 L958.2,818.7 L958.8,818.8 L959.4,818.8 L960.0,818.9 L960.6,818.5 L961.2,818.4 L961.8,818.1 L962.3,818.3 L962.9,818.4 L963.5,818.5 L964.1,818.3 L964.7,818.3 L965.3,818.1 L965.9,818.3 L966.5,818.3 L967.1,818.2 L967.6,818.1 L968.2,817.9 L968.8,817.9 L969.4,818.0 L970.0,818.4 L970.6,819.2 L971.2,819.2 L971.8,818.9 L972.3,818.5 L972.9,818.4 L973.5,818.2 L974.1,818.0 L974.7,818.2 L975.3,818.8 L975.9,818.9 L976.5,818.8 L977.0,818.3 L977.6,818.6 L978.2,818.8 L978.8,819.5 L979.4,819.4 L980.0,819.1 L980.6,818.6 L981.2,818.5 L981.8,818.9 L982.3,819.1 L982.9,819.3 L983.5,819.3 L984.1,819.0 L984.7,819.0 L985.3,818.9 L985.9,819.5 L986.5,819.2 L987.0,819.4 L987.6,819.5 L988.2,819.5 L988.8,819.6 L989.4,819.7 L990.0,820.1 L990.6,820.3 L991.2,820.6 L991.7,820.5 L992.3,820.5 L992.9,820.4 L993.5,820.3 L994.1,820.1 L994.7,820.3 L995.3,820.4 L995.9,820.5 L996.5,820.5 L997.0,820.4 L997.6,820.6 L998.2,820.6 L998.8,821.0 L999.4,820.9 L1000.0,820.9 L1000.6,821.1 L1001.2,821.3 L1001.7,821.4 L1002.3,821.5 L1002.9,821.6 L1003.5,821.6 L1004.1,821.5 L1004.7,821.6 L1005.3,821.9 L1005.9,821.9 L1006.4,822.2 L1007.0,822.2 L1007.6,822.5 L1008.2,822.6 L1008.8,822.7" fill="none" stroke="#8a2a8a" stroke-width="1.8" stroke-linejoin="round" stroke-linecap="round" />
<path d="M421.4,832.5 L422.0,810.3 L422.6,808.6 L423.2,819.6 L423.8,832.5 L424.3,845.6 L424.9,859.5 L425.5,868.0 L426.1,866.5 L426.7,859.0 L427.3,849.6 L427.9,842.7 L428.5,838.4 L429.0,834.5 L429.6,831.1 L430.2,828.6 L430.8,827.3 L431.4,826.7 L432.0,826.1 L432.6,825.7 L433.2,825.3 L433.7,825.0 L434.3,824.7 L434.9,824.5 L435.5,824.3 L436.1,824.2 L436.7,824.1 L437.3,824.1 L437.9,824.0 L438.5,824.0 L439.0,823.9 L439.6,823.4 L440.2,823.4 L440.8,823.9 L441.4,823.3 L442.0,822.8 L442.6,822.8 L443.2,823.4 L443.7,823.9 L444.3,823.8 L444.9,823.5 L445.5,823.9 L446.1,823.4 L446.7,823.6 L447.3,823.2 L447.9,823.2 L448.4,822.6 L449.0,822.8 L449.6,822.6 L450.2,822.5 L450.8,822.0 L451.4,821.6 L452.0,822.0 L452.6,821.9 L453.2,822.1 L453.7,821.9 L454.3,821.1 L454.9,821.0 L455.5,819.9 L456.1,820.6 L456.7,820.7 L457.3,820.6 L457.9,820.4 L458.4,819.5 L459.0,820.0 L459.6,819.2 L460.2,819.2 L460.8,818.8 L461.4,819.3 L462.0,819.8 L462.6,819.3 L463.1,818.8 L463.7,818.3 L464.3,818.6 L464.9,818.6 L465.5,818.8 L466.1,819.2 L466.7,819.0 L467.3,818.8 L467.9,819.1 L468.4,819.3 L469.0,819.0 L469.6,817.6 L470.2,818.0 L470.8,818.3 L471.4,818.7 L472.0,818.0 L472.6,818.2 L473.1,818.2 L473.7,818.6 L474.3,818.4 L474.9,818.7 L475.5,818.5 L476.1,818.6 L476.7,818.3 L477.3,818.4 L477.8,817.9 L478.4,817.4 L479.0,817.4 L479.6,818.0 L480.2,818.7 L480.8,818.8 L481.4,819.1 L482.0,819.1 L482.6,819.0 L483.1,818.2 L483.7,818.2 L484.3,817.8 L484.9,817.8 L485.5,818.0 L486.1,818.4 L486.7,818.9 L487.3,818.9 L487.8,818.5 L488.4,818.5 L489.0,818.6 L489.6,819.1 L490.2,818.5 L490.8,818.5 L491.4,818.3 L492.0,819.2 L492.5,819.0 L493.1,819.3 L493.7,819.2 L494.3,820.1 L494.9,820.4 L495.5,820.2 L496.1,819.2 L496.7,819.3 L497.3,819.4 L497.8,819.6 L498.4,818.1 L499.0,818.5 L499.6,818.9 L500.2,820.3 L500.8,819.8 L501.4,819.2 L502.0,819.0 L502.5,818.9 L503.1,818.6 L503.7,818.7 L504.3,819.1 L504.9,820.0 L505.5,820.1 L506.1,820.5 L506.7,820.6 L507.2,820.9 L507.8,820.9 L508.4,820.6 L509.0,820.6 L509.6,820.8 L510.2,821.5 L510.8,821.1 L511.4,821.1 L512.0,820.5 L512.5,820.8 L513.1,821.4 L513.7,821.6 L514.3,821.7 L514.9,820.9 L515.5,821.0 L516.1,821.9 L516.7,823.0 L517.2,823.4 L517.8,822.8 L518.4,823.0 L519.0,823.3 L519.6,822.7 L520.2,821.8 L520.8,822.1 L521.4,822.5 L521.9,822.5 L522.5,822.4 L523.1,822.0 L523.7,822.7 L524.3,822.0 L524.9,822.2 L525.5,821.9 L526.1,822.7 L526.6,823.3 L527.2,823.9 L527.8,823.8 L528.4,823.5 L529.0,823.0 L529.6,823.3 L530.2,823.9 L530.8,824.6 L531.4,825.0 L531.9,825.7 L532.5,825.3 L533.1,825.5 L533.7,824.8 L534.3,825.4 L534.9,824.7 L535.5,824.6 L536.1,823.9 L536.6,824.2 L537.2,824.9 L537.8,825.7 L538.4,826.4 L539.0,826.4 L539.6,825.8 L540.2,826.0 L540.8,825.4 L541.3,826.3 L541.9,826.5 L542.5,827.3 L543.1,826.9 L543.7,826.7 L544.3,827.3 L544.9,827.2 L545.5,827.6 L546.1,827.0 L546.6,827.7 L547.2,827.6 L547.8,828.0 L548.4,828.6 L549.0,829.0 L549.6,829.0 L550.2,829.1 L550.8,829.1 L551.3,828.8 L551.9,828.0 L552.5,827.5 L553.1,827.8 L553.7,828.6 L554.3,829.0 L554.9,829.7 L555.5,830.7 L556.0,830.8 L556.6,830.6 L557.2,829.4 L557.8,830.0 L558.4,829.8 L559.0,830.4 L559.6,830.6 L560.2,831.1 L560.8,830.8 L561.3,830.4 L561.9,830.3 L562.5,831.0 L563.1,831.0 L563.7,830.9 L564.3,831.0 L564.9,831.1 L565.5,832.0 L566.0,831.7 L566.6,832.5 L567.2,832.0 L567.8,832.2 L568.4,832.1 L569.0,832.3 L569.6,832.7 L570.2,832.4 L570.7,832.9 L571.3,832.5 L571.9,832.8 L572.5,832.0 L573.1,832.2 L573.7,831.9 L574.3,832.9 L574.9,833.8 L575.5,834.4 L576.0,833.4 L576.6,833.1 L577.2,832.4 L577.8,832.7 L578.4,832.7 L579.0,833.2 L579.6,833.3 L580.2,833.2 L580.7,833.4 L581.3,834.1 L581.9,834.0 L582.5,834.0 L583.1,833.4 L583.7,833.4 L584.3,833.0 L584.9,833.5 L585.4,832.8 L586.0,833.3 L586.6,833.4 L587.2,834.6 L587.8,835.1 L588.4,835.4 L589.0,835.1 L589.6,834.9 L590.2,834.4 L590.7,835.1 L591.3,835.3 L591.9,835.5 L592.5,834.9 L593.1,834.7 L593.7,834.5 L594.3,834.2 L594.9,833.7 L595.4,834.5 L596.0,834.6 L596.6,834.8 L597.2,834.5 L597.8,834.7 L598.4,834.9 L599.0,834.3 L599.6,834.7 L600.1,834.1 L600.7,834.4 L601.3,833.5 L601.9,833.7 L602.5,833.7 L603.1,834.4 L603.7,834.7 L604.3,835.2 L604.9,834.8 L605.4,834.9 L606.0,834.2 L606.6,834.4 L607.2,834.6 L607.8,835.3 L608.4,834.9 L609.0,834.6 L609.6,834.2 L610.1,835.1 L610.7,834.7 L611.3,834.6 L611.9,833.9 L612.5,833.7 L613.1,834.3 L613.7,835.0 L614.3,835.7 L614.8,835.0 L615.4,834.3 L616.0,833.5 L616.6,833.9 L617.2,833.7 L617.8,834.5 L618.4,834.1 L619.0,834.7 L619.6,834.2 L620.1,834.1 L620.7,833.4 L621.3,833.2 L621.9,833.5 L622.5,833.3 L623.1,832.8 L623.7,832.9 L624.3,833.2 L624.8,833.5 L625.4,832.9 L626.0,832.7 L626.6,832.4 L627.2,832.7 L627.8,832.9 L628.4,832.6 L629.0,832.4 L629.5,833.0 L630.1,833.4 L630.7,833.3 L631.3,832.7 L631.9,832.8 L632.5,833.0 L633.1,832.6 L633.7,832.5 L634.3,832.1 L634.8,831.6 L635.4,830.9 L636.0,830.6 L636.6,831.0 L637.2,830.8 L637.8,831.1 L638.4,830.6 L639.0,831.3 L639.5,830.8 L640.1,831.2 L640.7,830.7 L641.3,830.6 L641.9,830.3 L642.5,830.4 L643.1,830.7 L643.7,830.2 L644.2,829.6 L644.8,829.2 L645.4,829.7 L646.0,830.1 L646.6,829.9 L647.2,829.4 L647.8,829.4 L648.4,829.7 L649.0,829.6 L649.5,828.9 L650.1,828.5 L650.7,829.0 L651.3,828.7 L651.9,828.6 L652.5,827.9 L653.1,829.1 L653.7,829.2 L654.2,829.4 L654.8,828.4 L655.4,828.3 L656.0,828.7 L656.6,829.2 L657.2,828.9 L657.8,828.2 L658.4,827.4 L658.9,827.8 L659.5,828.0 L660.1,828.0 L660.7,827.0 L661.3,826.4 L661.9,826.2 L662.5,826.9 L663.1,826.6 L663.7,826.6 L664.2,825.9 L664.8,826.3 L665.4,826.3 L666.0,826.3 L666.6,826.1 L667.2,826.2 L667.8,825.7 L668.4,825.2 L668.9,824.9 L669.5,825.3 L670.1,825.8 L670.7,825.6 L671.3,824.7 L671.9,824.3 L672.5,823.5 L673.1,824.3 L673.6,824.5 L674.2,825.3 L674.8,825.0 L675.4,824.4 L676.0,823.4 L676.6,823.3 L677.2,823.1 L677.8,823.2 L678.4,822.0 L678.9,821.9 L679.5,821.9 L680.1,822.2 L680.7,822.1 L681.3,822.1 L681.9,822.6 L682.5,822.8 L683.1,823.1 L683.6,822.5 L684.2,821.6 L684.8,821.2 L685.4,821.9 L686.0,821.8 L686.6,821.8 L687.2,820.8 L687.8,821.1 L688.3,821.4 L688.9,821.9 L689.5,822.0 L690.1,821.0 L690.7,821.6 L691.3,821.5 L691.9,822.0 L692.5,821.8 L693.1,821.4 L693.6,821.0 L694.2,819.9 L694.8,819.7 L695.4,819.9 L696.0,819.8 L696.6,820.1 L697.2,820.0 L697.8,820.1 L698.3,819.9 L698.9,819.7 L699.5,819.9 L700.1,819.9 L700.7,820.2 L701.3,819.9 L701.9,819.6 L702.5,819.6 L703.0,819.1 L703.6,818.5 L704.2,818.0 L704.8,818.4 L705.4,819.2 L706.0,819.4 L706.6,819.4 L707.2,818.9 L707.8,818.8 L708.3,818.4 L708.9,818.4 L709.5,818.6 L710.1,819.2 L710.7,819.7 L711.3,819.9 L711.9,819.4 L712.5,818.6 L713.0,818.5 L713.6,818.2 L714.2,818.7 L714.8,817.9 L715.4,817.3 L716.0,816.9 L716.6,817.2 L717.2,817.7 L717.7,817.6 L718.3,817.8 L718.9,818.2 L719.5,818.6 L720.1,817.9 L720.7,817.9 L721.3,817.6 L721.9,817.8 L722.4,817.6 L723.0,818.3 L723.6,819.1 L724.2,819.4 L724.8,819.1 L725.4,818.3 L726.0,818.2 L726.6,818.4 L727.2,818.9 L727.7,817.9 L728.3,818.2 L728.9,818.5 L729.5,819.0 L730.1,818.9 L730.7,818.1 L731.3,818.7 L731.9,818.0 L732.4,817.9 L733.0,817.8 L733.6,818.2 L734.2,819.1 L734.8,818.7 L735.4,818.8 L736.0,818.8 L736.6,819.0 L737.1,818.8 L737.7,818.6 L738.3,818.9 L738.9,818.7 L739.5,819.0 L740.1,819.2 L740.7,819.7 L741.3,819.3 L741.9,819.2 L742.4,819.4 L743.0,820.0 L743.6,820.2 L744.2,820.3 L744.8,819.3 L745.4,819.7 L746.0,819.7 L746.6,820.4 L747.1,820.2 L747.7,820.5 L748.3,820.4 L748.9,819.7 L749.5,819.0 L750.1,819.3 L750.7,820.0 L751.3,820.2 L751.8,820.9 L752.4,821.1 L753.0,820.9 L753.6,820.3 L754.2,820.0 L754.8,820.7 L755.4,821.0 L756.0,821.5 L756.6,821.3 L757.1,821.1 L757.7,820.7 L758.3,821.8 L758.9,821.7 L759.5,821.6 L760.1,820.4 L760.7,821.1 L761.3,822.2 L761.8,823.3 L762.4,823.5 L763.0,822.2 L763.6,822.1 L764.2,822.1 L764.8,822.5 L765.4,822.1 L766.0,821.7 L766.5,822.3 L767.1,822.1 L767.7,822.4 L768.3,822.6 L768.9,823.3 L769.5,824.0 L770.1,824.3 L770.7,824.7 L771.3,824.8 L771.8,824.6 L772.4,824.8 L773.0,824.6 L773.6,824.9 L774.2,824.4 L774.8,824.7 L775.4,824.7 L776.0,825.5 L776.5,825.5 L777.1,825.9 L777.7,825.0 L778.3,825.0 L778.9,824.4 L779.5,825.3 L780.1,825.8 L780.7,826.4 L781.2,826.6 L781.8,826.7 L782.4,826.6 L783.0,826.0 L783.6,825.6 L784.2,825.4 L784.8,825.7 L785.4,826.5 L786.0,826.3 L786.5,827.4 L787.1,826.2 L787.7,826.9 L788.3,826.4 L788.9,826.3 L789.5,826.2 L790.1,827.1 L790.7,828.6 L791.2,829.5 L791.8,828.7 L792.4,828.1 L793.0,827.5 L793.6,827.8 L794.2,827.6 L794.8,828.4 L795.4,829.3 L795.9,830.1 L796.5,829.6 L797.1,829.4 L797.7,830.1 L798.3,830.7 L798.9,830.2 L799.5,829.4 L800.1,829.4 L800.7,830.0 L801.2,830.9 L801.8,831.0 L802.4,830.3 L803.0,829.8 L803.6,829.4 L804.2,830.6 L804.8,830.6 L805.4,831.5 L805.9,831.2 L806.5,831.8 L807.1,831.3 L807.7,831.5 L808.3,831.8 L808.9,832.1 L809.5,832.0 L810.1,831.8 L810.6,832.2 L811.2,832.1 L811.8,831.5 L812.4,831.4 L813.0,832.0 L813.6,832.2 L814.2,832.0 L814.8,831.1 L815.4,831.0 L815.9,831.3 L816.5,831.8 L817.1,832.1 L817.7,833.1 L818.3,833.7 L818.9,833.8 L819.5,833.2 L820.1,833.1 L820.6,833.4 L821.2,833.8 L821.8,834.0 L822.4,834.1 L823.0,834.3 L823.6,834.9 L824.2,834.9 L824.8,834.6 L825.3,834.4 L825.9,834.4 L826.5,834.5 L827.1,834.7 L827.7,834.9 L828.3,835.3 L828.9,834.9 L829.5,835.1 L830.1,834.8 L830.6,835.7 L831.2,834.8 L831.8,834.6 L832.4,834.2 L833.0,834.9 L833.6,834.4 L834.2,834.2 L834.8,834.7 L835.3,835.3 L835.9,835.5 L836.5,834.9 L837.1,834.8 L837.7,835.2 L838.3,835.3 L838.9,835.0 L839.5,834.0 L840.0,833.9 L840.6,833.6 L841.2,833.6 L841.8,833.5 L842.4,833.6 L843.0,834.9 L843.6,834.8 L844.2,834.8 L844.8,834.0 L845.3,834.1 L845.9,834.8 L846.5,834.9 L847.1,835.2 L847.7,835.3 L848.3,835.3 L848.9,835.9 L849.5,835.6 L850.0,834.9 L850.6,833.6 L851.2,833.6 L851.8,833.5 L852.4,834.0 L853.0,834.4 L853.6,835.2 L854.2,835.3 L854.7,834.9 L855.3,834.4 L855.9,834.6 L856.5,834.7 L857.1,834.5 L857.7,834.2 L858.3,833.9 L858.9,834.2 L859.5,834.0 L860.0,833.8 L860.6,834.0 L861.2,833.8 L861.8,834.2 L862.4,833.8 L863.0,834.2 L863.6,833.7 L864.2,833.7 L864.7,833.3 L865.3,833.4 L865.9,833.5 L866.5,833.6 L867.1,833.6 L867.7,833.7 L868.3,834.3 L868.9,834.0 L869.4,833.2 L870.0,832.9 L870.6,832.9 L871.2,833.5 L871.8,833.0 L872.4,832.8 L873.0,832.4 L873.6,832.4 L874.2,833.3 L874.7,833.4 L875.3,833.3 L875.9,832.1 L876.5,832.2 L877.1,832.1 L877.7,832.4 L878.3,831.6 L878.9,831.9 L879.4,831.6 L880.0,832.0 L880.6,831.7 L881.2,832.3 L881.8,832.5 L882.4,831.9 L883.0,831.5 L883.6,831.4 L884.1,831.7 L884.7,831.0 L885.3,830.2 L885.9,829.7 L886.5,829.7 L887.1,829.7 L887.7,830.0 L888.3,830.6 L888.9,830.3 L889.4,830.1 L890.0,829.6 L890.6,830.0 L891.2,829.7 L891.8,829.2 L892.4,829.0 L893.0,829.0 L893.6,829.4 L894.1,828.9 L894.7,828.8 L895.3,828.7 L895.9,829.0 L896.5,828.9 L897.1,829.0 L897.7,828.4 L898.3,828.4 L898.8,827.4 L899.4,827.8 L900.0,828.0 L900.6,828.1 L901.2,827.5 L901.8,827.5 L902.4,826.8 L903.0,827.0 L903.6,826.0 L904.1,826.9 L904.7,826.5 L905.3,826.4 L905.9,826.3 L906.5,826.3 L907.1,826.2 L907.7,825.2 L908.3,824.9 L908.8,824.6 L909.4,824.9 L910.0,824.9 L910.6,825.1 L911.2,825.2 L911.8,825.9 L912.4,826.6 L913.0,826.3 L913.5,825.4 L914.1,824.6 L914.7,824.8 L915.3,825.1 L915.9,825.4 L916.5,824.7 L917.1,825.0 L917.7,823.9 L918.2,824.3 L918.8,822.7 L919.4,823.0 L920.0,822.9 L920.6,823.6 L921.2,823.8 L921.8,823.0 L922.4,823.0 L923.0,822.6 L923.5,823.3 L924.1,823.0 L924.7,823.5 L925.3,823.3 L925.9,823.0 L926.5,823.1 L927.1,822.6 L927.7,822.6 L928.2,821.7 L928.8,821.2 L929.4,821.1 L930.0,820.8 L930.6,821.8 L931.2,822.3 L931.8,822.5 L932.4,821.5 L932.9,821.2 L933.5,821.1 L934.1,821.8 L934.7,821.8 L935.3,821.5 L935.9,821.8 L936.5,821.7 L937.1,821.6 L937.7,820.7 L938.2,820.7 L938.8,820.9 L939.4,820.5 L940.0,820.5 L940.6,819.8 L941.2,819.9 L941.8,820.3 L942.4,820.8 L942.9,820.7 L943.5,819.7 L944.1,819.5 L944.7,819.6 L945.3,819.5 L945.9,818.9 L946.5,819.4 L947.1,819.9 L947.6,819.8 L948.2,819.0 L948.8,819.0 L949.4,819.0 L950.0,818.3 L950.6,818.0 L951.2,818.3 L951.8,818.9 L952.4,818.7 L952.9,818.5 L953.5,818.6 L954.1,818.7 L954.7,819.1 L955.3,819.5 L955.9,819.3 L956.5,818.9 L957.1,818.2 L957.6,818.3 L958.2,818.3 L958.8,818.6 L959.4,818.9 L960.0,819.0 L960.6,818.7 L961.2,817.7 L961.8,818.4 L962.3,818.4 L962.9,819.4 L963.5,818.2 L964.1,818.3 L964.7,817.6 L965.3,819.1 L965.9,819.3 L966.5,819.2 L967.1,818.6 L967.6,818.5 L968.2,818.5 L968.8,818.4 L969.4,818.1 L970.0,818.3 L970.6,818.5 L971.2,818.0 L971.8,817.7 L972.3,817.6 L972.9,818.3 L973.5,819.3 L974.1,819.6 L974.7,819.1 L975.3,818.9 L975.9,818.7 L976.5,818.6 L977.0,817.8 L977.6,817.6 L978.2,818.1 L978.8,818.6 L979.4,818.7 L980.0,818.8 L980.6,818.3 L981.2,818.1 L981.8,818.5 L982.3,818.5 L982.9,818.5 L983.5,817.9 L984.1,818.0 L984.7,818.1 L985.3,818.4 L985.9,818.4 L986.5,818.4 L987.0,818.6 L987.6,819.1 L988.2,819.5 L988.8,819.3 L989.4,819.3 L990.0,819.9 L990.6,819.8 L991.2,820.1 L991.7,820.1 L992.3,820.8 L992.9,820.6 L993.5,820.4 L994.1,821.0 L994.7,821.6 L995.3,822.2 L995.9,821.7 L996.5,821.3 L997.0,821.0 L997.6,820.2 L998.2,820.0 L998.8,819.4 L999.4,819.9 L1000.0,820.7 L1000.6,821.1 L1001.2,822.0 L1001.7,822.0 L1002.3,822.2 L1002.9,821.7 L1003.5,821.3 L1004.1,821.5 L1004.7,821.3 L1005.3,821.3 L1005.9,821.2 L1006.4,821.9 L1007.0,822.5 L1007.6,822.3 L1008.2,821.2 L1008.8,821.2" fill="none" stroke="#3030e0" stroke-width="1.8" stroke-linejoin="round" stroke-linecap="round" />
<path d="M421.4,832.5 L422.0,843.1 L422.6,843.4 L423.2,835.8 L423.8,830.9 L424.3,831.4 L424.9,832.5 L425.5,833.7 L426.1,834.5 L426.7,835.1 L427.3,835.7 L427.9,836.1 L428.5,836.5 L429.0,836.8 L429.6,836.9 L430.2,836.2 L430.8,834.3 L431.4,831.6 L432.0,828.6 L432.6,825.5 L433.2,822.9 L433.7,821.0 L434.3,820.3 L434.9,820.4 L435.5,820.7 L436.1,821.2 L436.7,821.7 L437.3,822.2 L437.9,822.7 L438.5,823.0 L439.0,823.1 L439.6,823.1 L440.2,823.4 L440.8,823.4 L441.4,823.7 L442.0,823.9 L442.6,823.9 L443.2,823.8 L443.7,823.9 L444.3,824.0 L444.9,824.0 L445.5,823.7 L446.1,823.5 L446.7,823.7 L447.3,823.5 L447.9,823.5 L448.4,823.3 L449.0,823.5 L449.6,823.4 L450.2,823.5 L450.8,823.2 L451.4,823.7 L452.0,823.8 L452.6,823.8 L453.2,823.8 L453.7,823.6 L454.3,823.4 L454.9,823.4 L455.5,823.5 L456.1,823.6 L456.7,823.4 L457.3,823.2 L457.9,823.2 L458.4,823.4 L459.0,824.0 L459.6,824.0 L460.2,823.5 L460.8,823.2 L461.4,822.9 L462.0,823.2 L462.6,819.1 L463.1,819.3 L463.7,819.0 L464.3,819.1 L464.9,819.1 L465.5,819.1 L466.1,819.2 L466.7,818.9 L467.3,819.0 L467.9,818.7 L468.4,819.0 L469.0,819.0 L469.6,818.9 L470.2,818.6 L470.8,818.4 L471.4,818.2 L472.0,818.3 L472.6,818.1 L473.1,818.4 L473.7,817.9 L474.3,818.2 L474.9,818.3 L475.5,818.7 L476.1,818.7 L476.7,818.8 L477.3,818.8 L477.8,818.7 L478.4,818.6 L479.0,818.6 L479.6,818.8 L480.2,818.4 L480.8,818.3 L481.4,818.0 L482.0,818.1 L482.6,818.2 L483.1,818.4 L483.7,818.6 L484.3,818.7 L484.9,818.7 L485.5,818.4 L486.1,818.4 L486.7,818.1 L487.3,818.2 L487.8,817.8 L488.4,818.2 L489.0,818.4 L489.6,818.9 L490.2,819.2 L490.8,819.0 L491.4,818.8 L492.0,818.5 L492.5,818.6 L493.1,818.6 L493.7,818.8 L494.3,818.8 L494.9,818.9 L495.5,818.7 L496.1,818.5 L496.7,818.6 L497.3,818.9 L497.8,819.1 L498.4,819.3 L499.0,819.2 L499.6,819.5 L500.2,819.6 L500.8,819.7 L501.4,819.6 L502.0,819.5 L502.5,819.3 L503.1,819.3 L503.7,819.6 L504.3,820.1 L504.9,819.9 L505.5,819.8 L506.1,819.7 L506.7,819.9 L507.2,819.9 L507.8,820.2 L508.4,820.1 L509.0,820.3 L509.6,820.2 L510.2,820.3 L510.8,820.8 L511.4,820.7 L512.0,820.6 L512.5,820.4 L513.1,820.8 L513.7,821.3 L514.3,821.3 L514.9,821.3 L515.5,821.6 L516.1,822.0 L516.7,822.4 L517.2,822.4 L517.8,822.5 L518.4,822.6 L519.0,822.5 L519.6,822.5 L520.2,822.2 L520.8,822.7 L521.4,822.7 L521.9,822.6 L522.5,822.5 L523.1,823.0 L523.7,823.7 L524.3,823.6 L524.9,823.5 L525.5,823.2 L526.1,823.5 L526.6,823.9 L527.2,824.1 L527.8,824.2 L528.4,824.2 L529.0,824.2 L529.6,824.4 L530.2,824.3 L530.8,824.8 L531.4,824.7 L531.9,825.0 L532.5,824.6 L533.1,824.6 L533.7,824.6 L534.3,824.8 L534.9,825.2 L535.5,825.3 L536.1,825.4 L536.6,825.4 L537.2,825.7 L537.8,825.8 L538.4,826.1 L539.0,825.8 L539.6,825.9 L540.2,826.0 L540.8,826.6 L541.3,826.7 L541.9,826.8 L542.5,826.7 L543.1,826.9 L543.7,826.9 L544.3,827.0 L544.9,827.1 L545.5,827.2 L546.1,827.4 L546.6,827.3 L547.2,827.5 L547.8,827.5 L548.4,827.8 L549.0,827.8 L549.6,828.3 L550.2,828.5 L550.8,829.0 L551.3,829.0 L551.9,829.2 L552.5,829.2 L553.1,829.4 L553.7,829.3 L554.3,829.4 L554.9,829.1 L555.5,829.3 L556.0,829.7 L556.6,829.8 L557.2,829.8 L557.8,829.3 L558.4,829.7 L559.0,830.4 L559.6,830.7 L560.2,831.0 L560.8,830.9 L561.3,831.2 L561.9,831.3 L562.5,831.1 L563.1,831.2 L563.7,831.5 L564.3,831.5 L564.9,831.5 L565.5,831.5 L566.0,831.7 L566.6,831.6 L567.2,831.8 L567.8,831.9 L568.4,831.9 L569.0,831.6 L569.6,832.2 L570.2,832.5 L570.7,832.9 L571.3,832.7 L571.9,832.7 L572.5,832.3 L573.1,832.5 L573.7,832.5 L574.3,832.7 L574.9,832.7 L575.5,833.2 L576.0,833.2 L576.6,833.1 L577.2,833.0 L577.8,833.3 L578.4,833.3 L579.0,833.3 L579.6,833.1 L580.2,833.2 L580.7,833.3 L581.3,833.7 L581.9,833.9 L582.5,834.1 L583.1,834.4 L583.7,834.5 L584.3,834.4 L584.9,834.0 L585.4,834.1 L586.0,834.3 L586.6,834.4 L587.2,834.0 L587.8,834.2 L588.4,834.3 L589.0,834.5 L589.6,834.6 L590.2,834.4 L590.7,834.5 L591.3,834.3 L591.9,834.5 L592.5,834.6 L593.1,835.0 L593.7,835.0 L594.3,834.7 L594.9,834.5 L595.4,834.5 L596.0,834.5 L596.6,834.5 L597.2,834.4 L597.8,834.6 L598.4,834.4 L599.0,834.9 L599.6,835.1 L600.1,835.3 L600.7,834.9 L601.3,834.4 L601.9,834.4 L602.5,834.5 L603.1,834.7 L603.7,834.7 L604.3,834.7 L604.9,834.9 L605.4,835.1 L606.0,835.1 L606.6,835.1 L607.2,835.0 L607.8,834.8 L608.4,834.6 L609.0,834.7 L609.6,835.1 L610.1,835.2 L610.7,835.0 L611.3,834.5 L611.9,834.4 L612.5,834.3 L613.1,834.3 L613.7,834.3 L614.3,834.5 L614.8,834.3 L615.4,834.1 L616.0,833.7 L616.6,834.0 L617.2,834.1 L617.8,834.2 L618.4,834.2 L619.0,834.3 L619.6,834.4 L620.1,834.5 L620.7,834.3 L621.3,834.4 L621.9,834.1 L622.5,833.8 L623.1,833.8 L623.7,833.9 L624.3,833.9 L624.8,833.7 L625.4,833.6 L626.0,833.4 L626.6,833.3 L627.2,833.0 L627.8,833.0 L628.4,833.0 L629.0,833.3 L629.5,833.0 L630.1,832.5 L630.7,832.2 L631.3,832.1 L631.9,832.4 L632.5,832.1 L633.1,832.0 L633.7,831.7 L634.3,831.9 L634.8,832.3 L635.4,831.6 L636.0,831.5 L636.6,831.3 L637.2,831.8 L637.8,831.8 L638.4,831.8 L639.0,831.4 L639.5,831.1 L640.1,831.0 L640.7,831.0 L641.3,831.2 L641.9,830.9 L642.5,831.3 L643.1,830.7 L643.7,830.6 L644.2,830.2 L644.8,830.2 L645.4,830.1 L646.0,829.9 L646.6,829.7 L647.2,829.5 L647.8,829.2 L648.4,829.2 L649.0,829.0 L649.5,829.0 L650.1,829.2 L650.7,829.3 L651.3,829.1 L651.9,829.2 L652.5,828.8 L653.1,828.6 L653.7,828.1 L654.2,828.1 L654.8,828.3 L655.4,828.2 L656.0,827.9 L656.6,827.5 L657.2,827.3 L657.8,827.5 L658.4,827.6 L658.9,827.5 L659.5,827.6 L660.1,827.5 L660.7,827.8 L661.3,827.6 L661.9,827.2 L662.5,826.7 L663.1,826.2 L663.7,826.3 L664.2,826.5 L664.8,826.4 L665.4,826.3 L666.0,825.9 L666.6,826.0 L667.2,825.9 L667.8,825.6 L668.4,825.4 L668.9,825.1 L669.5,825.3 L670.1,825.6 L670.7,825.5 L671.3,825.3 L671.9,824.9 L672.5,824.7 L673.1,824.4 L673.6,824.1 L674.2,823.9 L674.8,824.2 L675.4,823.8 L676.0,823.8 L676.6,823.5 L677.2,823.8 L677.8,823.8 L678.4,823.5 L678.9,823.1 L679.5,823.0 L680.1,823.4 L680.7,823.7 L681.3,823.4 L681.9,823.1 L682.5,822.7 L683.1,822.4 L683.6,822.3 L684.2,822.3 L684.8,822.3 L685.4,822.0 L686.0,821.5 L686.6,821.4 L687.2,821.5 L687.8,821.6 L688.3,821.6 L688.9,821.3 L689.5,821.2 L690.1,821.1 L690.7,820.9 L691.3,821.2 L691.9,820.9 L692.5,820.6 L693.1,820.4 L693.6,820.5 L694.2,820.7 L694.8,820.9 L695.4,820.9 L696.0,820.6 L696.6,819.9 L697.2,820.0 L697.8,819.9 L698.3,820.1 L698.9,819.8 L699.5,819.9 L700.1,819.8 L700.7,820.0 L701.3,819.8 L701.9,819.8 L702.5,819.4 L703.0,819.6 L703.6,819.3 L704.2,819.2 L704.8,819.0 L705.4,819.3 L706.0,819.4 L706.6,819.3 L707.2,818.9 L707.8,818.8 L708.3,818.7 L708.9,818.7 L709.5,819.1 L710.1,819.1 L710.7,819.1 L711.3,818.6 L711.9,818.5 L712.5,818.4 L713.0,818.7 L713.6,818.6 L714.2,818.7 L714.8,818.9 L715.4,818.8 L716.0,819.0 L716.6,818.6 L717.2,818.6 L717.7,818.4 L718.3,818.5 L718.9,818.6 L719.5,818.6 L720.1,818.6 L720.7,818.9 L721.3,818.6 L721.9,818.7 L722.4,818.5 L723.0,818.6 L723.6,818.5 L724.2,818.5 L724.8,818.7 L725.4,818.5 L726.0,818.3 L726.6,818.3 L727.2,818.6 L727.7,818.6 L728.3,818.5 L728.9,818.3 L729.5,818.4 L730.1,818.1 L730.7,817.8 L731.3,817.8 L731.9,818.5 L732.4,819.2 L733.0,819.4 L733.6,818.8 L734.2,818.5 L734.8,818.2 L735.4,818.3 L736.0,818.3 L736.6,818.4 L737.1,818.3 L737.7,818.5 L738.3,818.6 L738.9,818.8 L739.5,818.4 L740.1,818.5 L740.7,818.8 L741.3,818.9 L741.9,818.8 L742.4,819.2 L743.0,819.8 L743.6,820.1 L744.2,819.5 L744.8,819.4 L745.4,819.4 L746.0,819.7 L746.6,819.4 L747.1,819.7 L747.7,820.0 L748.3,820.6 L748.9,820.6 L749.5,820.5 L750.1,820.3 L750.7,820.3 L751.3,820.3 L751.8,820.2 L752.4,820.5 L753.0,820.6 L753.6,820.8 L754.2,821.0 L754.8,821.4 L755.4,821.4 L756.0,821.3 L756.6,820.7 L757.1,820.9 L757.7,821.2 L758.3,821.3 L758.9,821.3 L759.5,821.2 L760.1,821.3 L760.7,821.5 L761.3,821.5 L761.8,821.9 L762.4,822.4 L763.0,822.4 L763.6,822.4 L764.2,822.1 L764.8,822.3 L765.4,822.2 L766.0,822.4 L766.5,822.4 L767.1,822.7 L767.7,822.9 L768.3,823.3 L768.9,823.8 L769.5,824.0 L770.1,824.1 L770.7,823.8 L771.3,823.9 L771.8,823.6 L772.4,823.7 L773.0,823.9 L773.6,824.3 L774.2,824.7 L774.8,824.6 L775.4,824.5 L776.0,824.2 L776.5,824.8 L777.1,825.0 L777.7,825.5 L778.3,825.5 L778.9,825.6 L779.5,825.7 L780.1,825.5 L780.7,825.6 L781.2,825.8 L781.8,825.7 L782.4,825.8 L783.0,825.8 L783.6,826.2 L784.2,826.0 L784.8,826.6 L785.4,827.0 L786.0,827.7 L786.5,827.4 L787.1,827.3 L787.7,827.0 L788.3,827.0 L788.9,827.4 L789.5,827.7 L790.1,827.8 L790.7,827.8 L791.2,827.8 L791.8,828.0 L792.4,827.7 L793.0,828.1 L793.6,828.1 L794.2,828.5 L794.8,828.3 L795.4,828.5 L795.9,828.7 L796.5,829.0 L797.1,829.1 L797.7,829.3 L798.3,829.1 L798.9,829.4 L799.5,829.6 L800.1,829.8 L800.7,829.9 L801.2,829.8 L801.8,830.0 L802.4,830.3 L803.0,830.4 L803.6,830.5 L804.2,830.4 L804.8,830.3 L805.4,830.8 L805.9,831.0 L806.5,831.1 L807.1,831.5 L807.7,831.3 L808.3,831.2 L808.9,831.0 L809.5,830.9 L810.1,831.4 L810.6,831.1 L811.2,831.5 L811.8,831.5 L812.4,832.2 L813.0,832.3 L813.6,832.7 L814.2,832.3 L814.8,832.7 L815.4,832.6 L815.9,832.6 L816.5,832.7 L817.1,832.8 L817.7,832.9 L818.3,832.6 L818.9,832.4 L819.5,832.6 L820.1,832.9 L820.6,833.3 L821.2,833.2 L821.8,833.3 L822.4,833.3 L823.0,833.6 L823.6,833.6 L824.2,833.7 L824.8,833.8 L825.3,833.8 L825.9,833.7 L826.5,833.9 L827.1,833.8 L827.7,834.1 L828.3,834.1 L828.9,834.2 L829.5,834.1 L830.1,834.3 L830.6,834.3 L831.2,834.3 L831.8,834.2 L832.4,834.3 L833.0,834.1 L833.6,834.0 L834.2,834.0 L834.8,834.3 L835.3,834.6 L835.9,834.7 L836.5,834.6 L837.1,834.9 L837.7,834.9 L838.3,834.9 L838.9,834.5 L839.5,834.8 L840.0,834.7 L840.6,834.8 L841.2,834.7 L841.8,834.9 L842.4,835.1 L843.0,835.1 L843.6,834.7 L844.2,834.7 L844.8,834.7 L845.3,834.9 L845.9,834.7 L846.5,834.6 L847.1,834.3 L847.7,834.5 L848.3,834.5 L848.9,834.9 L849.5,834.7 L850.0,834.5 L850.6,834.5 L851.2,834.5 L851.8,834.8 L852.4,834.8 L853.0,834.9 L853.6,834.6 L854.2,834.5 L854.7,834.7 L855.3,834.9 L855.9,834.9 L856.5,834.5 L857.1,834.2 L857.7,834.3 L858.3,834.1 L858.9,834.3 L859.5,834.3 L860.0,834.7 L860.6,834.5 L861.2,834.3 L861.8,834.1 L862.4,834.0 L863.0,833.7 L863.6,833.7 L864.2,833.6 L864.7,833.6 L865.3,833.5 L865.9,833.4 L866.5,833.5 L867.1,833.4 L867.7,833.5 L868.3,833.3 L868.9,833.5 L869.4,833.4 L870.0,833.8 L870.6,833.2 L871.2,833.3 L871.8,832.8 L872.4,832.8 L873.0,832.8 L873.6,832.9 L874.2,832.8 L874.7,832.7 L875.3,832.5 L875.9,832.7 L876.5,832.6 L877.1,832.7 L877.7,832.4 L878.3,832.4 L878.9,832.0 L879.4,832.1 L880.0,831.8 L880.6,831.8 L881.2,831.6 L881.8,831.4 L882.4,831.1 L883.0,831.2 L883.6,831.4 L884.1,831.3 L884.7,830.7 L885.3,830.6 L885.9,830.7 L886.5,831.0 L887.1,830.8 L887.7,830.6 L888.3,830.5 L888.9,830.4 L889.4,830.3 L890.0,830.2 L890.6,830.1 L891.2,830.0 L891.8,829.5 L892.4,829.7 L893.0,829.5 L893.6,829.5 L894.1,828.9 L894.7,828.7 L895.3,828.9 L895.9,829.1 L896.5,829.2 L897.1,829.0 L897.7,828.6 L898.3,828.4 L898.8,828.1 L899.4,827.9 L900.0,827.4 L900.6,827.3 L901.2,827.3 L901.8,827.4 L902.4,827.3 L903.0,827.1 L903.6,827.2 L904.1,827.2 L904.7,827.2 L905.3,827.0 L905.9,826.5 L906.5,826.7 L907.1,826.6 L907.7,826.8 L908.3,826.6 L908.8,826.5 L909.4,826.4 L910.0,825.6 L910.6,825.6 L911.2,825.2 L911.8,825.4 L912.4,824.9 L913.0,824.8 L913.5,824.9 L914.1,824.6 L914.7,824.5 L915.3,824.2 L915.9,824.5 L916.5,824.6 L917.1,824.6 L917.7,824.4 L918.2,823.9 L918.8,823.7 L919.4,823.5 L920.0,823.4 L920.6,823.3 L921.2,823.5 L921.8,823.7 L922.4,823.6 L923.0,823.4 L923.5,823.0 L924.1,823.2 L924.7,822.9 L925.3,822.9 L925.9,822.5 L926.5,822.2 L927.1,821.9 L927.7,822.0 L928.2,822.2 L928.8,822.3 L929.4,822.0 L930.0,821.5 L930.6,821.5 L931.2,821.9 L931.8,822.6 L932.4,822.3 L932.9,822.2 L933.5,821.6 L934.1,821.5 L934.7,821.2 L935.3,821.0 L935.9,820.9 L936.5,820.9 L937.1,820.8 L937.7,821.1 L938.2,820.9 L938.8,820.5 L939.4,819.8 L940.0,819.7 L940.6,819.8 L941.2,819.7 L941.8,819.6 L942.4,820.1 L942.9,820.4 L943.5,820.5 L944.1,819.9 L944.7,819.9 L945.3,819.7 L945.9,819.4 L946.5,818.9 L947.1,819.0 L947.6,818.9 L948.2,819.3 L948.8,819.3 L949.4,819.5 L950.0,819.5 L950.6,820.0 L951.2,819.6 L951.8,819.3 L952.4,818.6 L952.9,819.1 L953.5,819.0 L954.1,819.0 L954.7,818.7 L955.3,818.6 L955.9,818.8 L956.5,818.2 L957.1,818.6 L957.6,818.1 L958.2,818.7 L958.8,818.2 L959.4,818.6 L960.0,818.1 L960.6,818.1 L961.2,817.8 L961.8,818.2 L962.3,818.4 L962.9,818.7 L963.5,818.5 L964.1,818.4 L964.7,818.5 L965.3,818.3 L965.9,818.1 L966.5,818.1 L967.1,818.4 L967.6,818.6 L968.2,818.1 L968.8,818.2 L969.4,818.2 L970.0,818.5 L970.6,818.8 L971.2,818.6 L971.8,818.5 L972.3,818.3 L972.9,818.2 L973.5,818.0 L974.1,818.0 L974.7,818.6 L975.3,818.9 L975.9,818.7 L976.5,818.7 L977.0,818.4 L977.6,818.5 L978.2,818.2 L978.8,818.6 L979.4,818.9 L980.0,819.0 L980.6,818.9 L981.2,818.6 L981.8,818.9 L982.3,818.7 L982.9,818.7 L983.5,818.6 L984.1,818.8 L984.7,818.9 L985.3,819.2 L985.9,819.2 L986.5,819.1 L987.0,818.9 L987.6,818.9 L988.2,819.4 L988.8,819.7 L989.4,819.8 L990.0,819.6 L990.6,819.7 L991.2,820.1 L991.7,819.8 L992.3,819.8 L992.9,819.6 L993.5,820.0 L994.1,819.9 L994.7,820.4 L995.3,820.4 L995.9,820.2 L996.5,820.2 L997.0,820.4 L997.6,821.0 L998.2,820.8 L998.8,820.9 L999.4,820.8 L1000.0,821.3 L1000.6,821.2 L1001.2,821.1 L1001.7,821.2 L1002.3,821.5 L1002.9,822.1 L1003.5,821.9 L1004.1,821.8 L1004.7,821.7 L1005.3,821.8 L1005.9,822.3 L1006.4,822.4 L1007.0,822.5 L1007.6,822.8 L1008.2,822.5 L1008.8,822.6" fill="none" stroke="#e89430" stroke-width="1.8" stroke-linejoin="round" stroke-linecap="round" />
<path d="M121.4,36.4 L367.9,8.6 L642.2,33.3 L620.1,367.9" fill="none" stroke="#5a5a5a" stroke-width="1.3" stroke-linejoin="miter"/>
<line x1="367.90" y1="8.60" x2="368.60" y2="294.00" stroke="#5a5a5a" stroke-width="1.3" />
<line x1="368.60" y1="294.00" x2="142.10" y2="382.90" stroke="#5a5a5a" stroke-width="1.3" />
<line x1="368.60" y1="294.00" x2="620.10" y2="367.90" stroke="#5a5a5a" stroke-width="1.3" />
<path d="M253.8,44.6 L253.1,45.2 L252.4,45.7 L251.7,46.2 L251.0,46.7 L250.3,47.3 L249.7,47.9 L249.0,48.5 L248.4,49.1 L247.7,49.7 L247.1,50.3 L246.5,50.9 L245.9,51.6 L245.3,52.3 L244.7,52.9 L244.1,53.6 L243.6,54.3 L243.0,55.1 L242.5,55.8 L242.0,56.5 L241.4,57.3 L240.9,58.1 L240.4,58.9 L240.0,59.7 L239.5,60.5 L239.0,61.3 L238.6,62.2 L238.1,63.0 L237.7,63.9 L237.3,64.8 L236.9,65.6 L236.5,66.5 L236.1,67.5 L235.7,68.4 L235.3,69.3 L235.0,70.3 L234.6,71.3 L234.3,72.2 L234.0,73.2 L233.7,74.2 L233.4,75.2 L233.1,76.3 L232.8,77.3 L232.5,78.3 L232.3,79.4 L232.0,80.5 L231.8,81.6 L231.6,82.7 L231.4,83.8 L231.2,84.9 L231.0,86.0 L230.8,87.2 L230.7,88.3 L230.5,89.5 L230.4,90.6 L230.2,91.8 L230.1,93.0 L230.0,94.2 L229.9,95.4 L229.8,96.7 L229.8,97.9 L229.7,99.1 L229.7,100.4 L229.6,101.7 L229.6,102.9 L229.6,104.2 L229.6,105.5 L229.6,106.8 L229.6,108.1 L229.7,109.4 L229.7,110.8 L229.8,112.1 L229.8,113.5 L229.9,114.8 L230.0,116.2 L230.1,117.6 L230.2,119.0 L230.4,120.3 L230.5,121.7 L230.7,123.2 L230.8,124.6 L231.0,126.0 L231.2,127.4 L231.4,128.9 L231.6,130.3 L231.8,131.8 L232.0,133.2 L232.3,134.7 L232.5,136.2 L232.8,137.7 L233.1,139.2 L233.3,140.7 L233.6,142.2 L234.0,143.7 L234.3,145.2 L234.6,146.8 L235.0,148.3 L235.3,149.8 L235.7,151.4 L236.0,152.9 L236.4,154.5 L236.8,156.0 L237.2,157.6 L237.7,159.2 L238.1,160.8 L238.5,162.4 L239.0,164.0 L239.5,165.5 L239.9,167.2 L240.4,168.8 L240.9,170.4 L241.4,172.0 L241.9,173.6 L242.5,175.2 L243.0,176.9 L243.6,178.5 L244.1,180.1 L244.7,181.8 L245.3,183.4 L245.9,185.1 L246.5,186.7 L247.1,188.4 L247.7,190.0 L248.3,191.7 L249.0,193.3 L249.6,195.0 L250.3,196.7 L251.0,198.4 L251.7,200.0 L252.4,201.7 L253.1,203.4 L253.8,205.1 L254.5,206.8 L255.2,208.4 L256.0,210.1 L256.7,211.8 L257.5,213.5 L258.3,215.2 L259.0,216.9 L259.8,218.6 L260.6,220.3 L261.4,222.0 L262.3,223.7 L263.1,225.4 L263.9,227.1 L264.8,228.8 L265.6,230.4 L266.5,232.1 L267.3,233.8 L268.2,235.5 L269.1,237.2 L270.0,238.9 L270.9,240.6 L271.8,242.3 L272.8,244.0 L273.7,245.7 L274.6,247.4 L275.6,249.1 L276.5,250.8 L277.5,252.5 L278.5,254.1 L279.4,255.8 L280.4,257.5 L281.4,259.2 L282.4,260.9 L283.4,262.5 L284.4,264.2 L285.5,265.9 L286.5,267.6 L287.5,269.2 L288.6,270.9 L289.6,272.5 L290.7,274.2 L291.8,275.9 L292.8,277.5 L293.9,279.1 L295.0,280.8 L296.1,282.4 L297.2,284.1 L298.3,285.7 L299.4,287.3 L300.5,288.9 L301.7,290.6 L302.8,292.2 L303.9,293.8 L305.1,295.4 L306.2,297.0 L307.4,298.6 L308.6,300.2 L309.7,301.7 L310.9,303.3 L312.1,304.9 L313.3,306.4 L314.4,308.0 L315.6,309.6 L316.8,311.1 L318.0,312.7 L319.2,314.2 L320.5,315.7 L321.7,317.2 L322.9,318.8 L324.1,320.3 L325.4,321.8 L326.6,323.3 L327.8,324.8 L329.1,326.2 L330.3,327.7 L331.6,329.2 L332.8,330.6 L334.1,332.1 L335.4,333.5 L336.6,335.0 L337.9,336.4 L339.2,337.8 L340.4,339.2 L341.7,340.6 L343.0,342.0 L344.3,343.4 L345.6,344.8 L346.9,346.2 L348.2,347.5 L349.5,348.9 L350.8,350.2 L352.1,351.6 L353.4,352.9 L354.7,354.2 L356.0,355.5 L357.3,356.8 L358.6,358.1 L359.9,359.4 L361.2,360.6 L362.5,361.9 L363.9,363.1 L365.2,364.4 L366.5,365.6 L367.8,366.8 L369.1,368.0 L370.5,369.2 L371.8,370.4 L373.1,371.6 L374.4,372.7 L375.8,373.9 L377.1,375.0 L378.4,376.2 L379.7,377.3 L381.1,378.4 L382.4,379.5 L383.7,380.6 L385.1,381.7 L386.4,382.7 L387.7,383.8 L389.0,384.8 L390.4,385.8 L391.7,386.9 L393.0,387.9 L394.3,388.9 L395.7,389.8 L397.0,390.8 L398.3,391.8 L399.6,392.7 L400.9,393.6 L402.3,394.6 L403.6,395.5 L404.9,396.4 L406.2,397.2 L407.5,398.1 L408.8,399.0 L410.1,399.8 L411.4,400.6 L412.7,401.5 L414.0,402.3 L415.3,403.1 L416.6,403.8 L417.9,404.6 L419.2,405.4 L420.5,406.1 L421.8,406.8 L423.0,407.5 L424.3,408.2 L425.6,408.9 L426.9,409.6 L428.1,410.2 L429.4,410.9 L430.6,411.5 L431.9,412.1 L433.2,412.7 L434.4,413.3 L435.6,413.9 L436.9,414.5 L438.1,415.0 L439.4,415.6 L440.6,416.1 L441.8,416.6 L443.0,417.1 L444.2,417.5 L445.4,418.0 L446.6,418.5 L447.8,418.9 L449.0,419.3 L450.2,419.7 L451.4,420.1 L452.6,420.5 L453.8,420.8 L454.9,421.2 L456.1,421.5 L457.2,421.8 L458.4,422.1 L459.5,422.4 L460.7,422.7 L461.8,423.0 L462.9,423.2 L464.1,423.4 L465.2,423.7 L466.3,423.9 L467.4,424.1 L468.5,424.2 L469.6,424.4 L470.6,424.5 L471.7,424.6 L472.8,424.8 L473.8,424.9 L474.9,424.9 L475.9,425.0 L477.0,425.1 L478.0,425.1 L479.0,425.1 L480.1,425.1 L481.1,425.1 L482.1,425.1 L483.1,425.1 L484.1,425.0 L485.0,425.0 L486.0,424.9 L487.0,424.8 L487.9,424.7 L488.9,424.6 L489.8,424.4 L490.7,424.3 L491.7,424.1 L492.6,423.9 L493.5,423.7 L494.4,423.5 L495.3,423.3 L496.1,423.0 L497.0,422.8 L497.9,422.5 L498.7,422.2 L499.6,421.9 L500.4,421.6 L501.2,421.3 L502.1,420.9 L502.9,420.6 L503.7,420.2 L504.5,419.8 L505.2,419.4 L506.0,419.0 L506.8,418.6 L507.5,418.1 L508.3,417.7 L509.0,417.2 L509.7,416.7 L510.4,416.2 L511.1,415.7 L511.8,415.2 L512.5,414.6 L513.2,414.1 L513.9,413.5 L514.5,412.9 L515.2,412.3 L515.8,411.7 L516.4,411.1 L517.0,410.4 L517.6,409.8 L518.2,409.1 L518.8,408.4 L519.4,407.7 L519.9,407.0 L520.5,406.3 L521.0,405.6 L521.6,404.8 L522.1,404.1 L522.6,403.3 L523.1,402.5 L523.6,401.7 L524.0,400.9 L524.5,400.0 L525.0,399.2 L525.4,398.3 L525.8,397.5 L526.3,396.6 L526.7,395.7 L527.1,394.8 L527.5,393.9 L527.8,393.0 L528.2,392.0 L528.6,391.1 L528.9,390.1 L529.2,389.1 L529.6,388.1 L529.9,387.1 L530.2,386.1 L530.5,385.1 L530.7,384.1 L531.0,383.0 L531.2,381.9 L531.5,380.9 L531.7,379.8 L531.9,378.7 L532.1,377.6 L532.3,376.5 L532.5,375.3 L532.7,374.2 L532.9,373.1 L533.0,371.9 L533.2,370.7 L533.3,369.5 L533.4,368.3 L533.5,367.1 L533.6,365.9 L533.7,364.7 L533.7,363.5 L533.8,362.2 L533.8,361.0 L533.9,359.7 L533.9,358.4 L533.9,357.1 L533.9,355.9 L533.9,354.6 L533.9,353.2 L533.8,351.9 L533.8,350.6 L533.7,349.2 L533.7,347.9 L533.6,346.5 L533.5,345.2 L533.4,343.8 L533.3,342.4 L533.2,341.0 L533.0,339.6 L532.9,338.2 L532.7,336.8 L532.5,335.4 L532.3,333.9 L532.2,332.5 L531.9,331.0 L531.7,329.6 L531.5,328.1 L531.3,326.6 L531.0,325.2 L530.7,323.7 L530.5,322.2 L530.2,320.7 L529.9,319.2 L529.6,317.7 L529.2,316.1 L528.9,314.6 L528.6,313.1 L528.2,311.5 L527.8,310.0 L527.5,308.4 L527.1,306.9 L526.7,305.3 L526.3,303.7 L525.9,302.2 L525.4,300.6 L525.0,299.0 L524.5,297.4 L524.1,295.8 L523.6,294.2 L523.1,292.6 L522.6,291.0 L522.1,289.4 L521.6,287.8 L521.0,286.1 L520.5,284.5 L520.0,282.9 L519.4,281.2 L518.8,279.6 L518.2,277.9 L517.6,276.3 L517.0,274.7 L516.4,273.0 L515.8,271.3 L515.2,269.7 L514.5,268.0 L513.9,266.3 L513.2,264.7 L512.5,263.0 L511.9,261.3 L511.2,259.7 L510.5,258.0 L509.7,256.3 L509.0,254.6 L508.3,252.9 L507.5,251.2 L506.8,249.5 L506.0,247.9 L505.3,246.2 L504.5,244.5 L503.7,242.8 L502.9,241.1 L502.1,239.4 L501.3,237.7 L500.4,236.0 L499.6,234.3 L498.8,232.6 L497.9,230.9 L497.0,229.2 L496.2,227.5 L495.3,225.8 L494.4,224.1 L493.5,222.4 L492.6,220.7 L491.7,219.0 L490.8,217.3 L489.8,215.7 L488.9,214.0 L488.0,212.3 L487.0,210.6 L486.0,208.9 L485.1,207.2 L484.1,205.5 L483.1,203.8 L482.1,202.2 L481.1,200.5 L480.1,198.8 L479.1,197.1 L478.0,195.5 L477.0,193.8 L476.0,192.1 L474.9,190.5 L473.9,188.8 L472.8,187.2 L471.8,185.5 L470.7,183.9 L469.6,182.2 L468.5,180.6 L467.4,178.9 L466.3,177.3 L465.2,175.7 L464.1,174.0 L463.0,172.4 L461.8,170.8 L460.7,169.2 L459.6,167.6 L458.4,166.0 L457.3,164.4 L456.1,162.8 L455.0,161.2 L453.8,159.6 L452.6,158.0 L451.4,156.5 L450.3,154.9 L449.1,153.4 L447.9,151.8 L446.7,150.3 L445.5,148.7 L444.3,147.2 L443.1,145.6 L441.8,144.1 L440.6,142.6 L439.4,141.1 L438.2,139.6 L436.9,138.1 L435.7,136.6 L434.4,135.1 L433.2,133.7 L431.9,132.2 L430.7,130.7 L429.4,129.3 L428.2,127.8 L426.9,126.4 L425.6,125.0 L424.4,123.5 L423.1,122.1 L421.8,120.7 L420.5,119.3 L419.2,117.9 L417.9,116.6 L416.7,115.2 L415.4,113.8 L414.1,112.5 L412.8,111.1 L411.5,109.8 L410.2,108.5 L408.9,107.2 L407.6,105.9 L406.2,104.6 L404.9,103.3 L403.6,102.0 L402.3,100.7 L401.0,99.5 L399.7,98.2 L398.3,97.0 L397.0,95.8 L395.7,94.5 L394.4,93.3 L393.1,92.1 L391.7,91.0 L390.4,89.8 L389.1,88.6 L387.8,87.5 L386.4,86.3 L385.1,85.2 L383.8,84.1 L382.4,83.0 L381.1,81.9 L379.8,80.8 L378.5,79.7 L377.1,78.6 L375.8,77.6 L374.5,76.5 L373.2,75.5 L371.8,74.5 L370.5,73.5 L369.2,72.5 L367.9,71.5 L366.5,70.6 L365.2,69.6 L363.9,68.7 L362.6,67.7 L361.3,66.8 L359.9,65.9 L358.6,65.0 L357.3,64.1 L356.0,63.2 L354.7,62.4 L353.4,61.5 L352.1,60.7 L350.8,59.9 L349.5,59.1 L348.2,58.3 L346.9,57.5 L345.6,56.8 L344.3,56.0 L343.0,55.3 L341.8,54.5 L340.5,53.8 L339.2,53.1 L337.9,52.4 L336.7,51.8 L335.4,51.1 L334.1,50.5 L332.9,49.8 L331.6,49.2 L330.4,48.6 L329.1,48.0 L327.9,47.5 L326.6,46.9 L325.4,46.3 L324.2,45.8 L322.9,45.3 L321.7,44.8 L320.5,44.3 L319.3,43.8 L318.1,43.4 L316.9,42.9 L315.7,42.5 L314.5,42.1 L313.3,41.6 L312.1,41.3 L310.9,40.9 L309.8,40.5 L308.6,40.2 L307.4,39.8 L306.3,39.5 L305.1,39.2 L304.0,38.9 L302.8,38.7 L301.7,38.4 L300.6,38.1 L299.5,37.9 L298.4,37.7 L297.2,37.5 L296.1,37.3 L295.0,37.1 L294.0,37.0 L292.9,36.8 L291.8,36.7 L290.7,36.6 L289.7,36.5 L288.6,36.4 L287.6,36.3 L286.5,36.3 L285.5,36.3 L284.5,36.2 L283.5,36.2 L282.5,36.2 L281.5,36.2 L280.5,36.3 L279.5,36.3 L278.5,36.4 L277.5,36.5 L276.6,36.6 L275.6,36.7 L274.7,36.8 L273.7,36.9 L272.8,37.1 L271.9,37.3 L270.9,37.4 L270.0,37.6 L269.1,37.9 L268.3,38.1 L267.4,38.3 L266.5,38.6 L265.6,38.8 L264.8,39.1 L263.9,39.4 L263.1,39.7 L262.3,40.1 L261.5,40.4 L260.7,40.8 L259.9,41.2 L259.1,41.5 L258.3,41.9 L257.5,42.4 L256.8,42.8 L256.0,43.2 L255.3,43.7 L254.5,44.2 L253.8,44.6 Z" fill="none" stroke="#ff2020" stroke-width="1.75"/>
<path d="M253.8,44.6 L253.1,45.2 L252.4,45.7 L251.7,46.2 L251.0,46.7 L250.3,47.3 L249.7,47.9 L249.0,48.5 L248.4,49.1 L247.7,49.7 L247.1,50.3 L246.5,50.9 L245.9,51.6 L245.3,52.3 L244.7,52.9 L244.1,53.6 L243.6,54.3 L243.0,55.1 L242.5,55.8 L242.0,56.5 L241.4,57.3 L240.9,58.1 L240.4,58.9 L240.0,59.7 L239.5,60.5 L239.0,61.3 L238.6,62.2 L238.1,63.0 L237.7,63.9 L237.3,64.8 L236.9,65.6 L236.5,66.5 L236.1,67.5 L235.7,68.4 L235.3,69.3 L235.0,70.3 L234.6,71.3 L234.3,72.2 L234.0,73.2 L233.7,74.2 L233.4,75.2 L233.1,76.3 L232.8,77.3 L232.5,78.3 L232.3,79.4 L232.0,80.5 L231.8,81.6 L231.6,82.7 L231.4,83.8 L231.2,84.9 L231.0,86.0 L230.8,87.2 L230.7,88.3 L230.5,89.5 L230.4,90.6 L230.2,91.8 L230.1,93.0 L230.0,94.2 L229.9,95.4 L229.8,96.7 L229.8,97.9 L229.7,99.1 L229.7,100.4 L229.6,101.7 L229.6,102.9 L229.6,104.2 L229.6,105.5 L229.6,106.8 L229.6,108.1 L229.7,109.4 L229.7,110.8 L229.8,112.1 L229.8,113.5 L229.9,114.8 L230.0,116.2 L230.1,117.6 L230.2,119.0 L230.4,120.3 L230.5,121.7 L230.7,123.2 L230.8,124.6 L231.0,126.0 L231.2,127.4 L231.4,128.9 L231.6,130.3 L231.8,131.8 L232.0,133.2 L232.3,134.7 L232.5,136.2 L232.8,137.7 L233.1,139.2 L233.3,140.7 L233.6,142.2 L234.0,143.7 L234.3,145.2 L234.6,146.8 L235.0,148.3 L235.3,149.8 L235.7,151.4 L236.0,152.9 L236.4,154.5 L236.8,156.0 L237.2,157.6 L237.7,159.2 L238.1,160.8 L238.5,162.4 L239.0,164.0 L239.5,165.5 L239.9,167.2 L240.4,168.8 L240.9,170.4 L241.4,172.0 L241.9,173.6 L242.5,175.2 L243.0,176.9 L243.6,178.5 L244.1,180.1 L244.7,181.8 L245.3,183.4 L245.9,185.1 L246.5,186.7 L247.1,188.4 L247.7,190.0 L248.3,191.7 L249.0,193.3 L249.6,195.0 L250.3,196.7 L251.0,198.4 L251.7,200.0 L252.4,201.7 L253.1,203.4 L253.8,205.1 L254.5,206.8 L255.2,208.4 L256.0,210.1 L256.7,211.8 L257.5,213.5 L258.3,215.2 L259.0,216.9 L259.8,218.6 L260.6,220.3 L261.4,222.0 L262.3,223.7 L263.1,225.4 L263.9,227.1 L264.8,228.8 L265.6,230.4 L266.5,232.1 L267.3,233.8 L268.2,235.5 L269.1,237.2 L270.0,238.9 L270.9,240.6 L271.8,242.3 L272.8,244.0 L273.7,245.7 L274.6,247.4 L275.6,249.1 L276.5,250.8 L277.5,252.5 L278.5,254.1 L279.4,255.8 L280.4,257.5 L281.4,259.2 L282.4,260.9 L283.4,262.5 L284.4,264.2 L285.5,265.9 L286.5,267.6 L287.5,269.2 L288.6,270.9 L289.6,272.5 L290.7,274.2 L291.8,275.9 L292.8,277.5 L293.9,279.1 L295.0,280.8 L296.1,282.4 L297.2,284.1 L298.3,285.7 L299.4,287.3 L300.5,288.9 L301.7,290.6 L302.8,292.2 L303.9,293.8 L305.1,295.4 L306.2,297.0 L307.4,298.6 L308.6,300.2 L309.7,301.7 L310.9,303.3 L312.1,304.9 L313.3,306.4 L314.4,308.0 L315.6,309.6 L316.8,311.1 L318.0,312.7 L319.2,314.2 L320.5,315.7 L321.7,317.2 L322.9,318.8 L324.1,320.3 L325.4,321.8 L326.6,323.3 L327.8,324.8 L329.1,326.2 L330.3,327.7 L331.6,329.2 L332.8,330.6 L334.1,332.1 L335.4,333.5 L336.6,335.0 L337.9,336.4 L339.2,337.8 L340.4,339.2 L341.7,340.6 L343.0,342.0 L344.3,343.4 L345.6,344.8 L346.9,346.2 L348.2,347.5 L349.5,348.9 L350.8,350.2 L352.1,351.6 L353.4,352.9 L354.7,354.2 L356.0,355.5 L357.3,356.8 L358.6,358.1 L359.9,359.4 L361.2,360.6 L362.5,361.9 L363.9,363.1 L365.2,364.4 L366.5,365.6 L367.8,366.8 L369.1,368.0 L370.5,369.2 L371.8,370.4 L373.1,371.6 L374.4,372.7 L375.8,373.9 L377.1,375.0 L378.4,376.2 L379.7,377.3 L381.1,378.4 L382.4,379.5 L383.7,380.6 L385.1,381.7 L386.4,382.7 L387.7,383.8 L389.0,384.8 L390.4,385.8 L391.7,386.9 L393.0,387.9 L394.3,388.9 L395.7,389.8 L397.0,390.8 L398.3,391.8 L399.6,392.7 L400.9,393.6 L402.3,394.6 L403.6,395.5 L404.9,396.4 L406.2,397.2 L407.5,398.1 L408.8,399.0 L410.1,399.8 L411.4,400.6 L412.7,401.5 L414.0,402.3 L415.3,403.1 L416.6,403.8 L417.9,404.6 L419.2,405.4 L420.5,406.1 L421.8,406.8 L423.0,407.5 L424.3,408.2 L425.6,408.9 L426.9,409.6 L428.1,410.2 L429.4,410.9 L430.6,411.5 L431.9,412.1 L433.2,412.7 L434.4,413.3 L435.6,413.9 L436.9,414.5 L438.1,415.0 L439.4,415.6 L440.6,416.1 L441.8,416.6 L443.0,417.1 L444.2,417.5 L445.4,418.0 L446.6,418.5 L447.8,418.9 L449.0,419.3 L450.2,419.7 L451.4,420.1 L452.6,420.5 L453.8,420.8 L454.9,421.2 L456.1,421.5 L457.2,421.8 L458.4,422.1 L459.5,422.4 L460.7,422.7 L461.8,423.0 L462.9,423.2 L464.1,423.4 L465.2,423.7 L466.3,423.9 L467.4,424.1 L468.5,424.2 L469.6,424.4 L470.6,424.5 L471.7,424.6 L472.8,424.8 L473.8,424.9 L474.9,424.9 L475.9,425.0 L477.0,425.1 L478.0,425.1 L479.0,425.1 L480.1,425.1 L481.1,425.1 L482.1,425.1 L483.1,425.1 L484.1,425.0 L485.0,425.0 L486.0,424.9 L487.0,424.8 L487.9,424.7 L488.9,424.6 L489.8,424.4 L490.7,424.3 L491.7,424.1 L492.6,423.9 L493.5,423.7 L494.4,423.5 L495.3,423.3 L496.1,423.0 L497.0,422.8 L497.9,422.5 L498.7,422.2 L499.6,421.9 L500.4,421.6 L501.2,421.3 L502.1,420.9 L502.9,420.6 L503.7,420.2 L504.5,419.8 L505.2,419.4 L506.0,419.0 L506.8,418.6 L507.5,418.1 L508.3,417.7 L509.0,417.2 L509.7,416.7 L510.4,416.2 L511.1,415.7 L511.8,415.2 L512.5,414.6 L513.2,414.1 L513.9,413.5 L514.5,412.9 L515.2,412.3 L515.8,411.7 L516.4,411.1 L517.0,410.4 L517.6,409.8 L518.2,409.1 L518.8,408.4 L519.4,407.7 L519.9,407.0 L520.5,406.3 L521.0,405.6 L521.6,404.8 L522.1,404.1 L522.6,403.3 L523.1,402.5 L523.6,401.7 L524.0,400.9 L524.5,400.0 L525.0,399.2 L525.4,398.3 L525.8,397.5 L526.3,396.6 L526.7,395.7 L527.1,394.8 L527.5,393.9 L527.8,393.0 L528.2,392.0 L528.6,391.1 L528.9,390.1 L529.2,389.1 L529.6,388.1 L529.9,387.1 L530.2,386.1 L530.5,385.1 L530.7,384.1 L531.0,383.0 L531.2,381.9 L531.5,380.9 L531.7,379.8 L531.9,378.7 L532.1,377.6 L532.3,376.5 L532.5,375.3 L532.7,374.2 L532.9,373.1 L533.0,371.9 L533.2,370.7 L533.3,369.5 L533.4,368.3 L533.5,367.1 L533.6,365.9 L533.7,364.7 L533.7,363.5 L533.8,362.2 L533.8,361.0 L533.9,359.7 L533.9,358.4 L533.9,357.1 L533.9,355.9 L533.9,354.6 L533.9,353.2 L533.8,351.9 L533.8,350.6 L533.7,349.2 L533.7,347.9 L533.6,346.5 L533.5,345.2 L533.4,343.8 L533.3,342.4 L533.2,341.0 L533.0,339.6 L532.9,338.2 L532.7,336.8 L532.5,335.4 L532.3,333.9 L532.2,332.5 L531.9,331.0 L531.7,329.6 L531.5,328.1 L531.3,326.6 L531.0,325.2 L530.7,323.7 L530.5,322.2 L530.2,320.7 L529.9,319.2 L529.6,317.7 L529.2,316.1 L528.9,314.6 L528.6,313.1 L528.2,311.5 L527.8,310.0 L527.5,308.4 L527.1,306.9 L526.7,305.3 L526.3,303.7 L525.9,302.2 L525.4,300.6 L525.0,299.0 L524.5,297.4 L524.1,295.8 L523.6,294.2 L523.1,292.6 L522.6,291.0 L522.1,289.4 L521.6,287.8 L521.0,286.1 L520.5,284.5 L520.0,282.9 L519.4,281.2 L518.8,279.6 L518.2,277.9 L517.6,276.3 L517.0,274.7 L516.4,273.0 L515.8,271.3 L515.2,269.7 L514.5,268.0 L513.9,266.3 L513.2,264.7 L512.5,263.0 L511.9,261.3 L511.2,259.7 L510.5,258.0 L509.7,256.3 L509.0,254.6 L508.3,252.9 L507.5,251.2 L506.8,249.5 L506.0,247.9 L505.3,246.2 L504.5,244.5 L503.7,242.8 L502.9,241.1 L502.1,239.4 L501.3,237.7 L500.4,236.0 L499.6,234.3 L498.8,232.6 L497.9,230.9 L497.0,229.2 L496.2,227.5 L495.3,225.8 L494.4,224.1 L493.5,222.4 L492.6,220.7 L491.7,219.0 L490.8,217.3 L489.8,215.7 L488.9,214.0 L488.0,212.3 L487.0,210.6 L486.0,208.9 L485.1,207.2 L484.1,205.5 L483.1,203.8 L482.1,202.2 L481.1,200.5 L480.1,198.8 L479.1,197.1 L478.0,195.5 L477.0,193.8 L476.0,192.1 L474.9,190.5 L473.9,188.8 L472.8,187.2 L471.8,185.5 L470.7,183.9 L469.6,182.2 L468.5,180.6 L467.4,178.9 L466.3,177.3 L465.2,175.7 L464.1,174.0 L463.0,172.4 L461.8,170.8 L460.7,169.2 L459.6,167.6 L458.4,166.0 L457.3,164.4 L456.1,162.8 L455.0,161.2 L453.8,159.6 L452.6,158.0 L451.4,156.5 L450.3,154.9 L449.1,153.4 L447.9,151.8 L446.7,150.3 L445.5,148.7 L444.3,147.2 L443.1,145.6 L441.8,144.1 L440.6,142.6 L439.4,141.1 L438.2,139.6 L436.9,138.1 L435.7,136.6 L434.4,135.1 L433.2,133.7 L431.9,132.2 L430.7,130.7 L429.4,129.3 L428.2,127.8 L426.9,126.4 L425.6,125.0 L424.4,123.5 L423.1,122.1 L421.8,120.7 L420.5,119.3 L419.2,117.9 L417.9,116.6 L416.7,115.2 L415.4,113.8 L414.1,112.5 L412.8,111.1 L411.5,109.8 L410.2,108.5 L408.9,107.2 L407.6,105.9 L406.2,104.6 L404.9,103.3 L403.6,102.0 L402.3,100.7 L401.0,99.5 L399.7,98.2 L398.3,97.0 L397.0,95.8 L395.7,94.5 L394.4,93.3 L393.1,92.1 L391.7,91.0 L390.4,89.8 L389.1,88.6 L387.8,87.5 L386.4,86.3 L385.1,85.2 L383.8,84.1 L382.4,83.0 L381.1,81.9 L379.8,80.8 L378.5,79.7 L377.1,78.6 L375.8,77.6 L374.5,76.5 L373.2,75.5 L371.8,74.5 L370.5,73.5 L369.2,72.5 L367.9,71.5 L366.5,70.6 L365.2,69.6 L363.9,68.7 L362.6,67.7 L361.3,66.8 L359.9,65.9 L358.6,65.0 L357.3,64.1 L356.0,63.2 L354.7,62.4 L353.4,61.5 L352.1,60.7 L350.8,59.9 L349.5,59.1 L348.2,58.3 L346.9,57.5 L345.6,56.8 L344.3,56.0 L343.0,55.3 L341.8,54.5 L340.5,53.8 L339.2,53.1 L337.9,52.4 L336.7,51.8 L335.4,51.1 L334.1,50.5 L332.9,49.8 L331.6,49.2 L330.4,48.6 L329.1,48.0 L327.9,47.5 L326.6,46.9 L325.4,46.3 L324.2,45.8 L322.9,45.3 L321.7,44.8 L320.5,44.3 L319.3,43.8 L318.1,43.4 L316.9,42.9 L315.7,42.5 L314.5,42.1 L313.3,41.6 L312.1,41.3 L310.9,40.9 L309.8,40.5 L308.6,40.2 L307.4,39.8 L306.3,39.5 L305.1,39.2 L304.0,38.9 L302.8,38.7 L301.7,38.4 L300.6,38.1 L299.5,37.9 L298.4,37.7 L297.2,37.5 L296.1,37.3 L295.0,37.1 L294.0,37.0 L292.9,36.8 L291.8,36.7 L290.7,36.6 L289.7,36.5 L288.6,36.4 L287.6,36.3 L286.5,36.3 L285.5,36.3 L284.5,36.2 L283.5,36.2 L282.5,36.2 L281.5,36.2 L280.5,36.3 L279.5,36.3 L278.5,36.4 L277.5,36.5 L276.6,36.6 L275.6,36.7 L274.7,36.8 L273.7,36.9 L272.8,37.1 L271.9,37.3 L270.9,37.4 L270.0,37.6 L269.1,37.9 L268.3,38.1 L267.4,38.3 L266.5,38.6 L265.6,38.8 L264.8,39.1 L263.9,39.4 L263.1,39.7 L262.3,40.1 L261.5,40.4 L260.7,40.8 L259.9,41.2 L259.1,41.5 L258.3,41.9 L257.5,42.4 L256.8,42.8 L256.0,43.2 L255.3,43.7 L254.5,44.2 L253.8,44.6 Z" fill="none" stroke="#2020ff" stroke-width="1.75" stroke-dasharray="7 5"/>
<path d="M252.6,42.9 L251.7,43.7 L250.8,44.5 L249.9,45.4 L249.0,46.2 L248.2,47.1 L247.4,48.0 L246.6,48.9 L245.8,49.9 L245.1,50.8 L244.3,51.8 L243.6,52.8 L243.0,53.9 L242.3,54.9 L241.7,56.0 L241.1,57.1 L240.5,58.2 L239.9,59.3 L239.4,60.4 L238.8,61.6 L238.3,62.8 L237.9,64.0 L237.4,65.2 L237.0,66.4 L236.5,67.7 L236.1,68.9 L235.8,70.2 L235.4,71.5 L235.1,72.8 L234.7,74.2 L234.4,75.5 L234.1,76.9 L233.9,78.3 L233.6,79.7 L233.4,81.2 L233.2,82.6 L233.0,84.1 L232.8,85.5 L232.6,87.0 L232.5,88.6 L232.4,90.1 L232.2,91.6 L232.2,93.2 L232.1,94.8 L232.0,96.4 L232.0,98.0 L232.0,99.6 L231.9,101.3 L232.0,103.0 L232.0,104.6 L232.0,106.3 L232.1,108.1 L232.2,109.8 L232.3,111.6 L232.4,113.3 L232.5,115.1 L232.7,116.9 L232.8,118.7 L233.0,120.6 L233.2,122.4 L233.4,124.3 L233.7,126.1 L234.0,128.0 L234.2,129.9 L234.5,131.9 L234.9,133.8 L235.2,135.7 L235.6,137.7 L235.9,139.7 L236.3,141.6 L236.8,143.6 L237.2,145.7 L237.7,147.7 L238.1,149.7 L238.6,151.7 L239.2,153.8 L239.7,155.9 L240.3,157.9 L240.9,160.0 L241.5,162.1 L242.1,164.2 L242.8,166.3 L243.4,168.4 L244.1,170.5 L244.8,172.7 L245.6,174.8 L246.3,177.0 L247.1,179.1 L247.9,181.3 L248.7,183.4 L249.5,185.6 L250.4,187.8 L251.3,189.9 L252.1,192.1 L253.1,194.3 L254.0,196.5 L254.9,198.7 L255.9,200.9 L256.9,203.1 L257.9,205.3 L258.9,207.5 L259.9,209.7 L261.0,211.9 L262.0,214.1 L263.1,216.3 L264.2,218.6 L265.3,220.8 L266.5,223.0 L267.6,225.2 L268.7,227.5 L269.9,229.7 L271.1,231.9 L272.3,234.1 L273.5,236.4 L274.7,238.6 L275.9,240.8 L277.1,243.1 L278.4,245.3 L279.7,247.5 L280.9,249.8 L282.2,252.0 L283.5,254.2 L284.8,256.4 L286.1,258.7 L287.4,260.9 L288.7,263.1 L290.1,265.3 L291.4,267.6 L292.8,269.8 L294.1,272.0 L295.5,274.2 L296.9,276.4 L298.3,278.6 L299.7,280.8 L301.1,283.0 L302.5,285.2 L304.0,287.4 L305.4,289.5 L306.9,291.7 L308.3,293.9 L309.8,296.0 L311.3,298.2 L312.7,300.3 L314.2,302.4 L315.7,304.6 L317.3,306.7 L318.8,308.8 L320.3,310.9 L321.9,312.9 L323.4,315.0 L325.0,317.0 L326.6,319.1 L328.2,321.1 L329.8,323.1 L331.4,325.1 L333.0,327.1 L334.7,329.1 L336.3,331.0 L338.0,332.9 L339.6,334.8 L341.3,336.7 L343.0,338.6 L344.7,340.5 L346.4,342.3 L348.1,344.1 L349.8,345.9 L351.6,347.7 L353.3,349.4 L355.1,351.2 L356.8,352.9 L358.6,354.6 L360.4,356.2 L362.2,357.9 L364.0,359.5 L365.8,361.1 L367.6,362.6 L369.4,364.2 L371.2,365.7 L373.1,367.2 L374.9,368.7 L376.7,370.1 L378.6,371.5 L380.4,372.9 L382.3,374.3 L384.1,375.6 L386.0,376.9 L387.8,378.2 L389.7,379.5 L391.5,380.7 L393.4,381.9 L395.2,383.1 L397.1,384.3 L398.9,385.4 L400.8,386.5 L402.6,387.6 L404.4,388.7 L406.3,389.7 L408.1,390.7 L409.9,391.7 L411.7,392.6 L413.5,393.6 L415.3,394.5 L417.1,395.3 L418.9,396.2 L420.7,397.0 L422.5,397.8 L424.2,398.6 L426.0,399.4 L427.7,400.1 L429.4,400.8 L431.1,401.5 L432.8,402.1 L434.5,402.7 L436.2,403.4 L437.8,403.9 L439.5,404.5 L441.1,405.0 L442.7,405.5 L444.3,406.0 L445.9,406.5 L447.5,406.9 L449.0,407.3 L450.6,407.7 L452.1,408.1 L453.6,408.5 L455.1,408.8 L456.6,409.1 L458.0,409.4 L459.4,409.6 L460.8,409.9 L462.2,410.1 L463.6,410.3 L465.0,410.5 L466.3,410.6 L467.6,410.7 L468.9,410.9 L470.2,411.0 L471.4,411.0 L472.6,411.1 L473.8,411.2 L475.0,411.2 L476.2,411.2 L477.3,411.2 L478.4,411.2 L479.5,411.2 L480.6,411.1 L481.7,411.1 L482.7,411.0 L483.7,410.9 L484.7,410.8 L485.7,410.7 L486.7,410.6 L487.6,410.5 L488.6,410.3 L489.5,410.2 L490.4,410.0 L491.3,409.9 L492.1,409.7 L493.0,409.5 L493.8,409.3 L494.7,409.2 L495.5,409.0 L496.3,408.7 L497.2,408.5 L498.0,408.3 L498.8,408.1 L499.6,407.8 L500.4,407.6 L501.2,407.3 L502.0,407.0 L502.8,406.7 L503.7,406.4 L504.5,406.1 L505.3,405.7 L506.1,405.4 L507.0,405.0 L507.8,404.6 L508.7,404.1 L509.5,403.7 L510.4,403.2 L511.2,402.7 L512.1,402.2 L513.0,401.6 L513.8,401.0 L514.7,400.4 L515.6,399.7 L516.4,399.0 L517.3,398.3 L518.2,397.5 L519.1,396.7 L519.9,395.9 L520.8,395.0 L521.6,394.1 L522.5,393.2 L523.3,392.2 L524.1,391.1 L524.9,390.1 L525.7,389.0 L526.5,387.9 L527.3,386.7 L528.0,385.5 L528.7,384.3 L529.4,383.0 L530.1,381.7 L530.8,380.3 L531.4,379.0 L532.0,377.6 L532.6,376.1 L533.2,374.7 L533.7,373.2 L534.2,371.6 L534.7,370.1 L535.1,368.5 L535.5,366.9 L535.9,365.3 L536.3,363.6 L536.6,361.9 L536.9,360.2 L537.1,358.5 L537.3,356.7 L537.5,354.9 L537.7,353.2 L537.8,351.3 L537.9,349.5 L538.0,347.7 L538.0,345.8 L538.0,343.9 L537.9,342.0 L537.9,340.1 L537.8,338.2 L537.6,336.2 L537.4,334.2 L537.3,332.3 L537.0,330.3 L536.8,328.3 L536.5,326.3 L536.2,324.3 L535.8,322.2 L535.5,320.2 L535.1,318.1 L534.6,316.1 L534.2,314.0 L533.7,311.9 L533.2,309.8 L532.7,307.7 L532.2,305.6 L531.6,303.5 L531.0,301.3 L530.4,299.2 L529.8,297.1 L529.2,294.9 L528.5,292.7 L527.8,290.6 L527.1,288.4 L526.4,286.2 L525.7,284.0 L524.9,281.8 L524.2,279.6 L523.4,277.4 L522.6,275.1 L521.8,272.9 L521.0,270.7 L520.1,268.4 L519.3,266.2 L518.4,263.9 L517.5,261.6 L516.7,259.4 L515.8,257.1 L514.8,254.8 L513.9,252.5 L513.0,250.2 L512.0,247.9 L511.1,245.6 L510.1,243.3 L509.1,241.0 L508.1,238.6 L507.1,236.3 L506.0,234.0 L505.0,231.6 L503.9,229.3 L502.9,227.0 L501.8,224.6 L500.7,222.3 L499.6,219.9 L498.4,217.6 L497.3,215.3 L496.1,212.9 L495.0,210.6 L493.8,208.2 L492.6,205.9 L491.4,203.6 L490.1,201.2 L488.9,198.9 L487.6,196.6 L486.3,194.3 L485.0,191.9 L483.7,189.6 L482.4,187.3 L481.1,185.0 L479.7,182.7 L478.3,180.4 L476.9,178.2 L475.5,175.9 L474.1,173.6 L472.7,171.4 L471.2,169.1 L469.8,166.9 L468.3,164.7 L466.8,162.5 L465.3,160.3 L463.7,158.1 L462.2,155.9 L460.6,153.7 L459.1,151.6 L457.5,149.4 L455.9,147.3 L454.3,145.2 L452.7,143.1 L451.0,141.0 L449.4,138.9 L447.7,136.9 L446.1,134.8 L444.4,132.8 L442.7,130.7 L441.0,128.7 L439.3,126.8 L437.6,124.8 L435.9,122.8 L434.1,120.9 L432.4,118.9 L430.6,117.0 L428.9,115.1 L427.1,113.2 L425.4,111.4 L423.6,109.5 L421.8,107.7 L420.0,105.8 L418.3,104.0 L416.5,102.2 L414.7,100.5 L412.9,98.7 L411.1,97.0 L409.3,95.3 L407.5,93.5 L405.7,91.9 L403.9,90.2 L402.1,88.5 L400.2,86.9 L398.4,85.3 L396.6,83.7 L394.8,82.1 L393.0,80.5 L391.2,79.0 L389.3,77.5 L387.5,75.9 L385.7,74.5 L383.9,73.0 L382.0,71.5 L380.2,70.1 L378.4,68.7 L376.6,67.3 L374.8,66.0 L372.9,64.6 L371.1,63.3 L369.3,62.0 L367.5,60.7 L365.7,59.5 L363.8,58.3 L362.0,57.1 L360.2,55.9 L358.4,54.7 L356.6,53.6 L354.8,52.5 L353.0,51.4 L351.2,50.4 L349.4,49.4 L347.6,48.4 L345.8,47.4 L344.0,46.4 L342.2,45.5 L340.4,44.6 L338.6,43.8 L336.8,42.9 L335.1,42.1 L333.3,41.3 L331.5,40.6 L329.8,39.9 L328.0,39.2 L326.3,38.5 L324.5,37.9 L322.8,37.2 L321.1,36.7 L319.4,36.1 L317.7,35.6 L316.0,35.1 L314.3,34.6 L312.6,34.2 L310.9,33.8 L309.2,33.4 L307.6,33.0 L305.9,32.7 L304.3,32.4 L302.7,32.2 L301.1,31.9 L299.5,31.7 L297.9,31.6 L296.3,31.4 L294.7,31.3 L293.2,31.2 L291.7,31.1 L290.1,31.1 L288.6,31.1 L287.1,31.1 L285.7,31.2 L284.2,31.3 L282.8,31.4 L281.3,31.5 L279.9,31.7 L278.5,31.9 L277.1,32.1 L275.8,32.3 L274.4,32.6 L273.1,32.9 L271.8,33.3 L270.5,33.6 L269.2,34.0 L268.0,34.4 L266.7,34.9 L265.5,35.3 L264.3,35.8 L263.1,36.3 L262.0,36.9 L260.9,37.4 L259.8,38.0 L258.7,38.7 L257.6,39.3 L256.6,40.0 L255.5,40.7 L254.5,41.4 L253.6,42.1 L252.6,42.9 Z" fill="none" stroke="#111" stroke-width="1.85"/>
<path d="M251.8,41.8 L250.9,42.6 L249.9,43.5 L249.0,44.3 L248.2,45.2 L247.3,46.1 L246.5,47.0 L245.6,48.0 L244.9,49.0 L244.1,50.0 L243.3,51.0 L242.6,52.0 L241.9,53.1 L241.3,54.1 L240.6,55.2 L240.0,56.3 L239.4,57.5 L238.8,58.6 L238.2,59.8 L237.7,61.0 L237.2,62.2 L236.7,63.4 L236.2,64.6 L235.8,65.9 L235.3,67.2 L234.9,68.5 L234.5,69.8 L234.1,71.1 L233.8,72.4 L233.5,73.8 L233.1,75.2 L232.8,76.6 L232.6,78.0 L232.3,79.4 L232.1,80.9 L231.9,82.3 L231.6,83.8 L231.5,85.3 L231.3,86.8 L231.1,88.4 L231.0,89.9 L230.9,91.5 L230.8,93.1 L230.7,94.7 L230.7,96.3 L230.6,97.9 L230.6,99.6 L230.6,101.3 L230.6,102.9 L230.6,104.6 L230.7,106.4 L230.7,108.1 L230.8,109.9 L230.9,111.6 L231.0,113.4 L231.1,115.2 L231.3,117.0 L231.5,118.8 L231.7,120.7 L231.9,122.5 L232.1,124.4 L232.3,126.3 L232.6,128.2 L232.9,130.1 L233.2,132.1 L233.5,134.0 L233.9,136.0 L234.2,137.9 L234.6,139.9 L235.0,141.9 L235.5,143.9 L235.9,145.9 L236.4,148.0 L236.9,150.0 L237.4,152.1 L237.9,154.1 L238.5,156.2 L239.0,158.3 L239.6,160.4 L240.2,162.5 L240.9,164.6 L241.5,166.7 L242.2,168.8 L242.9,170.9 L243.6,173.1 L244.3,175.2 L245.1,177.4 L245.9,179.5 L246.7,181.7 L247.5,183.9 L248.3,186.0 L249.2,188.2 L250.0,190.4 L250.9,192.6 L251.9,194.8 L252.8,197.0 L253.7,199.2 L254.7,201.4 L255.7,203.6 L256.7,205.8 L257.7,208.0 L258.7,210.2 L259.8,212.5 L260.8,214.7 L261.9,216.9 L263.0,219.1 L264.1,221.4 L265.3,223.6 L266.4,225.8 L267.5,228.1 L268.7,230.3 L269.9,232.5 L271.1,234.8 L272.3,237.0 L273.5,239.2 L274.7,241.5 L276.0,243.7 L277.2,246.0 L278.5,248.2 L279.7,250.4 L281.0,252.7 L282.3,254.9 L283.6,257.1 L284.9,259.4 L286.3,261.6 L287.6,263.8 L288.9,266.1 L290.3,268.3 L291.6,270.5 L293.0,272.7 L294.4,274.9 L295.8,277.1 L297.2,279.3 L298.6,281.5 L300.0,283.7 L301.4,285.9 L302.9,288.1 L304.3,290.3 L305.8,292.5 L307.2,294.6 L308.7,296.8 L310.2,298.9 L311.7,301.1 L313.2,303.2 L314.7,305.3 L316.2,307.5 L317.8,309.6 L319.3,311.6 L320.9,313.7 L322.4,315.8 L324.0,317.8 L325.6,319.9 L327.2,321.9 L328.8,323.9 L330.4,325.9 L332.1,327.9 L333.7,329.9 L335.4,331.8 L337.0,333.7 L338.7,335.7 L340.4,337.6 L342.1,339.4 L343.8,341.3 L345.5,343.1 L347.2,345.0 L349.0,346.7 L350.7,348.5 L352.5,350.3 L354.2,352.0 L356.0,353.7 L357.8,355.4 L359.6,357.1 L361.4,358.7 L363.2,360.3 L365.0,361.9 L366.8,363.5 L368.6,365.1 L370.4,366.6 L372.3,368.1 L374.1,369.5 L376.0,371.0 L377.8,372.4 L379.7,373.8 L381.5,375.2 L383.4,376.5 L385.2,377.9 L387.1,379.1 L388.9,380.4 L390.8,381.7 L392.7,382.9 L394.5,384.1 L396.4,385.2 L398.2,386.4 L400.1,387.5 L401.9,388.6 L403.8,389.6 L405.6,390.7 L407.4,391.7 L409.3,392.7 L411.1,393.6 L412.9,394.5 L414.7,395.4 L416.5,396.3 L418.3,397.2 L420.1,398.0 L421.9,398.8 L423.6,399.6 L425.4,400.4 L427.1,401.1 L428.9,401.8 L430.6,402.5 L432.3,403.1 L434.0,403.8 L435.7,404.4 L437.4,405.0 L439.0,405.5 L440.7,406.1 L442.3,406.6 L443.9,407.1 L445.5,407.5 L447.1,408.0 L448.6,408.4 L450.2,408.8 L451.7,409.2 L453.2,409.5 L454.7,409.8 L456.2,410.2 L457.7,410.4 L459.1,410.7 L460.6,410.9 L462.0,411.2 L463.3,411.4 L464.7,411.6 L466.1,411.7 L467.4,411.9 L468.7,412.0 L470.0,412.1 L471.2,412.2 L472.5,412.2 L473.7,412.3 L474.9,412.3 L476.1,412.3 L477.3,412.3 L478.4,412.3 L479.5,412.3 L480.6,412.3 L481.7,412.2 L482.8,412.1 L483.8,412.1 L484.8,412.0 L485.8,411.9 L486.8,411.8 L487.8,411.6 L488.8,411.5 L489.7,411.4 L490.6,411.2 L491.6,411.0 L492.5,410.9 L493.3,410.7 L494.2,410.5 L495.1,410.3 L496.0,410.1 L496.8,409.9 L497.7,409.7 L498.5,409.4 L499.4,409.2 L500.2,408.9 L501.0,408.7 L501.9,408.4 L502.7,408.1 L503.6,407.8 L504.4,407.5 L505.3,407.1 L506.1,406.7 L507.0,406.4 L507.9,406.0 L508.7,405.5 L509.6,405.1 L510.5,404.6 L511.4,404.1 L512.2,403.6 L513.1,403.0 L514.0,402.4 L514.9,401.8 L515.8,401.2 L516.7,400.5 L517.6,399.7 L518.5,399.0 L519.4,398.2 L520.3,397.4 L521.2,396.5 L522.0,395.6 L522.9,394.7 L523.8,393.7 L524.6,392.7 L525.5,391.7 L526.3,390.6 L527.1,389.5 L527.9,388.3 L528.7,387.1 L529.4,385.9 L530.2,384.7 L530.9,383.4 L531.6,382.0 L532.3,380.7 L532.9,379.3 L533.6,377.8 L534.2,376.4 L534.7,374.9 L535.3,373.4 L535.8,371.8 L536.3,370.3 L536.7,368.7 L537.2,367.0 L537.6,365.4 L537.9,363.7 L538.3,362.0 L538.6,360.3 L538.8,358.5 L539.1,356.7 L539.3,354.9 L539.5,353.1 L539.6,351.3 L539.7,349.4 L539.8,347.6 L539.8,345.7 L539.8,343.8 L539.8,341.8 L539.7,339.9 L539.6,338.0 L539.5,336.0 L539.4,334.0 L539.2,332.0 L539.0,330.0 L538.7,328.0 L538.4,326.0 L538.1,323.9 L537.8,321.9 L537.4,319.8 L537.1,317.7 L536.6,315.6 L536.2,313.5 L535.7,311.4 L535.3,309.3 L534.7,307.2 L534.2,305.1 L533.7,302.9 L533.1,300.8 L532.5,298.6 L531.9,296.5 L531.2,294.3 L530.6,292.1 L529.9,289.9 L529.2,287.7 L528.5,285.5 L527.8,283.3 L527.0,281.1 L526.2,278.9 L525.5,276.6 L524.7,274.4 L523.9,272.1 L523.1,269.9 L522.2,267.6 L521.4,265.3 L520.5,263.1 L519.6,260.8 L518.7,258.5 L517.8,256.2 L516.9,253.9 L516.0,251.6 L515.1,249.3 L514.1,247.0 L513.1,244.6 L512.2,242.3 L511.2,240.0 L510.2,237.6 L509.1,235.3 L508.1,233.0 L507.1,230.6 L506.0,228.3 L504.9,225.9 L503.9,223.6 L502.8,221.2 L501.6,218.8 L500.5,216.5 L499.4,214.1 L498.2,211.8 L497.0,209.4 L495.9,207.1 L494.6,204.7 L493.4,202.4 L492.2,200.0 L490.9,197.7 L489.7,195.3 L488.4,193.0 L487.1,190.7 L485.8,188.4 L484.5,186.0 L483.1,183.7 L481.8,181.4 L480.4,179.1 L479.0,176.8 L477.6,174.5 L476.1,172.3 L474.7,170.0 L473.2,167.8 L471.8,165.5 L470.3,163.3 L468.8,161.1 L467.2,158.9 L465.7,156.7 L464.1,154.5 L462.6,152.3 L461.0,150.1 L459.4,148.0 L457.8,145.8 L456.2,143.7 L454.5,141.6 L452.9,139.5 L451.2,137.4 L449.5,135.4 L447.9,133.3 L446.2,131.3 L444.5,129.3 L442.7,127.3 L441.0,125.3 L439.3,123.3 L437.5,121.3 L435.8,119.4 L434.0,117.5 L432.3,115.6 L430.5,113.7 L428.7,111.8 L426.9,109.9 L425.1,108.1 L423.3,106.2 L421.5,104.4 L419.7,102.6 L417.9,100.8 L416.1,99.1 L414.3,97.3 L412.4,95.6 L410.6,93.9 L408.8,92.2 L406.9,90.5 L405.1,88.8 L403.3,87.2 L401.4,85.6 L399.6,84.0 L397.8,82.4 L395.9,80.8 L394.1,79.2 L392.2,77.7 L390.4,76.2 L388.6,74.7 L386.7,73.2 L384.9,71.8 L383.0,70.3 L381.2,68.9 L379.3,67.5 L377.5,66.1 L375.7,64.8 L373.8,63.4 L372.0,62.1 L370.2,60.8 L368.3,59.6 L366.5,58.3 L364.7,57.1 L362.8,55.9 L361.0,54.7 L359.2,53.5 L357.3,52.4 L355.5,51.3 L353.7,50.2 L351.9,49.2 L350.1,48.1 L348.3,47.1 L346.5,46.2 L344.7,45.2 L342.9,44.3 L341.1,43.4 L339.3,42.5 L337.5,41.7 L335.7,40.8 L333.9,40.0 L332.1,39.3 L330.4,38.5 L328.6,37.8 L326.8,37.2 L325.1,36.5 L323.4,35.9 L321.6,35.3 L319.9,34.7 L318.2,34.2 L316.4,33.7 L314.7,33.2 L313.0,32.8 L311.3,32.3 L309.6,31.9 L308.0,31.6 L306.3,31.3 L304.7,31.0 L303.0,30.7 L301.4,30.4 L299.8,30.2 L298.1,30.1 L296.5,29.9 L295.0,29.8 L293.4,29.7 L291.8,29.6 L290.3,29.6 L288.7,29.6 L287.2,29.6 L285.7,29.7 L284.2,29.7 L282.7,29.9 L281.3,30.0 L279.8,30.2 L278.4,30.4 L277.0,30.6 L275.6,30.8 L274.2,31.1 L272.9,31.4 L271.5,31.8 L270.2,32.2 L268.9,32.6 L267.6,33.0 L266.3,33.4 L265.1,33.9 L263.9,34.4 L262.7,35.0 L261.5,35.5 L260.3,36.1 L259.2,36.8 L258.1,37.4 L257.0,38.1 L255.9,38.8 L254.8,39.5 L253.8,40.2 L252.8,41.0 L251.8,41.8 Z" fill="none" stroke="#111" stroke-width="1.85"/>
<path d="M252.3,42.5 L251.4,43.3 L250.5,44.2 L249.7,45.1 L248.8,46.0 L248.0,46.9 L247.2,47.8 L246.4,48.8 L245.7,49.8 L245.0,50.7 L244.3,51.8 L243.6,52.8 L242.9,53.8 L242.3,54.9 L241.6,55.9 L241.0,57.0 L240.5,58.1 L239.9,59.3 L239.3,60.4 L238.8,61.6 L238.3,62.7 L237.8,63.9 L237.3,65.1 L236.9,66.4 L236.4,67.6 L236.0,68.9 L235.6,70.2 L235.2,71.5 L234.9,72.8 L234.5,74.1 L234.2,75.5 L233.9,76.8 L233.6,78.2 L233.3,79.6 L233.0,81.1 L232.8,82.5 L232.6,84.0 L232.4,85.5 L232.2,87.0 L232.0,88.5 L231.9,90.0 L231.7,91.6 L231.6,93.2 L231.5,94.7 L231.5,96.3 L231.4,98.0 L231.4,99.6 L231.4,101.3 L231.4,103.0 L231.4,104.6 L231.4,106.4 L231.5,108.1 L231.6,109.8 L231.7,111.6 L231.8,113.4 L232.0,115.1 L232.1,117.0 L232.3,118.8 L232.5,120.6 L232.8,122.5 L233.0,124.3 L233.3,126.2 L233.6,128.1 L233.9,130.0 L234.2,131.9 L234.5,133.8 L234.9,135.8 L235.3,137.7 L235.7,139.7 L236.1,141.7 L236.6,143.7 L237.0,145.7 L237.5,147.7 L238.0,149.7 L238.6,151.8 L239.1,153.8 L239.7,155.9 L240.3,157.9 L240.9,160.0 L241.5,162.1 L242.1,164.2 L242.8,166.3 L243.5,168.4 L244.2,170.5 L244.9,172.7 L245.6,174.8 L246.4,176.9 L247.2,179.1 L248.0,181.2 L248.8,183.4 L249.6,185.6 L250.4,187.7 L251.3,189.9 L252.2,192.1 L253.1,194.3 L254.0,196.5 L254.9,198.7 L255.9,200.9 L256.8,203.1 L257.8,205.3 L258.8,207.5 L259.8,209.8 L260.8,212.0 L261.9,214.2 L262.9,216.4 L264.0,218.7 L265.1,220.9 L266.2,223.1 L267.3,225.4 L268.4,227.6 L269.6,229.8 L270.7,232.1 L271.9,234.3 L273.1,236.6 L274.3,238.8 L275.5,241.1 L276.7,243.3 L278.0,245.5 L279.2,247.8 L280.5,250.0 L281.8,252.2 L283.0,254.5 L284.3,256.7 L285.7,258.9 L287.0,261.2 L288.3,263.4 L289.7,265.6 L291.0,267.8 L292.4,270.0 L293.8,272.2 L295.2,274.4 L296.6,276.6 L298.0,278.8 L299.4,281.0 L300.8,283.2 L302.3,285.4 L303.7,287.5 L305.2,289.7 L306.7,291.8 L308.2,294.0 L309.7,296.1 L311.2,298.2 L312.7,300.3 L314.2,302.5 L315.8,304.6 L317.3,306.6 L318.9,308.7 L320.4,310.8 L322.0,312.8 L323.6,314.9 L325.2,316.9 L326.8,318.9 L328.4,320.9 L330.1,322.9 L331.7,324.8 L333.4,326.8 L335.0,328.7 L336.7,330.7 L338.4,332.6 L340.1,334.4 L341.8,336.3 L343.5,338.2 L345.2,340.0 L346.9,341.8 L348.7,343.6 L350.4,345.4 L352.1,347.1 L353.9,348.9 L355.7,350.6 L357.4,352.3 L359.2,353.9 L361.0,355.6 L362.8,357.2 L364.6,358.8 L366.4,360.4 L368.2,362.0 L370.1,363.5 L371.9,365.0 L373.7,366.5 L375.5,367.9 L377.4,369.4 L379.2,370.8 L381.1,372.2 L382.9,373.5 L384.8,374.9 L386.6,376.2 L388.4,377.4 L390.3,378.7 L392.1,379.9 L394.0,381.1 L395.8,382.3 L397.7,383.5 L399.5,384.6 L401.4,385.7 L403.2,386.8 L405.0,387.8 L406.9,388.8 L408.7,389.8 L410.5,390.8 L412.3,391.7 L414.1,392.6 L415.9,393.5 L417.7,394.4 L419.5,395.2 L421.3,396.0 L423.0,396.8 L424.8,397.6 L426.5,398.3 L428.3,399.0 L430.0,399.7 L431.7,400.3 L433.4,401.0 L435.1,401.6 L436.8,402.2 L438.4,402.7 L440.0,403.3 L441.7,403.8 L443.3,404.3 L444.9,404.7 L446.5,405.2 L448.0,405.6 L449.6,406.0 L451.1,406.4 L452.6,406.7 L454.1,407.1 L455.5,407.4 L457.0,407.7 L458.4,408.0 L459.8,408.2 L461.2,408.4 L462.6,408.7 L463.9,408.9 L465.3,409.0 L466.6,409.2 L467.9,409.3 L469.1,409.5 L470.4,409.6 L471.6,409.7 L472.8,409.7 L474.0,409.8 L475.1,409.9 L476.3,409.9 L477.4,409.9 L478.5,409.9 L479.6,409.9 L480.6,409.9 L481.6,409.9 L482.7,409.9 L483.7,409.8 L484.6,409.8 L485.6,409.7 L486.6,409.6 L487.5,409.5 L488.4,409.4 L489.3,409.3 L490.2,409.2 L491.1,409.1 L491.9,409.0 L492.8,408.9 L493.6,408.7 L494.5,408.6 L495.3,408.5 L496.1,408.3 L497.0,408.1 L497.8,407.9 L498.6,407.8 L499.5,407.6 L500.3,407.3 L501.1,407.1 L501.9,406.9 L502.8,406.6 L503.6,406.3 L504.5,406.1 L505.3,405.7 L506.2,405.4 L507.1,405.1 L507.9,404.7 L508.8,404.3 L509.7,403.9 L510.6,403.4 L511.5,402.9 L512.4,402.4 L513.3,401.9 L514.2,401.3 L515.2,400.7 L516.1,400.0 L517.0,399.4 L517.9,398.7 L518.9,397.9 L519.8,397.1 L520.7,396.3 L521.6,395.4 L522.6,394.5 L523.5,393.6 L524.4,392.6 L525.3,391.6 L526.2,390.5 L527.0,389.5 L527.9,388.3 L528.7,387.2 L529.6,386.0 L530.4,384.7 L531.2,383.4 L532.0,382.1 L532.7,380.8 L533.5,379.4 L534.2,378.0 L534.9,376.5 L535.5,375.0 L536.2,373.5 L536.8,372.0 L537.4,370.4 L537.9,368.8 L538.5,367.1 L539.0,365.5 L539.4,363.8 L539.9,362.0 L540.3,360.3 L540.7,358.5 L541.0,356.7 L541.3,354.9 L541.6,353.1 L541.8,351.2 L542.1,349.3 L542.2,347.4 L542.4,345.5 L542.5,343.6 L542.6,341.6 L542.6,339.6 L542.6,337.6 L542.6,335.6 L542.6,333.6 L542.5,331.6 L542.4,329.5 L542.2,327.4 L542.0,325.4 L541.8,323.3 L541.6,321.2 L541.3,319.1 L541.0,316.9 L540.7,314.8 L540.3,312.6 L539.9,310.5 L539.5,308.3 L539.1,306.1 L538.6,304.0 L538.1,301.8 L537.6,299.6 L537.1,297.4 L536.5,295.1 L535.9,292.9 L535.3,290.7 L534.7,288.4 L534.1,286.2 L533.4,283.9 L532.7,281.7 L532.0,279.4 L531.3,277.1 L530.5,274.8 L529.8,272.5 L529.0,270.3 L528.2,267.9 L527.4,265.6 L526.6,263.3 L525.8,261.0 L524.9,258.7 L524.0,256.3 L523.2,254.0 L522.3,251.6 L521.4,249.3 L520.4,246.9 L519.5,244.6 L518.6,242.2 L517.6,239.8 L516.6,237.4 L515.6,235.0 L514.6,232.7 L513.6,230.3 L512.6,227.9 L511.6,225.5 L510.5,223.1 L509.5,220.7 L508.4,218.3 L507.3,215.9 L506.2,213.5 L505.1,211.0 L503.9,208.6 L502.8,206.2 L501.6,203.8 L500.4,201.4 L499.2,199.0 L498.0,196.6 L496.7,194.2 L495.5,191.9 L494.2,189.5 L492.9,187.1 L491.6,184.7 L490.3,182.4 L489.0,180.0 L487.6,177.7 L486.2,175.3 L484.8,173.0 L483.4,170.7 L481.9,168.4 L480.5,166.1 L479.0,163.8 L477.5,161.5 L476.0,159.3 L474.4,157.0 L472.9,154.8 L471.3,152.6 L469.7,150.4 L468.1,148.2 L466.4,146.0 L464.8,143.9 L463.1,141.8 L461.4,139.7 L459.7,137.6 L458.0,135.5 L456.2,133.4 L454.5,131.4 L452.7,129.4 L450.9,127.4 L449.1,125.4 L447.3,123.4 L445.4,121.5 L443.6,119.6 L441.7,117.7 L439.9,115.8 L438.0,114.0 L436.1,112.1 L434.2,110.3 L432.3,108.5 L430.3,106.7 L428.4,105.0 L426.5,103.2 L424.5,101.5 L422.6,99.8 L420.6,98.1 L418.7,96.5 L416.7,94.8 L414.7,93.2 L412.8,91.6 L410.8,90.0 L408.8,88.5 L406.9,86.9 L404.9,85.4 L402.9,83.9 L401.0,82.4 L399.0,80.9 L397.1,79.5 L395.1,78.0 L393.2,76.6 L391.2,75.2 L389.3,73.8 L387.3,72.5 L385.4,71.1 L383.5,69.8 L381.5,68.4 L379.6,67.1 L377.7,65.8 L375.8,64.6 L373.9,63.3 L372.0,62.1 L370.1,60.9 L368.2,59.7 L366.4,58.5 L364.5,57.3 L362.6,56.1 L360.8,55.0 L358.9,53.9 L357.1,52.8 L355.3,51.7 L353.4,50.7 L351.6,49.6 L349.8,48.6 L348.0,47.6 L346.2,46.6 L344.4,45.7 L342.6,44.7 L340.8,43.8 L339.0,42.9 L337.3,42.1 L335.5,41.2 L333.7,40.4 L332.0,39.6 L330.2,38.8 L328.5,38.1 L326.8,37.4 L325.0,36.7 L323.3,36.0 L321.6,35.4 L319.9,34.8 L318.2,34.2 L316.4,33.6 L314.8,33.1 L313.1,32.6 L311.4,32.2 L309.7,31.7 L308.0,31.4 L306.4,31.0 L304.7,30.7 L303.1,30.4 L301.5,30.1 L299.8,29.8 L298.2,29.6 L296.6,29.5 L295.0,29.3 L293.4,29.2 L291.9,29.2 L290.3,29.1 L288.8,29.1 L287.2,29.2 L285.7,29.2 L284.2,29.3 L282.7,29.5 L281.3,29.6 L279.8,29.8 L278.4,30.1 L277.0,30.3 L275.6,30.6 L274.2,31.0 L272.8,31.3 L271.5,31.7 L270.2,32.1 L268.9,32.6 L267.6,33.1 L266.4,33.6 L265.1,34.1 L263.9,34.7 L262.8,35.3 L261.6,35.9 L260.5,36.5 L259.4,37.2 L258.3,37.9 L257.2,38.6 L256.2,39.3 L255.2,40.1 L254.2,40.9 L253.3,41.7 L252.3,42.5 Z" fill="none" stroke="#111" stroke-width="1.85"/>
<path d="M296.9,89.4 L296.9,88.9 L296.9,88.4 L297.0,87.9 L297.1,87.4 L297.2,86.8 L297.3,86.2 L297.5,85.6 L297.7,84.9 L298.0,84.3 L298.3,83.6 L298.6,82.9 L298.9,82.2 L299.2,81.4 L299.6,80.7 L300.0,79.9 L300.4,79.1 L300.8,78.3 L301.3,77.5 L301.7,76.7 L302.2,75.9 L302.7,75.0 L303.2,74.2 L303.7,73.3 L304.2,72.5 L304.8,71.6 L305.3,70.8 L305.9,69.9 L306.4,69.0 L307.0,68.1 L307.6,67.2 L308.2,66.3 L308.7,65.4 L309.3,64.5 L309.9,63.6 L310.5,62.7 L311.1,61.8 L311.6,60.9 L312.2,60.0 L312.8,59.2 L313.3,58.4 L313.9,57.6 L314.4,56.9 L314.9,56.2 L315.3,55.5 L315.8,55.0 L316.3,54.4 L316.7,53.9 L317.1,53.5 L317.5,53.1 L317.9,52.7 L318.3,52.4 L318.7,52.1 L319.1,51.8 L319.5,51.5 L319.9,51.3 L320.3,51.0 L320.7,50.8 L321.1,50.6 L321.5,50.4 L321.9,50.3 L322.3,50.1 L322.7,50.0 L323.2,49.8 L323.6,49.7 L324.0,49.6 L324.5,49.5 L324.9,49.4 L325.4,49.3 L325.9,49.2 L326.4,49.2 L327.0,49.1 L327.5,49.1 L328.1,49.1 L328.8,49.1 L329.5,49.2 L330.2,49.2 L331.0,49.3 L331.8,49.4 L332.7,49.6 L333.6,49.7 L334.5,49.9 L335.5,50.1 L336.4,50.3 L337.4,50.6 L338.4,50.8 L339.4,51.1 L340.5,51.3 L341.5,51.6 L342.5,51.9 L343.5,52.2 L344.6,52.5 L345.6,52.9 L346.7,53.2 L347.9,53.6 L349.0,54.0 L350.3,54.4 L351.5,54.8 L352.8,55.3 L354.2,55.8 L355.6,56.3 L357.1,56.8 L358.6,57.4 L360.1,58.0 L361.6,58.5 L363.1,59.2 L364.6,59.8 L366.1,60.4 L367.5,61.1 L369.0,61.8 L370.4,62.4 L371.7,63.1 L373.0,63.8 L374.3,64.6 L375.5,65.3 L376.6,66.0 L377.6,66.8 L378.5,67.5 L379.3,68.2 L380.0,69.0" fill="none" stroke="#111" stroke-width="2.0" stroke-linejoin="round" stroke-linecap="round" />
<line x1="121.40" y1="36.40" x2="142.10" y2="382.90" stroke="#1e1e1e" stroke-width="2.0" stroke-linecap="square"/>
<line x1="142.10" y1="382.90" x2="411.20" y2="497.70" stroke="#1e1e1e" stroke-width="2.0" stroke-linecap="square"/>
<line x1="411.20" y1="497.70" x2="620.10" y2="367.90" stroke="#1e1e1e" stroke-width="2.0" stroke-linecap="square"/>
<line x1="122.29" y1="51.30" x2="132.23" y2="50.20" stroke="#1e1e1e" stroke-width="2.0" />
<line x1="124.51" y1="88.50" x2="129.48" y2="87.95" stroke="#1e1e1e" stroke-width="2.0" />
<line x1="126.69" y1="124.90" x2="136.63" y2="123.80" stroke="#1e1e1e" stroke-width="2.0" />
<line x1="128.82" y1="160.60" x2="133.79" y2="160.05" stroke="#1e1e1e" stroke-width="2.0" />
<line x1="130.91" y1="195.60" x2="140.85" y2="194.50" stroke="#1e1e1e" stroke-width="2.0" />
<line x1="132.94" y1="229.60" x2="137.91" y2="229.05" stroke="#1e1e1e" stroke-width="2.0" />
<line x1="134.93" y1="262.80" x2="144.87" y2="261.70" stroke="#1e1e1e" stroke-width="2.0" />
<line x1="136.87" y1="295.40" x2="141.84" y2="294.85" stroke="#1e1e1e" stroke-width="2.0" />
<line x1="138.78" y1="327.40" x2="148.72" y2="326.30" stroke="#1e1e1e" stroke-width="2.0" />
<line x1="140.66" y1="358.80" x2="145.63" y2="358.25" stroke="#1e1e1e" stroke-width="2.0" />
<text x="96.2" y="64.3" font-family="'Liberation Serif',serif" font-size="20.4" text-anchor="end" stroke="#000" stroke-width="0.38" >0.0</text>
<text x="100.6" y="138.6" font-family="'Liberation Serif',serif" font-size="20.4" text-anchor="end" stroke="#000" stroke-width="0.38" >-0.5</text>
<text x="106.3" y="211.1" font-family="'Liberation Serif',serif" font-size="20.4" text-anchor="end" stroke="#000" stroke-width="0.38" >-1.0</text>
<text x="110.8" y="281.5" font-family="'Liberation Serif',serif" font-size="20.4" text-anchor="end" stroke="#000" stroke-width="0.38" >-1.5</text>
<text x="115.1" y="348.9" font-family="'Liberation Serif',serif" font-size="20.4" text-anchor="end" stroke="#000" stroke-width="0.38" >-2.0</text>
<line x1="158.30" y1="389.81" x2="166.58" y2="386.30" stroke="#1e1e1e" stroke-width="2.0" />
<line x1="174.80" y1="396.85" x2="179.40" y2="394.90" stroke="#1e1e1e" stroke-width="2.0" />
<line x1="191.30" y1="403.89" x2="199.58" y2="400.38" stroke="#1e1e1e" stroke-width="2.0" />
<line x1="208.90" y1="411.40" x2="213.50" y2="409.45" stroke="#1e1e1e" stroke-width="2.0" />
<line x1="226.60" y1="418.95" x2="234.88" y2="415.44" stroke="#1e1e1e" stroke-width="2.0" />
<line x1="245.40" y1="426.97" x2="250.00" y2="425.02" stroke="#1e1e1e" stroke-width="2.0" />
<line x1="263.60" y1="434.73" x2="271.88" y2="431.22" stroke="#1e1e1e" stroke-width="2.0" />
<line x1="282.90" y1="442.97" x2="287.50" y2="441.02" stroke="#1e1e1e" stroke-width="2.0" />
<line x1="302.10" y1="451.16" x2="310.38" y2="447.65" stroke="#1e1e1e" stroke-width="2.0" />
<line x1="322.50" y1="459.86" x2="327.10" y2="457.91" stroke="#1e1e1e" stroke-width="2.0" />
<line x1="343.90" y1="468.99" x2="352.18" y2="465.48" stroke="#1e1e1e" stroke-width="2.0" />
<line x1="365.40" y1="478.16" x2="370.00" y2="476.21" stroke="#1e1e1e" stroke-width="2.0" />
<line x1="387.90" y1="487.76" x2="396.18" y2="484.25" stroke="#1e1e1e" stroke-width="2.0" />
<text x="134.5" y="416.0" font-family="'Liberation Serif',serif" font-size="20" text-anchor="middle" stroke="#000" stroke-width="0.38" >0</text>
<text x="167.6" y="430.9" font-family="'Liberation Serif',serif" font-size="20" text-anchor="middle" stroke="#000" stroke-width="0.38" >2</text>
<text x="204.0" y="446.3" font-family="'Liberation Serif',serif" font-size="20" text-anchor="middle" stroke="#000" stroke-width="0.38" >4</text>
<text x="241.8" y="463.3" font-family="'Liberation Serif',serif" font-size="20" text-anchor="middle" stroke="#000" stroke-width="0.38" >6</text>
<text x="282.3" y="481.0" font-family="'Liberation Serif',serif" font-size="20" text-anchor="middle" stroke="#000" stroke-width="0.38" >8</text>
<text x="321.0" y="500.3" font-family="'Liberation Serif',serif" font-size="20" text-anchor="middle" stroke="#000" stroke-width="0.38" >10</text>
<text x="366.5" y="521.1" font-family="'Liberation Serif',serif" font-size="20" text-anchor="middle" stroke="#000" stroke-width="0.38" >12</text>
<line x1="429.60" y1="486.27" x2="420.40" y2="482.37" stroke="#1e1e1e" stroke-width="2.0" />
<line x1="446.80" y1="475.58" x2="442.20" y2="473.63" stroke="#1e1e1e" stroke-width="2.0" />
<line x1="464.90" y1="464.33" x2="455.70" y2="460.43" stroke="#1e1e1e" stroke-width="2.0" />
<line x1="482.10" y1="453.65" x2="477.50" y2="451.70" stroke="#1e1e1e" stroke-width="2.0" />
<line x1="498.60" y1="443.39" x2="489.40" y2="439.49" stroke="#1e1e1e" stroke-width="2.0" />
<line x1="513.40" y1="434.20" x2="508.80" y2="432.25" stroke="#1e1e1e" stroke-width="2.0" />
<line x1="528.10" y1="425.06" x2="518.90" y2="421.16" stroke="#1e1e1e" stroke-width="2.0" />
<line x1="541.30" y1="416.86" x2="536.70" y2="414.91" stroke="#1e1e1e" stroke-width="2.0" />
<line x1="556.10" y1="407.67" x2="546.90" y2="403.77" stroke="#1e1e1e" stroke-width="2.0" />
<line x1="567.60" y1="400.52" x2="563.00" y2="398.57" stroke="#1e1e1e" stroke-width="2.0" />
<line x1="582.40" y1="391.32" x2="573.20" y2="387.42" stroke="#1e1e1e" stroke-width="2.0" />
<line x1="595.50" y1="383.19" x2="590.90" y2="381.24" stroke="#1e1e1e" stroke-width="2.0" />
<line x1="607.80" y1="375.54" x2="598.60" y2="371.64" stroke="#1e1e1e" stroke-width="2.0" />
<text x="463.0" y="518.0" font-family="'Liberation Serif',serif" font-size="20" text-anchor="middle" stroke="#000" stroke-width="0.38" >-3</text>
<text x="499.4" y="496.0" font-family="'Liberation Serif',serif" font-size="20" text-anchor="middle" stroke="#000" stroke-width="0.38" >-2</text>
<text x="531.4" y="473.8" font-family="'Liberation Serif',serif" font-size="20" text-anchor="middle" stroke="#000" stroke-width="0.38" >-1</text>
<text x="559.4" y="452.3" font-family="'Liberation Serif',serif" font-size="20" text-anchor="middle" stroke="#000" stroke-width="0.38" >0</text>
<text x="587.3" y="434.4" font-family="'Liberation Serif',serif" font-size="20" text-anchor="middle" stroke="#000" stroke-width="0.38" >1</text>
<text x="614.4" y="416.3" font-family="'Liberation Serif',serif" font-size="20" text-anchor="middle" stroke="#000" stroke-width="0.38" >2</text>
<text x="639.0" y="399.0" font-family="'Liberation Serif',serif" font-size="20" text-anchor="middle" stroke="#000" stroke-width="0.38" >3</text>
<text x="36.9" y="239.3" font-family="'Liberation Serif',serif" font-size="22.6" text-anchor="middle" stroke="#000" stroke-width="0.38" transform="rotate(-90 36.9 239.3)">Z-Direction</text>
<text x="0.0" y="0.0" font-family="'Liberation Serif',serif" font-size="23" text-anchor="start" stroke="#000" stroke-width="0.38" transform="translate(149.9 470.5) rotate(23.8)">X-Direction</text>
<text x="0.0" y="0.0" font-family="'Liberation Serif',serif" font-size="22.8" text-anchor="start" stroke="#000" stroke-width="0.38" transform="translate(550.8 509.7) rotate(-34.2)">Y-Direction</text>
<line x1="490.70" y1="47.80" x2="541.70" y2="47.80" stroke="#ff2020" stroke-width="2" />
<circle cx="516.4" cy="47.8" r="1.8" fill="#fff" stroke="#c8c8c8" stroke-width="0.7"/>
<text x="548.0" y="55.4" font-family="'Liberation Serif',serif" font-size="22.2" text-anchor="start" stroke="#000" stroke-width="0.38" >Desired</text>
<line x1="490.70" y1="75.65" x2="541.70" y2="75.65" stroke="#2020ff" stroke-width="2" />
<circle cx="516.4" cy="75.7" r="1.8" fill="#fff" stroke="#c8c8c8" stroke-width="0.7"/>
<text x="548.0" y="83.2" font-family="'Liberation Serif',serif" font-size="22.2" text-anchor="start" stroke="#000" stroke-width="0.38" >Designed</text>
<line x1="490.70" y1="103.50" x2="541.70" y2="103.50" stroke="#1a1a1a" stroke-width="2" />
<circle cx="516.4" cy="103.5" r="1.8" fill="#fff" stroke="#c8c8c8" stroke-width="0.7"/>
<text x="548.0" y="111.1" font-family="'Liberation Serif',serif" font-size="22.2" text-anchor="start" stroke="#000" stroke-width="0.38" >Real</text>
<text x="0.5" y="27.0" font-family="'Liberation Sans',sans-serif" font-size="33" text-anchor="start" >(a)</text>
<text x="356.9" y="572.0" font-family="'Liberation Serif',serif" font-size="33" text-anchor="middle" stroke="#000" stroke-width="0.22" >Path</text>
</svg></body></html>
